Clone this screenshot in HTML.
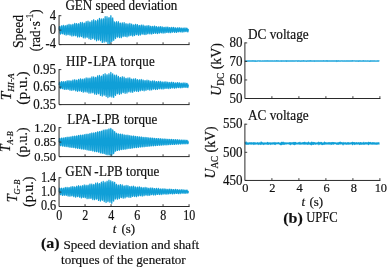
<!DOCTYPE html>
<html><head><meta charset="utf-8"><title>Figure</title>
<style>html,body{margin:0;padding:0;background:#fff}svg{display:block}</style>
</head><body>
<svg width="387" height="268" viewBox="0 0 387 268" font-family="'Liberation Serif', 'Times New Roman', serif" fill="#111" stroke="#111" stroke-width="0.18">
<path d="M59.0,26.7 L59.5,26.6 L59.9,26.5 L60.3,26.5 L60.8,26.4 L61.2,26.4 L61.6,26.3 L62.1,26.2 L62.5,26.2 L62.9,26.1 L63.4,26.1 L63.8,26.0 L64.2,25.9 L64.7,25.9 L65.1,25.8 L65.5,25.8 L66.0,25.7 L66.4,25.6 L66.8,25.6 L67.3,25.5 L67.7,25.5 L68.1,25.4 L68.6,25.3 L69.0,25.3 L69.4,25.2 L69.9,25.2 L70.3,25.1 L70.7,25.0 L71.2,25.0 L71.6,24.9 L72.0,24.9 L72.5,24.8 L72.9,24.7 L73.3,24.7 L73.8,24.6 L74.2,24.6 L74.6,24.5 L75.1,24.4 L75.5,24.4 L75.9,24.3 L76.4,24.3 L76.8,24.2 L77.2,24.1 L77.7,24.1 L78.1,24.0 L78.5,24.0 L78.9,23.9 L79.4,23.8 L79.8,23.8 L80.2,23.7 L80.7,23.7 L81.1,23.6 L81.5,23.5 L82.0,23.5 L82.4,23.4 L82.8,23.4 L83.3,23.3 L83.7,23.2 L84.1,23.2 L84.6,23.1 L85.0,23.1 L85.4,23.0 L85.9,22.9 L86.3,22.8 L86.7,22.8 L87.2,22.7 L87.6,22.6 L88.0,22.5 L88.5,22.4 L88.9,22.4 L89.3,22.3 L89.8,22.2 L90.2,22.1 L90.6,22.1 L91.1,22.0 L91.5,21.9 L91.9,21.8 L92.4,21.7 L92.8,21.7 L93.2,21.6 L93.7,21.5 L94.1,21.4 L94.5,21.4 L95.0,21.3 L95.4,21.2 L95.8,21.1 L96.3,21.0 L96.7,21.0 L97.1,20.9 L97.6,20.8 L98.0,20.7 L98.4,20.6 L98.8,20.5 L99.3,20.4 L99.7,20.3 L100.1,20.2 L100.6,20.0 L101.0,19.9 L101.4,19.8 L101.9,19.7 L102.3,19.6 L102.7,19.5 L103.2,19.4 L103.6,19.3 L104.0,19.1 L104.5,19.0 L104.9,18.9 L105.3,18.8 L105.8,18.7 L106.2,18.6 L106.6,18.5 L107.1,18.4 L107.5,18.3 L107.9,18.2 L108.4,18.1 L108.8,17.9 L109.2,17.8 L109.7,17.7 L110.1,17.7 L110.5,17.8 L111.0,17.9 L111.4,18.1 L111.8,18.7 L112.3,19.2 L112.7,19.7 L113.1,20.3 L113.6,20.8 L114.0,21.4 L114.4,21.9 L114.9,22.5 L115.3,22.6 L115.7,22.7 L116.2,22.8 L116.6,22.8 L117.0,22.9 L117.5,22.9 L117.9,23.0 L118.3,23.1 L118.8,23.1 L119.2,23.2 L119.6,23.3 L120.0,23.3 L120.5,23.4 L120.9,23.4 L121.3,23.5 L121.8,23.6 L122.2,23.6 L122.6,23.7 L123.1,23.7 L123.5,23.8 L123.9,23.8 L124.4,23.9 L124.8,23.9 L125.2,24.0 L125.7,24.1 L126.1,24.1 L126.5,24.2 L127.0,24.2 L127.4,24.3 L127.8,24.3 L128.3,24.4 L128.7,24.4 L129.1,24.5 L129.6,24.5 L130.0,24.6 L130.4,24.6 L130.9,24.7 L131.3,24.7 L131.7,24.8 L132.2,24.8 L132.6,24.9 L133.0,24.9 L133.5,24.9 L133.9,25.0 L134.3,25.0 L134.8,25.1 L135.2,25.1 L135.6,25.2 L136.1,25.2 L136.5,25.3 L136.9,25.3 L137.4,25.3 L137.8,25.4 L138.2,25.4 L138.6,25.5 L139.1,25.5 L139.5,25.5 L139.9,25.6 L140.4,25.6 L140.8,25.7 L141.2,25.7 L141.7,25.7 L142.1,25.8 L142.5,25.8 L143.0,25.9 L143.4,25.9 L143.8,25.9 L144.3,26.0 L144.7,26.0 L145.1,26.0 L145.6,26.1 L146.0,26.1 L146.4,26.1 L146.9,26.2 L147.3,26.2 L147.7,26.2 L148.2,26.3 L148.6,26.3 L149.0,26.3 L149.5,26.4 L149.9,26.4 L150.3,26.4 L150.8,26.5 L151.2,26.5 L151.6,26.5 L152.1,26.6 L152.5,26.6 L152.9,26.6 L153.4,26.7 L153.8,26.7 L154.2,26.7 L154.7,26.7 L155.1,26.8 L155.5,26.8 L156.0,26.8 L156.4,26.9 L156.8,26.9 L157.3,26.9 L157.7,26.9 L158.1,27.0 L158.6,27.0 L159.0,27.0 L159.4,27.0 L159.8,27.1 L160.3,27.1 L160.7,27.1 L161.1,27.2 L161.6,27.2 L162.0,27.2 L162.4,27.2 L162.9,27.3 L163.3,27.3 L163.7,27.3 L164.2,27.3 L164.6,27.3 L165.0,27.4 L165.5,27.4 L165.9,27.4 L166.3,27.4 L166.8,27.5 L167.2,27.5 L167.6,27.5 L168.1,27.5 L168.5,27.6 L168.9,27.6 L169.4,27.6 L169.8,27.6 L170.2,27.6 L170.7,27.7 L171.1,27.7 L171.5,27.7 L172.0,27.7 L172.4,27.7 L172.8,27.8 L173.3,27.8 L173.7,27.8 L174.1,27.8 L174.6,27.8 L175.0,27.9 L175.4,27.9 L175.9,27.9 L176.3,27.9 L176.7,27.9 L177.2,27.9 L177.6,28.0 L178.0,28.0 L178.4,28.0 L178.9,28.0 L179.3,28.0 L179.7,28.1 L180.2,28.1 L180.6,28.1 L181.0,28.1 L181.5,28.1 L181.9,28.1 L182.3,28.2 L182.8,28.2 L183.2,28.2 L183.6,28.2 L184.1,28.2 L184.5,28.2 L184.9,28.3 L185.4,28.3 L185.8,28.3 L186.2,28.3 L186.7,28.3 L187.1,28.3 L187.5,28.3 L188.0,28.4 L188.4,28.4 L188.4,31.5 L188.0,31.5 L187.5,31.6 L187.1,31.6 L186.7,31.6 L186.2,31.6 L185.8,31.6 L185.4,31.6 L184.9,31.6 L184.5,31.7 L184.1,31.7 L183.6,31.7 L183.2,31.7 L182.8,31.7 L182.3,31.7 L181.9,31.8 L181.5,31.8 L181.0,31.8 L180.6,31.8 L180.2,31.8 L179.7,31.8 L179.3,31.9 L178.9,31.9 L178.4,31.9 L178.0,31.9 L177.6,31.9 L177.2,32.0 L176.7,32.0 L176.3,32.0 L175.9,32.0 L175.4,32.0 L175.0,32.0 L174.6,32.1 L174.1,32.1 L173.7,32.1 L173.3,32.1 L172.8,32.1 L172.4,32.2 L172.0,32.2 L171.5,32.2 L171.1,32.2 L170.7,32.2 L170.2,32.3 L169.8,32.3 L169.4,32.3 L168.9,32.3 L168.5,32.3 L168.1,32.4 L167.6,32.4 L167.2,32.4 L166.8,32.4 L166.3,32.5 L165.9,32.5 L165.5,32.5 L165.0,32.5 L164.6,32.6 L164.2,32.6 L163.7,32.6 L163.3,32.6 L162.9,32.6 L162.4,32.7 L162.0,32.7 L161.6,32.7 L161.1,32.7 L160.7,32.8 L160.3,32.8 L159.8,32.8 L159.4,32.9 L159.0,32.9 L158.6,32.9 L158.1,32.9 L157.7,33.0 L157.3,33.0 L156.8,33.0 L156.4,33.0 L156.0,33.1 L155.5,33.1 L155.1,33.1 L154.7,33.2 L154.2,33.2 L153.8,33.2 L153.4,33.2 L152.9,33.3 L152.5,33.3 L152.1,33.3 L151.6,33.4 L151.2,33.4 L150.8,33.4 L150.3,33.5 L149.9,33.5 L149.5,33.5 L149.0,33.6 L148.6,33.6 L148.2,33.6 L147.7,33.7 L147.3,33.7 L146.9,33.7 L146.4,33.8 L146.0,33.8 L145.6,33.8 L145.1,33.9 L144.7,33.9 L144.3,33.9 L143.8,34.0 L143.4,34.0 L143.0,34.0 L142.5,34.1 L142.1,34.1 L141.7,34.2 L141.2,34.2 L140.8,34.2 L140.4,34.3 L139.9,34.3 L139.5,34.4 L139.1,34.4 L138.6,34.4 L138.2,34.5 L137.8,34.5 L137.4,34.6 L136.9,34.6 L136.5,34.6 L136.1,34.7 L135.6,34.7 L135.2,34.8 L134.8,34.8 L134.3,34.9 L133.9,34.9 L133.5,35.0 L133.0,35.0 L132.6,35.0 L132.2,35.1 L131.7,35.1 L131.3,35.2 L130.9,35.2 L130.4,35.3 L130.0,35.3 L129.6,35.4 L129.1,35.4 L128.7,35.5 L128.3,35.5 L127.8,35.6 L127.4,35.6 L127.0,35.7 L126.5,35.7 L126.1,35.8 L125.7,35.8 L125.2,35.9 L124.8,36.0 L124.4,36.0 L123.9,36.1 L123.5,36.1 L123.1,36.2 L122.6,36.2 L122.2,36.3 L121.8,36.3 L121.3,36.4 L120.9,36.5 L120.5,36.5 L120.0,36.6 L119.6,36.6 L119.2,36.7 L118.8,36.8 L118.3,36.8 L117.9,36.9 L117.5,37.0 L117.0,37.0 L116.6,37.1 L116.2,37.1 L115.7,37.2 L115.3,37.3 L114.9,37.4 L114.4,38.0 L114.0,38.5 L113.6,39.1 L113.1,39.6 L112.7,40.2 L112.3,40.7 L111.8,41.2 L111.4,41.8 L111.0,42.0 L110.5,42.1 L110.1,42.2 L109.7,42.2 L109.2,42.1 L108.8,42.0 L108.4,41.8 L107.9,41.7 L107.5,41.6 L107.1,41.5 L106.6,41.4 L106.2,41.3 L105.8,41.2 L105.3,41.1 L104.9,41.0 L104.5,40.9 L104.0,40.8 L103.6,40.6 L103.2,40.5 L102.7,40.4 L102.3,40.3 L101.9,40.2 L101.4,40.1 L101.0,40.0 L100.6,39.9 L100.1,39.7 L99.7,39.6 L99.3,39.5 L98.8,39.4 L98.4,39.3 L98.0,39.2 L97.6,39.1 L97.1,39.0 L96.7,38.9 L96.3,38.9 L95.8,38.8 L95.4,38.7 L95.0,38.6 L94.5,38.5 L94.1,38.5 L93.7,38.4 L93.2,38.3 L92.8,38.2 L92.4,38.2 L91.9,38.1 L91.5,38.0 L91.1,37.9 L90.6,37.8 L90.2,37.8 L89.8,37.7 L89.3,37.6 L88.9,37.5 L88.5,37.5 L88.0,37.4 L87.6,37.3 L87.2,37.2 L86.7,37.1 L86.3,37.1 L85.9,37.0 L85.4,36.9 L85.0,36.8 L84.6,36.8 L84.1,36.7 L83.7,36.7 L83.3,36.6 L82.8,36.5 L82.4,36.5 L82.0,36.4 L81.5,36.4 L81.1,36.3 L80.7,36.2 L80.2,36.2 L79.8,36.1 L79.4,36.1 L78.9,36.0 L78.5,35.9 L78.1,35.9 L77.7,35.8 L77.2,35.8 L76.8,35.7 L76.4,35.6 L75.9,35.6 L75.5,35.5 L75.1,35.5 L74.6,35.4 L74.2,35.3 L73.8,35.3 L73.3,35.2 L72.9,35.2 L72.5,35.1 L72.0,35.0 L71.6,35.0 L71.2,34.9 L70.7,34.9 L70.3,34.8 L69.9,34.7 L69.4,34.7 L69.0,34.6 L68.6,34.6 L68.1,34.5 L67.7,34.4 L67.3,34.4 L66.8,34.3 L66.4,34.3 L66.0,34.2 L65.5,34.1 L65.1,34.1 L64.7,34.0 L64.2,34.0 L63.8,33.9 L63.4,33.8 L62.9,33.8 L62.5,33.7 L62.1,33.7 L61.6,33.6 L61.2,33.5 L60.8,33.5 L60.3,33.4 L59.9,33.4 L59.5,33.3 L59.0,33.2Z" fill="#109fd7" fill-opacity="0.42" stroke="none"/>
<path d="M59.05,29.68 L59.10,28.98 L59.16,28.35 L59.21,27.81 L59.27,27.37 L59.32,27.03 L59.37,26.78 L59.43,26.62 L59.48,26.54 L59.54,26.52 L59.59,26.57 L59.64,26.69 L59.70,26.87 L59.75,27.15 L59.80,27.51 L59.86,27.98 L59.91,28.54 L59.97,29.20 L60.02,29.92 L60.07,30.69 L60.13,31.47 L60.18,32.21 L60.24,32.87 L60.29,33.41 L60.34,33.81 L60.40,34.04 L60.45,34.09 L60.51,33.98 L60.56,33.73 L60.61,33.35 L60.67,32.87 L60.72,32.34 L60.78,31.77 L60.83,31.18 L60.88,30.60 L60.94,30.03 L60.99,29.46 L61.04,28.90 L61.10,28.35 L61.15,27.81 L61.21,27.28 L61.26,26.80 L61.31,26.37 L61.37,26.03 L61.42,25.81 L61.48,25.73 L61.53,25.81 L61.58,26.07 L61.64,26.50 L61.69,27.09 L61.75,27.80 L61.80,28.61 L61.85,29.46 L61.91,30.31 L61.96,31.11 L62.02,31.84 L62.07,32.46 L62.12,32.96 L62.18,33.34 L62.23,33.60 L62.29,33.75 L62.34,33.81 L62.39,33.78 L62.45,33.69 L62.50,33.52 L62.55,33.28 L62.61,32.96 L62.66,32.54 L62.72,32.03 L62.77,31.41 L62.82,30.70 L62.88,29.91 L62.93,29.08 L62.99,28.23 L63.04,27.42 L63.09,26.68 L63.15,26.07 L63.20,25.62 L63.26,25.36 L63.31,25.29 L63.36,25.41 L63.42,25.71 L63.47,26.15 L63.53,26.71 L63.58,27.34 L63.63,28.01 L63.69,28.69 L63.74,29.37 L63.79,30.02 L63.85,30.66 L63.90,31.27 L63.96,31.86 L64.01,32.43 L64.06,32.97 L64.12,33.47 L64.17,33.91 L64.23,34.25 L64.28,34.48 L64.33,34.56 L64.39,34.47 L64.44,34.19 L64.50,33.73 L64.55,33.09 L64.60,32.30 L64.66,31.41 L64.71,30.46 L64.77,29.50 L64.82,28.59 L64.87,27.76 L64.93,27.05 L64.98,26.49 L65.03,26.07 L65.09,25.80 L65.14,25.66 L65.20,25.63 L65.25,25.70 L65.30,25.85 L65.36,26.08 L65.41,26.38 L65.47,26.77 L65.52,27.24 L65.57,27.81 L65.63,28.47 L65.68,29.23 L65.74,30.08 L65.79,30.97 L65.84,31.88 L65.90,32.76 L65.95,33.56 L66.01,34.24 L66.06,34.74 L66.11,35.04 L66.17,35.12 L66.22,34.99 L66.28,34.66 L66.33,34.15 L66.38,33.52 L66.44,32.79 L66.49,32.01 L66.54,31.22 L66.60,30.44 L66.65,29.70 L66.71,28.99 L66.76,28.33 L66.81,27.70 L66.87,27.11 L66.92,26.55 L66.98,26.05 L67.03,25.61 L67.08,25.27 L67.14,25.04 L67.19,24.97 L67.25,25.07 L67.30,25.37 L67.35,25.87 L67.41,26.56 L67.46,27.41 L67.52,28.39 L67.57,29.43 L67.62,30.50 L67.68,31.52 L67.73,32.44 L67.78,33.24 L67.84,33.87 L67.89,34.33 L67.95,34.62 L68.00,34.76 L68.05,34.75 L68.11,34.63 L68.16,34.41 L68.22,34.11 L68.27,33.73 L68.32,33.28 L68.38,32.75 L68.43,32.12 L68.49,31.41 L68.54,30.60 L68.59,29.71 L68.65,28.76 L68.70,27.80 L68.76,26.86 L68.81,25.99 L68.86,25.26 L68.92,24.71 L68.97,24.37 L69.02,24.27 L69.08,24.41 L69.13,24.78 L69.19,25.34 L69.24,26.06 L69.29,26.89 L69.35,27.77 L69.40,28.68 L69.46,29.56 L69.51,30.40 L69.56,31.19 L69.62,31.91 L69.67,32.58 L69.73,33.19 L69.78,33.75 L69.83,34.24 L69.89,34.67 L69.94,35.00 L70.00,35.22 L70.05,35.28 L70.10,35.16 L70.16,34.84 L70.21,34.31 L70.27,33.57 L70.32,32.66 L70.37,31.61 L70.43,30.47 L70.48,29.31 L70.53,28.18 L70.59,27.15 L70.64,26.27 L70.70,25.56 L70.75,25.05 L70.80,24.74 L70.86,24.61 L70.91,24.65 L70.97,24.83 L71.02,25.12 L71.07,25.50 L71.13,25.96 L71.18,26.49 L71.24,27.10 L71.29,27.78 L71.34,28.55 L71.40,29.41 L71.45,30.34 L71.51,31.33 L71.56,32.34 L71.61,33.33 L71.67,34.24 L71.72,35.03 L71.77,35.63 L71.83,36.00 L71.88,36.12 L71.94,35.98 L71.99,35.59 L72.04,34.97 L72.10,34.17 L72.15,33.24 L72.21,32.24 L72.26,31.22 L72.31,30.22 L72.37,29.28 L72.42,28.41 L72.48,27.62 L72.53,26.91 L72.58,26.29 L72.64,25.73 L72.69,25.24 L72.75,24.84 L72.80,24.53 L72.85,24.34 L72.91,24.30 L72.96,24.44 L73.01,24.79 L73.07,25.35 L73.12,26.12 L73.18,27.09 L73.23,28.21 L73.28,29.43 L73.34,30.69 L73.39,31.92 L73.45,33.05 L73.50,34.03 L73.55,34.82 L73.61,35.38 L73.66,35.71 L73.72,35.83 L73.77,35.76 L73.82,35.52 L73.88,35.15 L73.93,34.69 L73.99,34.13 L74.04,33.52 L74.09,32.83 L74.15,32.08 L74.20,31.25 L74.25,30.35 L74.31,29.38 L74.36,28.35 L74.42,27.30 L74.47,26.27 L74.52,25.32 L74.58,24.49 L74.63,23.85 L74.69,23.44 L74.74,23.30 L74.79,23.44 L74.85,23.86 L74.90,24.53 L74.96,25.41 L75.01,26.43 L75.06,27.54 L75.12,28.69 L75.17,29.81 L75.23,30.86 L75.28,31.82 L75.33,32.68 L75.39,33.42 L75.44,34.07 L75.50,34.63 L75.55,35.09 L75.60,35.47 L75.66,35.74 L75.71,35.90 L75.76,35.90 L75.82,35.73 L75.87,35.35 L75.93,34.76 L75.98,33.95 L76.03,32.93 L76.09,31.75 L76.14,30.45 L76.20,29.10 L76.25,27.78 L76.30,26.54 L76.36,25.47 L76.41,24.61 L76.47,23.99 L76.52,23.63 L76.57,23.51 L76.63,23.61 L76.68,23.91 L76.74,24.36 L76.79,24.92 L76.84,25.58 L76.90,26.29 L76.95,27.07 L77.00,27.90 L77.06,28.79 L77.11,29.73 L77.17,30.74 L77.22,31.80 L77.27,32.87 L77.33,33.93 L77.38,34.92 L77.44,35.78 L77.49,36.46 L77.54,36.89 L77.60,37.05 L77.65,36.91 L77.71,36.48 L77.76,35.76 L77.81,34.82 L77.87,33.70 L77.92,32.47 L77.98,31.20 L78.03,29.96 L78.08,28.79 L78.14,27.73 L78.19,26.80 L78.24,26.01 L78.30,25.34 L78.35,24.79 L78.41,24.35 L78.46,24.01 L78.51,23.78 L78.57,23.68 L78.62,23.72 L78.68,23.93 L78.73,24.34 L78.78,24.96 L78.84,25.81 L78.89,26.87 L78.95,28.11 L79.00,29.48 L79.05,30.91 L79.11,32.33 L79.16,33.65 L79.22,34.82 L79.27,35.76 L79.32,36.44 L79.38,36.84 L79.43,36.96 L79.49,36.83 L79.54,36.47 L79.59,35.94 L79.65,35.27 L79.70,34.51 L79.75,33.68 L79.81,32.81 L79.86,31.90 L79.92,30.94 L79.97,29.94 L80.02,28.90 L80.08,27.82 L80.13,26.72 L80.19,25.65 L80.24,24.64 L80.29,23.75 L80.35,23.05 L80.40,22.59 L80.46,22.41 L80.51,22.55 L80.56,23.00 L80.62,23.76 L80.67,24.77 L80.73,25.98 L80.78,27.32 L80.83,28.70 L80.89,30.07 L80.94,31.36 L80.99,32.52 L81.05,33.54 L81.10,34.39 L81.16,35.08 L81.21,35.62 L81.26,36.03 L81.32,36.33 L81.37,36.50 L81.43,36.55 L81.48,36.45 L81.53,36.19 L81.59,35.74 L81.64,35.07 L81.70,34.19 L81.75,33.09 L81.80,31.80 L81.86,30.37 L81.91,28.87 L81.97,27.37 L82.02,25.95 L82.07,24.70 L82.13,23.68 L82.18,22.93 L82.23,22.50 L82.29,22.37 L82.34,22.53 L82.40,22.94 L82.45,23.56 L82.50,24.33 L82.56,25.20 L82.61,26.15 L82.67,27.13 L82.72,28.14 L82.77,29.17 L82.83,30.22 L82.88,31.30 L82.94,32.40 L82.99,33.51 L83.04,34.59 L83.10,35.61 L83.15,36.51 L83.21,37.22 L83.26,37.70 L83.31,37.89 L83.37,37.76 L83.42,37.29 L83.47,36.50 L83.53,35.43 L83.58,34.14 L83.64,32.70 L83.69,31.19 L83.74,29.69 L83.80,28.28 L83.85,27.01 L83.91,25.91 L83.96,25.00 L84.01,24.28 L84.07,23.74 L84.12,23.36 L84.18,23.12 L84.23,23.01 L84.28,23.03 L84.34,23.20 L84.39,23.52 L84.45,24.02 L84.50,24.73 L84.55,25.66 L84.61,26.79 L84.66,28.12 L84.72,29.60 L84.77,31.16 L84.82,32.74 L84.88,34.24 L84.93,35.57 L84.98,36.68 L85.04,37.48 L85.09,37.97 L85.15,38.11 L85.20,37.93 L85.25,37.47 L85.31,36.77 L85.36,35.89 L85.42,34.90 L85.47,33.83 L85.52,32.73 L85.58,31.61 L85.63,30.50 L85.69,29.38 L85.74,28.25 L85.79,27.13 L85.85,26.01 L85.90,24.92 L85.96,23.90 L86.01,23.00 L86.06,22.27 L86.12,21.78 L86.17,21.58 L86.22,21.71 L86.28,22.18 L86.33,23.00 L86.39,24.13 L86.44,25.51 L86.49,27.06 L86.55,28.70 L86.60,30.34 L86.66,31.89 L86.71,33.30 L86.76,34.51 L86.82,35.49 L86.87,36.26 L86.93,36.80 L86.98,37.16 L87.03,37.35 L87.09,37.38 L87.14,37.28 L87.20,37.04 L87.25,36.64 L87.30,36.06 L87.36,35.30 L87.41,34.32 L87.46,33.13 L87.52,31.75 L87.57,30.20 L87.63,28.56 L87.68,26.90 L87.73,25.31 L87.79,23.87 L87.84,22.67 L87.90,21.78 L87.95,21.25 L88.00,21.08 L88.06,21.27 L88.11,21.79 L88.17,22.59 L88.22,23.58 L88.27,24.72 L88.33,25.94 L88.38,27.19 L88.44,28.44 L88.49,29.67 L88.54,30.88 L88.60,32.06 L88.65,33.22 L88.71,34.36 L88.76,35.45 L88.81,36.48 L88.87,37.38 L88.92,38.11 L88.97,38.61 L89.03,38.81 L89.08,38.68 L89.14,38.18 L89.19,37.32 L89.24,36.13 L89.30,34.66 L89.35,32.99 L89.41,31.21 L89.46,29.42 L89.51,27.71 L89.57,26.17 L89.62,24.84 L89.68,23.76 L89.73,22.95 L89.78,22.39 L89.84,22.06 L89.89,21.93 L89.95,21.97 L90.00,22.17 L90.05,22.51 L90.11,23.01 L90.16,23.66 L90.21,24.50 L90.27,25.54 L90.32,26.79 L90.38,28.23 L90.43,29.83 L90.48,31.53 L90.54,33.27 L90.59,34.95 L90.65,36.48 L90.70,37.77 L90.75,38.74 L90.81,39.33 L90.86,39.52 L90.92,39.32 L90.97,38.74 L91.02,37.86 L91.08,36.74 L91.13,35.46 L91.19,34.08 L91.24,32.67 L91.29,31.28 L91.35,29.93 L91.40,28.63 L91.45,27.38 L91.51,26.18 L91.56,25.03 L91.62,23.94 L91.67,22.93 L91.72,22.04 L91.78,21.32 L91.83,20.83 L91.89,20.64 L91.94,20.78 L91.99,21.29 L92.05,22.19 L92.10,23.44 L92.16,24.99 L92.21,26.77 L92.26,28.68 L92.32,30.62 L92.37,32.48 L92.43,34.17 L92.48,35.62 L92.53,36.80 L92.59,37.67 L92.64,38.25 L92.70,38.56 L92.75,38.63 L92.80,38.49 L92.86,38.19 L92.91,37.73 L92.96,37.13 L93.02,36.38 L93.07,35.45 L93.13,34.34 L93.18,33.04 L93.23,31.55 L93.29,29.90 L93.34,28.14 L93.40,26.34 L93.45,24.58 L93.50,22.97 L93.56,21.60 L93.61,20.56 L93.67,19.91 L93.72,19.69 L93.77,19.90 L93.83,20.52 L93.88,21.48 L93.94,22.72 L93.99,24.15 L94.04,25.69 L94.10,27.27 L94.15,28.81 L94.20,30.30 L94.26,31.71 L94.31,33.03 L94.37,34.26 L94.42,35.42 L94.47,36.50 L94.53,37.49 L94.58,38.35 L94.64,39.04 L94.69,39.50 L94.74,39.68 L94.80,39.52 L94.85,38.99 L94.91,38.06 L94.96,36.76 L95.01,35.14 L95.07,33.26 L95.12,31.23 L95.18,29.15 L95.23,27.14 L95.28,25.30 L95.34,23.71 L95.39,22.43 L95.44,21.49 L95.50,20.89 L95.55,20.60 L95.61,20.60 L95.66,20.82 L95.71,21.24 L95.77,21.82 L95.82,22.55 L95.88,23.41 L95.93,24.44 L95.98,25.62 L96.04,26.99 L96.09,28.52 L96.15,30.21 L96.20,32.02 L96.25,33.87 L96.31,35.69 L96.36,37.36 L96.42,38.80 L96.47,39.91 L96.52,40.62 L96.58,40.87 L96.63,40.66 L96.68,40.01 L96.74,38.97 L96.79,37.62 L96.85,36.04 L96.90,34.34 L96.95,32.59 L97.01,30.88 L97.06,29.25 L97.12,27.72 L97.17,26.32 L97.22,25.04 L97.28,23.87 L97.33,22.81 L97.39,21.86 L97.44,21.04 L97.49,20.40 L97.55,19.98 L97.60,19.83 L97.66,20.02 L97.71,20.58 L97.76,21.53 L97.82,22.88 L97.87,24.57 L97.93,26.53 L97.98,28.68 L98.03,30.89 L98.09,33.04 L98.14,35.03 L98.19,36.76 L98.25,38.15 L98.30,39.17 L98.36,39.81 L98.41,40.09 L98.46,40.05 L98.52,39.73 L98.57,39.19 L98.63,38.48 L98.68,37.61 L98.73,36.61 L98.79,35.47 L98.84,34.19 L98.90,32.75 L98.95,31.16 L99.00,29.41 L99.06,27.56 L99.11,25.65 L99.17,23.77 L99.22,22.02 L99.27,20.50 L99.33,19.32 L99.38,18.54 L99.43,18.25 L99.49,18.45 L99.54,19.13 L99.60,20.25 L99.65,21.73 L99.70,23.47 L99.76,25.36 L99.81,27.31 L99.87,29.23 L99.92,31.04 L99.97,32.72 L100.03,34.23 L100.08,35.59 L100.14,36.79 L100.19,37.86 L100.24,38.79 L100.30,39.56 L100.35,40.16 L100.41,40.54 L100.46,40.64 L100.51,40.42 L100.57,39.82 L100.62,38.81 L100.67,37.40 L100.73,35.62 L100.78,33.53 L100.84,31.23 L100.89,28.85 L100.94,26.50 L101.00,24.32 L101.05,22.41 L101.11,20.87 L101.16,19.74 L101.21,19.04 L101.27,18.77 L101.32,18.87 L101.38,19.29 L101.43,19.97 L101.48,20.85 L101.54,21.89 L101.59,23.07 L101.65,24.36 L101.70,25.77 L101.75,27.32 L101.81,29.01 L101.86,30.83 L101.92,32.75 L101.97,34.73 L102.02,36.68 L102.08,38.51 L102.13,40.11 L102.18,41.38 L102.24,42.21 L102.29,42.55 L102.35,42.36 L102.40,41.63 L102.45,40.43 L102.51,38.81 L102.56,36.89 L102.62,34.79 L102.67,32.61 L102.72,30.46 L102.78,28.44 L102.83,26.58 L102.89,24.93 L102.94,23.48 L102.99,22.23 L103.05,21.17 L103.10,20.28 L103.16,19.56 L103.21,19.02 L103.26,18.71 L103.32,18.68 L103.37,18.96 L103.42,19.62 L103.48,20.69 L103.53,22.17 L103.59,24.04 L103.64,26.24 L103.69,28.68 L103.75,31.23 L103.80,33.76 L103.86,36.13 L103.91,38.22 L103.96,39.91 L104.02,41.16 L104.07,41.92 L104.13,42.20 L104.18,42.05 L104.23,41.52 L104.29,40.69 L104.34,39.63 L104.40,38.39 L104.45,37.03 L104.50,35.57 L104.56,34.00 L104.61,32.33 L104.66,30.55 L104.72,28.66 L104.77,26.68 L104.83,24.65 L104.88,22.65 L104.93,20.76 L104.99,19.10 L105.04,17.77 L105.10,16.88 L105.15,16.50 L105.20,16.69 L105.26,17.44 L105.31,18.73 L105.37,20.47 L105.42,22.56 L105.47,24.87 L105.53,27.28 L105.58,29.65 L105.64,31.90 L105.69,33.95 L105.74,35.75 L105.80,37.29 L105.85,38.58 L105.91,39.64 L105.96,40.49 L106.01,41.13 L106.07,41.58 L106.12,41.79 L106.17,41.74 L106.23,41.38 L106.28,40.65 L106.34,39.52 L106.39,37.97 L106.44,36.03 L106.50,33.73 L106.55,31.18 L106.61,28.48 L106.66,25.79 L106.71,23.25 L106.77,21.00 L106.82,19.15 L106.88,17.79 L106.93,16.96 L106.98,16.66 L107.04,16.86 L107.09,17.49 L107.15,18.47 L107.20,19.72 L107.25,21.15 L107.31,22.72 L107.36,24.37 L107.41,26.10 L107.47,27.90 L107.52,29.77 L107.58,31.73 L107.63,33.75 L107.68,35.80 L107.74,37.83 L107.79,39.74 L107.85,41.44 L107.90,42.81 L107.95,43.75 L108.01,44.16 L108.06,43.98 L108.12,43.21 L108.17,41.86 L108.22,40.01 L108.28,37.76 L108.33,35.26 L108.39,32.63 L108.44,30.03 L108.49,27.56 L108.55,25.31 L108.60,23.36 L108.65,21.71 L108.71,20.37 L108.76,19.32 L108.82,18.52 L108.87,17.96 L108.92,17.63 L108.98,17.52 L109.03,17.68 L109.09,18.14 L109.14,18.95 L109.19,20.15 L109.25,21.76 L109.30,23.78 L109.36,26.16 L109.41,28.81 L109.46,31.62 L109.52,34.46 L109.57,37.16 L109.63,39.57 L109.68,41.57 L109.73,43.05 L109.79,43.95 L109.84,44.27 L109.89,44.04 L109.95,43.31 L110.00,42.18 L110.06,40.72 L110.11,39.06 L110.16,37.27 L110.22,35.41 L110.27,33.52 L110.33,31.59 L110.38,29.64 L110.43,27.66 L110.49,25.65 L110.54,23.64 L110.60,21.67 L110.65,19.82 L110.70,18.18 L110.76,16.86 L110.81,15.96 L110.87,15.58 L110.92,15.77 L110.97,16.56 L111.03,17.93 L111.08,19.82 L111.14,22.12 L111.19,24.69 L111.24,27.40 L111.30,30.08 L111.35,32.62 L111.40,34.89 L111.46,36.83 L111.51,38.40 L111.57,39.62 L111.62,40.51 L111.67,41.11 L111.73,41.45 L111.78,41.56 L111.84,41.45 L111.89,41.12 L111.94,40.54 L112.00,39.67 L112.05,38.50 L112.11,37.01 L112.16,35.19 L112.21,33.10 L112.27,30.79 L112.32,28.37 L112.38,25.95 L112.43,23.66 L112.48,21.63 L112.54,19.97 L112.59,18.77 L112.64,18.07 L112.70,17.88 L112.75,18.18 L112.81,18.90 L112.86,19.96 L112.91,21.28 L112.97,22.75 L113.02,24.32 L113.08,25.91 L113.13,27.50 L113.18,29.05 L113.24,30.58 L113.29,32.09 L113.35,33.56 L113.40,35.01 L113.45,36.39 L113.51,37.67 L113.56,38.78 L113.62,39.66 L113.67,40.24 L113.72,40.45 L113.78,40.25 L113.83,39.63 L113.88,38.60 L113.94,37.20 L113.99,35.51 L114.05,33.63 L114.10,31.67 L114.15,29.73 L114.21,27.91 L114.26,26.28 L114.32,24.91 L114.37,23.81 L114.42,22.99 L114.48,22.42 L114.53,22.09 L114.59,21.95 L114.64,21.98 L114.69,22.16 L114.75,22.49 L114.80,22.97 L114.86,23.61 L114.91,24.43 L114.96,25.43 L115.02,26.61 L115.07,27.98 L115.13,29.50 L115.18,31.13 L115.23,32.78 L115.29,34.37 L115.34,35.81 L115.39,37.02 L115.45,37.92 L115.50,38.48 L115.56,38.67 L115.61,38.51 L115.66,38.02 L115.72,37.25 L115.77,36.28 L115.83,35.16 L115.88,33.97 L115.93,32.75 L115.99,31.53 L116.04,30.33 L116.10,29.17 L116.15,28.04 L116.20,26.94 L116.26,25.87 L116.31,24.85 L116.37,23.89 L116.42,23.04 L116.47,22.35 L116.53,21.87 L116.58,21.66 L116.63,21.77 L116.69,22.20 L116.74,22.97 L116.80,24.05 L116.85,25.40 L116.90,26.93 L116.96,28.58 L117.01,30.23 L117.07,31.82 L117.12,33.26 L117.17,34.50 L117.23,35.50 L117.28,36.26 L117.34,36.78 L117.39,37.09 L117.44,37.20 L117.50,37.15 L117.55,36.97 L117.61,36.65 L117.66,36.20 L117.71,35.61 L117.77,34.87 L117.82,33.96 L117.87,32.88 L117.93,31.62 L117.98,30.23 L118.04,28.75 L118.09,27.23 L118.14,25.76 L118.20,24.41 L118.25,23.27 L118.31,22.40 L118.36,21.86 L118.41,21.67 L118.47,21.82 L118.52,22.29 L118.58,23.03 L118.63,23.99 L118.68,25.10 L118.74,26.28 L118.79,27.50 L118.85,28.70 L118.90,29.86 L118.95,30.96 L119.01,32.02 L119.06,33.02 L119.11,33.98 L119.17,34.88 L119.22,35.71 L119.28,36.45 L119.33,37.04 L119.38,37.45 L119.44,37.63 L119.49,37.53 L119.55,37.13 L119.60,36.43 L119.65,35.43 L119.71,34.18 L119.76,32.74 L119.82,31.19 L119.87,29.61 L119.92,28.08 L119.98,26.69 L120.03,25.50 L120.09,24.53 L120.14,23.80 L120.19,23.33 L120.25,23.07 L120.30,23.02 L120.36,23.13 L120.41,23.38 L120.46,23.75 L120.52,24.23 L120.57,24.83 L120.62,25.55 L120.68,26.42 L120.73,27.42 L120.79,28.56 L120.84,29.83 L120.89,31.19 L120.95,32.57 L121.00,33.93 L121.06,35.18 L121.11,36.25 L121.16,37.07 L121.22,37.60 L121.27,37.80 L121.33,37.66 L121.38,37.22 L121.43,36.50 L121.49,35.56 L121.54,34.48 L121.60,33.31 L121.65,32.11 L121.70,30.93 L121.76,29.80 L121.81,28.74 L121.86,27.75 L121.92,26.83 L121.97,25.97 L122.03,25.18 L122.08,24.46 L122.13,23.83 L122.19,23.33 L122.24,22.98 L122.30,22.84 L122.35,22.94 L122.40,23.31 L122.46,23.96 L122.51,24.88 L122.57,26.03 L122.62,27.38 L122.67,28.84 L122.73,30.34 L122.78,31.79 L122.84,33.13 L122.89,34.29 L122.94,35.22 L123.00,35.92 L123.05,36.36 L123.10,36.58 L123.16,36.59 L123.21,36.42 L123.27,36.12 L123.32,35.71 L123.37,35.19 L123.43,34.58 L123.48,33.86 L123.54,33.04 L123.59,32.11 L123.64,31.06 L123.70,29.91 L123.75,28.68 L123.81,27.41 L123.86,26.17 L123.91,25.02 L123.97,24.02 L124.02,23.24 L124.08,22.74 L124.13,22.54 L124.18,22.65 L124.24,23.07 L124.29,23.75 L124.35,24.66 L124.40,25.72 L124.45,26.87 L124.51,28.05 L124.56,29.21 L124.61,30.31 L124.67,31.33 L124.72,32.27 L124.78,33.12 L124.83,33.89 L124.88,34.58 L124.94,35.20 L124.99,35.72 L125.05,36.14 L125.10,36.42 L125.15,36.52 L125.21,36.41 L125.26,36.07 L125.32,35.47 L125.37,34.63 L125.42,33.56 L125.48,32.31 L125.53,30.95 L125.59,29.53 L125.64,28.15 L125.69,26.86 L125.75,25.75 L125.80,24.84 L125.85,24.18 L125.91,23.76 L125.96,23.57 L126.02,23.60 L126.07,23.80 L126.12,24.14 L126.18,24.60 L126.23,25.14 L126.29,25.77 L126.34,26.48 L126.39,27.26 L126.45,28.14 L126.50,29.11 L126.56,30.15 L126.61,31.27 L126.66,32.41 L126.72,33.54 L126.77,34.60 L126.83,35.52 L126.88,36.25 L126.93,36.73 L126.99,36.93 L127.04,36.84 L127.09,36.45 L127.15,35.80 L127.20,34.94 L127.26,33.91 L127.31,32.79 L127.36,31.64 L127.42,30.50 L127.47,29.42 L127.53,28.43 L127.58,27.54 L127.63,26.75 L127.69,26.06 L127.74,25.45 L127.80,24.93 L127.85,24.49 L127.90,24.16 L127.96,23.94 L128.01,23.88 L128.07,24.00 L128.12,24.33 L128.17,24.88 L128.23,25.65 L128.28,26.64 L128.34,27.79 L128.39,29.07 L128.44,30.39 L128.50,31.71 L128.55,32.93 L128.60,34.00 L128.66,34.87 L128.71,35.52 L128.77,35.92 L128.82,36.08 L128.87,36.03 L128.93,35.80 L128.98,35.43 L129.04,34.94 L129.09,34.37 L129.14,33.73 L129.20,33.03 L129.25,32.26 L129.31,31.44 L129.36,30.55 L129.41,29.59 L129.47,28.58 L129.52,27.55 L129.58,26.53 L129.63,25.56 L129.68,24.72 L129.74,24.04 L129.79,23.59 L129.84,23.39 L129.90,23.47 L129.95,23.82 L130.01,24.43 L130.06,25.25 L130.11,26.24 L130.17,27.32 L130.22,28.45 L130.28,29.56 L130.33,30.61 L130.38,31.57 L130.44,32.42 L130.49,33.16 L130.55,33.79 L130.60,34.33 L130.65,34.77 L130.71,35.12 L130.76,35.38 L130.82,35.53 L130.87,35.55 L130.92,35.41 L130.98,35.10 L131.03,34.59 L131.08,33.87 L131.14,32.97 L131.19,31.91 L131.25,30.73 L131.30,29.49 L131.35,28.25 L131.41,27.09 L131.46,26.06 L131.52,25.22 L131.57,24.60 L131.62,24.22 L131.68,24.06 L131.73,24.13 L131.79,24.38 L131.84,24.78 L131.89,25.29 L131.95,25.88 L132.00,26.53 L132.06,27.23 L132.11,27.97 L132.16,28.76 L132.22,29.59 L132.27,30.46 L132.32,31.37 L132.38,32.30 L132.43,33.22 L132.49,34.09 L132.54,34.86 L132.59,35.48 L132.65,35.91 L132.70,36.10 L132.76,36.04 L132.81,35.71 L132.86,35.15 L132.92,34.37 L132.97,33.43 L133.03,32.38 L133.08,31.29 L133.13,30.21 L133.19,29.18 L133.24,28.25 L133.30,27.43 L133.35,26.74 L133.40,26.16 L133.46,25.69 L133.51,25.32 L133.57,25.04 L133.62,24.85 L133.67,24.76 L133.73,24.78 L133.78,24.94 L133.83,25.25 L133.89,25.73 L133.94,26.38 L134.00,27.21 L134.05,28.19 L134.10,29.28 L134.16,30.43 L134.21,31.59 L134.27,32.69 L134.32,33.67 L134.37,34.47 L134.43,35.07 L134.48,35.45 L134.54,35.59 L134.59,35.52 L134.64,35.26 L134.70,34.84 L134.75,34.32 L134.81,33.71 L134.86,33.04 L134.91,32.35 L134.97,31.62 L135.02,30.87 L135.07,30.10 L135.13,29.30 L135.18,28.48 L135.24,27.64 L135.29,26.82 L135.34,26.04 L135.40,25.34 L135.45,24.78 L135.51,24.39 L135.56,24.20 L135.61,24.25 L135.67,24.54 L135.72,25.07 L135.78,25.80 L135.83,26.69 L135.88,27.69 L135.94,28.75 L135.99,29.80 L136.05,30.79 L136.10,31.70 L136.15,32.49 L136.21,33.15 L136.26,33.68 L136.31,34.10 L136.37,34.41 L136.42,34.62 L136.48,34.75 L136.53,34.78 L136.58,34.72 L136.64,34.54 L136.69,34.24 L136.75,33.78 L136.80,33.18 L136.85,32.42 L136.91,31.52 L136.96,30.52 L137.02,29.45 L137.07,28.37 L137.12,27.34 L137.18,26.41 L137.23,25.64 L137.29,25.06 L137.34,24.70 L137.39,24.56 L137.45,24.63 L137.50,24.90 L137.56,25.32 L137.61,25.85 L137.66,26.47 L137.72,27.14 L137.77,27.84 L137.82,28.55 L137.88,29.27 L137.93,29.99 L137.99,30.73 L138.04,31.48 L138.09,32.22 L138.15,32.96 L138.20,33.65 L138.26,34.27 L138.31,34.78 L138.36,35.14 L138.42,35.31 L138.47,35.27 L138.53,35.00 L138.58,34.52 L138.63,33.84 L138.69,33.00 L138.74,32.05 L138.80,31.04 L138.85,30.02 L138.90,29.06 L138.96,28.18 L139.01,27.41 L139.06,26.78 L139.12,26.28 L139.17,25.91 L139.23,25.65 L139.28,25.49 L139.33,25.42 L139.39,25.44 L139.44,25.54 L139.50,25.74 L139.55,26.05 L139.60,26.49 L139.66,27.05 L139.71,27.75 L139.77,28.57 L139.82,29.49 L139.87,30.47 L139.93,31.47 L139.98,32.44 L140.04,33.31 L140.09,34.05 L140.14,34.61 L140.20,34.96 L140.25,35.09 L140.30,35.02 L140.36,34.76 L140.41,34.34 L140.47,33.80 L140.52,33.18 L140.57,32.51 L140.63,31.81 L140.68,31.11 L140.74,30.42 L140.79,29.73 L140.84,29.05 L140.90,28.37 L140.95,27.70 L141.01,27.05 L141.06,26.44 L141.11,25.89 L141.17,25.44 L141.22,25.12 L141.28,24.96 L141.33,25.00 L141.38,25.24 L141.44,25.68 L141.49,26.31 L141.54,27.10 L141.60,28.00 L141.65,28.97 L141.71,29.94 L141.76,30.88 L141.81,31.73 L141.87,32.47 L141.92,33.07 L141.98,33.54 L142.03,33.88 L142.08,34.10 L142.14,34.21 L142.19,34.23 L142.25,34.17 L142.30,34.03 L142.35,33.80 L142.41,33.49 L142.46,33.07 L142.52,32.54 L142.57,31.90 L142.62,31.15 L142.68,30.31 L142.73,29.41 L142.79,28.48 L142.84,27.59 L142.89,26.76 L142.95,26.07 L143.00,25.53 L143.05,25.19 L143.11,25.05 L143.16,25.12 L143.22,25.37 L143.27,25.79 L143.32,26.32 L143.38,26.94 L143.43,27.61 L143.49,28.31 L143.54,29.00 L143.59,29.67 L143.65,30.32 L143.70,30.96 L143.76,31.58 L143.81,32.17 L143.86,32.75 L143.92,33.29 L143.97,33.77 L144.03,34.16 L144.08,34.44 L144.13,34.58 L144.19,34.55 L144.24,34.33 L144.29,33.92 L144.35,33.34 L144.40,32.61 L144.46,31.76 L144.51,30.84 L144.56,29.91 L144.62,29.01 L144.67,28.18 L144.73,27.47 L144.78,26.89 L144.83,26.44 L144.89,26.13 L144.94,25.95 L145.00,25.88 L145.05,25.90 L145.10,26.00 L145.16,26.18 L145.21,26.42 L145.27,26.74 L145.32,27.15 L145.37,27.65 L145.43,28.24 L145.48,28.93 L145.53,29.70 L145.59,30.52 L145.64,31.37 L145.70,32.20 L145.75,32.96 L145.80,33.62 L145.86,34.13 L145.91,34.46 L145.97,34.60 L146.02,34.54 L146.07,34.30 L146.13,33.90 L146.18,33.37 L146.24,32.75 L146.29,32.09 L146.34,31.40 L146.40,30.72 L146.45,30.07 L146.51,29.44 L146.56,28.85 L146.61,28.28 L146.67,27.75 L146.72,27.24 L146.78,26.77 L146.83,26.36 L146.88,26.02 L146.94,25.77 L146.99,25.66 L147.04,25.69 L147.10,25.89 L147.15,26.26 L147.21,26.80 L147.26,27.48 L147.31,28.28 L147.37,29.14 L147.42,30.03 L147.48,30.89 L147.53,31.69 L147.58,32.38 L147.64,32.94 L147.69,33.37 L147.75,33.65 L147.80,33.81 L147.85,33.85 L147.91,33.79 L147.96,33.66 L148.02,33.45 L148.07,33.18 L148.12,32.85 L148.18,32.45 L148.23,31.98 L148.28,31.43 L148.34,30.80 L148.39,30.10 L148.45,29.35 L148.50,28.58 L148.55,27.81 L148.61,27.10 L148.66,26.49 L148.72,26.01 L148.77,25.69 L148.82,25.55 L148.88,25.60 L148.93,25.83 L148.99,26.21 L149.04,26.73 L149.09,27.33 L149.15,27.98 L149.20,28.66 L149.26,29.33 L149.31,29.97 L149.36,30.57 L149.42,31.13 L149.47,31.65 L149.52,32.14 L149.58,32.58 L149.63,32.98 L149.69,33.34 L149.74,33.63 L149.79,33.83 L149.85,33.92 L149.90,33.88 L149.96,33.70 L150.01,33.36 L150.06,32.86 L150.12,32.23 L150.17,31.49 L150.23,30.68 L150.28,29.84 L150.33,29.02 L150.39,28.25 L150.44,27.59 L150.50,27.04 L150.55,26.63 L150.60,26.37 L150.66,26.23 L150.71,26.21 L150.77,26.30 L150.82,26.46 L150.87,26.69 L150.93,26.98 L150.98,27.32 L151.03,27.72 L151.09,28.17 L151.14,28.68 L151.20,29.26 L151.25,29.90 L151.30,30.58 L151.36,31.29 L151.41,31.98 L151.47,32.63 L151.52,33.21 L151.57,33.66 L151.63,33.97 L151.68,34.10 L151.74,34.06 L151.79,33.85 L151.84,33.49 L151.90,32.99 L151.95,32.41 L152.01,31.76 L152.06,31.10 L152.11,30.44 L152.17,29.81 L152.22,29.23 L152.27,28.70 L152.33,28.22 L152.38,27.78 L152.44,27.39 L152.49,27.04 L152.54,26.75 L152.60,26.51 L152.65,26.35 L152.71,26.28 L152.76,26.32 L152.81,26.50 L152.87,26.81 L152.92,27.26 L152.98,27.85 L153.03,28.53 L153.08,29.29 L153.14,30.08 L153.19,30.87 L153.25,31.60 L153.30,32.24 L153.35,32.76 L153.41,33.16 L153.46,33.41 L153.51,33.53 L153.57,33.53 L153.62,33.43 L153.68,33.24 L153.73,32.99 L153.78,32.68 L153.84,32.33 L153.89,31.94 L153.95,31.50 L154.00,31.02 L154.05,30.48 L154.11,29.90 L154.16,29.28 L154.22,28.65 L154.27,28.01 L154.32,27.42 L154.38,26.89 L154.43,26.47 L154.49,26.17 L154.54,26.04 L154.59,26.07 L154.65,26.26 L154.70,26.61 L154.75,27.08 L154.81,27.65 L154.86,28.27 L154.92,28.93 L154.97,29.57 L155.02,30.18 L155.08,30.75 L155.13,31.25 L155.19,31.70 L155.24,32.10 L155.29,32.44 L155.35,32.74 L155.40,32.98 L155.46,33.18 L155.51,33.30 L155.56,33.34 L155.62,33.29 L155.67,33.12 L155.73,32.83 L155.78,32.41 L155.83,31.88 L155.89,31.25 L155.94,30.54 L156.00,29.80 L156.05,29.06 L156.10,28.36 L156.16,27.75 L156.21,27.24 L156.26,26.86 L156.32,26.62 L156.37,26.51 L156.43,26.52 L156.48,26.64 L156.53,26.84 L156.59,27.11 L156.64,27.44 L156.70,27.79 L156.75,28.19 L156.80,28.61 L156.86,29.07 L156.91,29.56 L156.97,30.09 L157.02,30.65 L157.07,31.23 L157.13,31.80 L157.18,32.34 L157.24,32.82 L157.29,33.22 L157.34,33.49 L157.40,33.62 L157.45,33.60 L157.50,33.42 L157.56,33.10 L157.61,32.65 L157.67,32.11 L157.72,31.50 L157.77,30.87 L157.83,30.24 L157.88,29.64 L157.94,29.09 L157.99,28.61 L158.04,28.18 L158.10,27.82 L158.15,27.52 L158.21,27.27 L158.26,27.07 L158.31,26.92 L158.37,26.83 L158.42,26.82 L158.48,26.88 L158.53,27.05 L158.58,27.32 L158.64,27.70 L158.69,28.19 L158.74,28.77 L158.80,29.43 L158.85,30.12 L158.91,30.82 L158.96,31.48 L159.01,32.06 L159.07,32.55 L159.12,32.92 L159.18,33.15 L159.23,33.25 L159.28,33.23 L159.34,33.10 L159.39,32.89 L159.45,32.60 L159.50,32.27 L159.55,31.91 L159.61,31.51 L159.66,31.10 L159.72,30.66 L159.77,30.20 L159.82,29.72 L159.88,29.21 L159.93,28.69 L159.99,28.18 L160.04,27.69 L160.09,27.25 L160.15,26.89 L160.20,26.64 L160.25,26.51 L160.31,26.53 L160.36,26.69 L160.42,26.99 L160.47,27.41 L160.52,27.93 L160.58,28.51 L160.63,29.12 L160.69,29.73 L160.74,30.32 L160.79,30.85 L160.85,31.32 L160.90,31.72 L160.96,32.05 L161.01,32.32 L161.06,32.53 L161.12,32.69 L161.17,32.80 L161.23,32.85 L161.28,32.85 L161.33,32.77 L161.39,32.60 L161.44,32.35 L161.49,31.99 L161.55,31.54 L161.60,31.01 L161.66,30.41 L161.71,29.76 L161.76,29.11 L161.82,28.49 L161.87,27.93 L161.93,27.46 L161.98,27.11 L162.03,26.88 L162.09,26.78 L162.14,26.81 L162.20,26.94 L162.25,27.17 L162.30,27.46 L162.36,27.80 L162.41,28.17 L162.47,28.56 L162.52,28.97 L162.57,29.39 L162.63,29.82 L162.68,30.27 L162.73,30.73 L162.79,31.19 L162.84,31.65 L162.90,32.09 L162.95,32.48 L163.00,32.81 L163.06,33.04 L163.11,33.16 L163.17,33.15 L163.22,33.01 L163.27,32.73 L163.33,32.34 L163.38,31.85 L163.44,31.29 L163.49,30.70 L163.54,30.11 L163.60,29.54 L163.65,29.02 L163.71,28.57 L163.76,28.19 L163.81,27.88 L163.87,27.64 L163.92,27.46 L163.98,27.34 L164.03,27.26 L164.08,27.24 L164.14,27.27 L164.19,27.37 L164.24,27.53 L164.30,27.77 L164.35,28.10 L164.41,28.52 L164.46,29.01 L164.51,29.56 L164.57,30.15 L164.62,30.76 L164.68,31.34 L164.73,31.87 L164.78,32.32 L164.84,32.66 L164.89,32.88 L164.95,32.98 L165.00,32.95 L165.05,32.81 L165.11,32.59 L165.16,32.29 L165.22,31.95 L165.27,31.57 L165.32,31.18 L165.38,30.78 L165.43,30.37 L165.48,29.96 L165.54,29.55 L165.59,29.14 L165.65,28.72 L165.70,28.31 L165.75,27.92 L165.81,27.57 L165.86,27.28 L165.92,27.07 L165.97,26.96 L166.02,26.96 L166.08,27.09 L166.13,27.35 L166.19,27.71 L166.24,28.17 L166.29,28.70 L166.35,29.27 L166.40,29.84 L166.46,30.39 L166.51,30.89 L166.56,31.33 L166.62,31.70 L166.67,31.98 L166.72,32.20 L166.78,32.35 L166.83,32.45 L166.89,32.49 L166.94,32.48 L166.99,32.43 L167.05,32.32 L167.10,32.15 L167.16,31.92 L167.21,31.61 L167.26,31.23 L167.32,30.78 L167.37,30.27 L167.43,29.73 L167.48,29.17 L167.53,28.62 L167.59,28.12 L167.64,27.70 L167.70,27.37 L167.75,27.16 L167.80,27.06 L167.86,27.09 L167.91,27.22 L167.96,27.45 L168.02,27.75 L168.07,28.09 L168.13,28.47 L168.18,28.86 L168.23,29.26 L168.29,29.65 L168.34,30.04 L168.40,30.42 L168.45,30.80 L168.50,31.17 L168.56,31.53 L168.61,31.88 L168.67,32.19 L168.72,32.45 L168.77,32.64 L168.83,32.73 L168.88,32.73 L168.94,32.61 L168.99,32.38 L169.04,32.04 L169.10,31.61 L169.15,31.11 L169.21,30.57 L169.26,30.02 L169.31,29.49 L169.37,29.01 L169.42,28.58 L169.47,28.23 L169.53,27.96 L169.58,27.76 L169.64,27.63 L169.69,27.56 L169.74,27.55 L169.80,27.58 L169.85,27.66 L169.91,27.78 L169.96,27.95 L170.01,28.18 L170.07,28.47 L170.12,28.82 L170.18,29.23 L170.23,29.69 L170.28,30.19 L170.34,30.71 L170.39,31.21 L170.45,31.68 L170.50,32.08 L170.55,32.39 L170.61,32.60 L170.66,32.70 L170.71,32.67 L170.77,32.54 L170.82,32.32 L170.88,32.03 L170.93,31.68 L170.98,31.31 L171.04,30.92 L171.09,30.53 L171.15,30.14 L171.20,29.78 L171.25,29.42 L171.31,29.07 L171.36,28.74 L171.42,28.42 L171.47,28.12 L171.52,27.84 L171.58,27.62 L171.63,27.45 L171.69,27.36 L171.74,27.37 L171.79,27.48 L171.85,27.69 L171.90,28.00 L171.95,28.40 L172.01,28.87 L172.06,29.38 L172.12,29.91 L172.17,30.42 L172.22,30.89 L172.28,31.30 L172.33,31.64 L172.39,31.90 L172.44,32.08 L172.49,32.19 L172.55,32.24 L172.60,32.23 L172.66,32.17 L172.71,32.08 L172.76,31.94 L172.82,31.76 L172.87,31.54 L172.93,31.27 L172.98,30.94 L173.03,30.57 L173.09,30.14 L173.14,29.69 L173.20,29.22 L173.25,28.75 L173.30,28.31 L173.36,27.94 L173.41,27.64 L173.46,27.44 L173.52,27.35 L173.57,27.36 L173.63,27.49 L173.68,27.70 L173.73,27.99 L173.79,28.33 L173.84,28.70 L173.90,29.09 L173.95,29.47 L174.00,29.85 L174.06,30.20 L174.11,30.54 L174.17,30.86 L174.22,31.16 L174.27,31.44 L174.33,31.70 L174.38,31.94 L174.44,32.13 L174.49,32.27 L174.54,32.35 L174.60,32.34 L174.65,32.24 L174.70,32.05 L174.76,31.76 L174.81,31.39 L174.87,30.95 L174.92,30.47 L174.97,29.97 L175.03,29.48 L175.08,29.03 L175.14,28.63 L175.19,28.30 L175.24,28.05 L175.30,27.88 L175.35,27.79 L175.41,27.76 L175.46,27.78 L175.51,27.86 L175.57,27.97 L175.62,28.12 L175.68,28.30 L175.73,28.52 L175.78,28.78 L175.84,29.09 L175.89,29.43 L175.94,29.82 L176.00,30.23 L176.05,30.67 L176.11,31.09 L176.16,31.50 L176.21,31.85 L176.27,32.13 L176.32,32.32 L176.38,32.41 L176.43,32.40 L176.48,32.29 L176.54,32.08 L176.59,31.80 L176.65,31.47 L176.70,31.10 L176.75,30.72 L176.81,30.34 L176.86,29.98 L176.92,29.63 L176.97,29.31 L177.02,29.02 L177.08,28.75 L177.13,28.50 L177.18,28.27 L177.24,28.07 L177.29,27.91 L177.35,27.79 L177.40,27.73 L177.45,27.74 L177.51,27.84 L177.56,28.01 L177.62,28.28 L177.67,28.62 L177.72,29.03 L177.78,29.48 L177.83,29.95 L177.89,30.42 L177.94,30.85 L177.99,31.23 L178.05,31.55 L178.10,31.79 L178.16,31.95 L178.21,32.04 L178.26,32.05 L178.32,32.01 L178.37,31.92 L178.43,31.79 L178.48,31.63 L178.53,31.44 L178.59,31.22 L178.64,30.97 L178.69,30.69 L178.75,30.37 L178.80,30.02 L178.86,29.64 L178.91,29.25 L178.96,28.86 L179.02,28.49 L179.07,28.16 L179.13,27.90 L179.18,27.72 L179.23,27.63 L179.29,27.63 L179.34,27.74 L179.40,27.93 L179.45,28.20 L179.50,28.53 L179.56,28.89 L179.61,29.26 L179.67,29.63 L179.72,29.99 L179.77,30.32 L179.83,30.62 L179.88,30.90 L179.93,31.14 L179.99,31.36 L180.04,31.56 L180.10,31.73 L180.15,31.86 L180.20,31.96 L180.26,32.00 L180.31,31.99 L180.37,31.90 L180.42,31.73 L180.47,31.49 L180.53,31.17 L180.58,30.80 L180.64,30.38 L180.69,29.93 L180.74,29.49 L180.80,29.08 L180.85,28.71 L180.91,28.40 L180.96,28.17 L181.01,28.02 L181.07,27.94 L181.12,27.93 L181.17,27.99 L181.23,28.09 L181.28,28.23 L181.34,28.40 L181.39,28.60 L181.44,28.81 L181.50,29.06 L181.55,29.32 L181.61,29.62 L181.66,29.94 L181.71,30.28 L181.77,30.64 L181.82,30.99 L181.88,31.33 L181.93,31.63 L181.98,31.88 L182.04,32.05 L182.09,32.14 L182.15,32.13 L182.20,32.04 L182.25,31.85 L182.31,31.60 L182.36,31.28 L182.42,30.94 L182.47,30.57 L182.52,30.21 L182.58,29.86 L182.63,29.54 L182.68,29.25 L182.74,28.99 L182.79,28.76 L182.85,28.57 L182.90,28.40 L182.95,28.26 L183.01,28.15 L183.06,28.08 L183.12,28.05 L183.17,28.08 L183.22,28.16 L183.28,28.32 L183.33,28.54 L183.39,28.83 L183.44,29.18 L183.49,29.57 L183.55,29.98 L183.60,30.40 L183.66,30.79 L183.71,31.15 L183.76,31.44 L183.82,31.66 L183.87,31.81 L183.92,31.88 L183.98,31.88 L184.03,31.82 L184.09,31.71 L184.14,31.56 L184.19,31.38 L184.25,31.18 L184.30,30.96 L184.36,30.72 L184.41,30.47 L184.46,30.20 L184.52,29.90 L184.57,29.59 L184.63,29.27 L184.68,28.95 L184.73,28.65 L184.79,28.37 L184.84,28.15 L184.90,27.98 L184.95,27.90 L185.00,27.90 L185.06,27.99 L185.11,28.16 L185.16,28.40 L185.22,28.70 L185.27,29.03 L185.33,29.39 L185.38,29.75 L185.43,30.09 L185.49,30.40 L185.54,30.68 L185.60,30.92 L185.65,31.13 L185.70,31.30 L185.76,31.44 L185.81,31.55 L185.87,31.64 L185.92,31.69 L185.97,31.70 L186.03,31.67 L186.08,31.59 L186.14,31.44 L186.19,31.24 L186.24,30.97 L186.30,30.65 L186.35,30.29 L186.41,29.90 L186.46,29.51 L186.51,29.14 L186.57,28.80 L186.62,28.52 L186.67,28.30 L186.73,28.16 L186.78,28.10 L186.84,28.10 L186.89,28.17 L186.94,28.28 L187.00,28.44 L187.05,28.62 L187.11,28.83 L187.16,29.05 L187.21,29.28 L187.27,29.53 L187.32,29.78 L187.38,30.05 L187.43,30.33 L187.48,30.62 L187.54,30.91 L187.59,31.18 L187.65,31.43 L187.70,31.64 L187.75,31.79 L187.81,31.87 L187.86,31.87 L187.91,31.80 L187.97,31.64 L188.02,31.41 L188.08,31.13 L188.13,30.80 L188.18,30.46 L188.24,30.11 L188.29,29.78 L188.35,29.48 L188.40,29.21" fill="none" stroke="#109fd7" stroke-width="1.12" stroke-linejoin="round"/>
<path d="M59.05,15.2 V44.6 H189.55" fill="none" stroke="#2a2a2a" stroke-width="1"/>
<path d="M59.05,15.7 h2.3 M59.05,30.15 h2.3 M59.05,44.6 h2.3 M85.05,44.6 v-2.3 M111.05,44.6 v-2.3 M137.05,44.6 v-2.3 M163.05,44.6 v-2.3 M189.05,44.6 v-2.3 " fill="none" stroke="#2a2a2a" stroke-width="0.9"/>
<text transform="translate(56.0,19.5) scale(1.0,1.08)" font-size="12.6" text-anchor="end" >4</text>
<text transform="translate(56.0,33.95) scale(1.0,1.08)" font-size="12.6" text-anchor="end" >0</text>
<text transform="translate(56.0,48.4) scale(1.0,1.08)" font-size="12.6" text-anchor="end" >-4</text>
<text transform="translate(65.4,10.1) scale(1.0,1.12)" font-size="13.1" text-anchor="start" >GEN speed deviation</text>
<path d="M59.0,82.5 L59.5,82.5 L59.9,82.4 L60.3,82.4 L60.8,82.3 L61.2,82.2 L61.6,82.2 L62.1,82.1 L62.5,82.1 L62.9,82.0 L63.4,82.0 L63.8,81.9 L64.2,81.9 L64.7,81.8 L65.1,81.8 L65.5,81.7 L66.0,81.7 L66.4,81.6 L66.8,81.6 L67.3,81.5 L67.7,81.5 L68.1,81.4 L68.6,81.3 L69.0,81.3 L69.4,81.2 L69.9,81.2 L70.3,81.1 L70.7,81.1 L71.2,81.0 L71.6,81.0 L72.0,80.9 L72.5,80.9 L72.9,80.8 L73.3,80.8 L73.8,80.7 L74.2,80.7 L74.6,80.6 L75.1,80.6 L75.5,80.5 L75.9,80.4 L76.4,80.4 L76.8,80.3 L77.2,80.3 L77.7,80.2 L78.1,80.2 L78.5,80.1 L78.9,80.1 L79.4,80.0 L79.8,80.0 L80.2,79.9 L80.7,79.9 L81.1,79.8 L81.5,79.8 L82.0,79.7 L82.4,79.7 L82.8,79.6 L83.3,79.5 L83.7,79.5 L84.1,79.4 L84.6,79.4 L85.0,79.3 L85.4,79.3 L85.9,79.2 L86.3,79.1 L86.7,79.1 L87.2,79.0 L87.6,78.9 L88.0,78.9 L88.5,78.8 L88.9,78.7 L89.3,78.6 L89.8,78.6 L90.2,78.5 L90.6,78.4 L91.1,78.4 L91.5,78.3 L91.9,78.2 L92.4,78.2 L92.8,78.1 L93.2,78.0 L93.7,78.0 L94.1,77.9 L94.5,77.8 L95.0,77.8 L95.4,77.7 L95.8,77.6 L96.3,77.5 L96.7,77.5 L97.1,77.4 L97.6,77.3 L98.0,77.3 L98.4,77.2 L98.8,77.1 L99.3,77.0 L99.7,76.9 L100.1,76.8 L100.6,76.7 L101.0,76.6 L101.4,76.5 L101.9,76.4 L102.3,76.3 L102.7,76.2 L103.2,76.1 L103.6,76.0 L104.0,75.9 L104.5,75.8 L104.9,75.7 L105.3,75.6 L105.8,75.5 L106.2,75.5 L106.6,75.4 L107.1,75.3 L107.5,75.2 L107.9,75.2 L108.4,75.1 L108.8,75.0 L109.2,74.9 L109.7,74.9 L110.1,74.8 L110.5,74.7 L111.0,74.6 L111.4,74.6 L111.8,74.7 L112.3,74.8 L112.7,74.9 L113.1,75.1 L113.6,75.3 L114.0,75.5 L114.4,75.7 L114.9,76.0 L115.3,76.2 L115.7,76.4 L116.2,76.6 L116.6,76.9 L117.0,77.1 L117.5,77.3 L117.9,77.4 L118.3,77.5 L118.8,77.5 L119.2,77.6 L119.6,77.7 L120.0,77.7 L120.5,77.8 L120.9,77.9 L121.3,77.9 L121.8,78.0 L122.2,78.1 L122.6,78.1 L123.1,78.2 L123.5,78.3 L123.9,78.3 L124.4,78.4 L124.8,78.5 L125.2,78.5 L125.7,78.6 L126.1,78.6 L126.5,78.7 L127.0,78.8 L127.4,78.8 L127.8,78.9 L128.3,78.9 L128.7,79.0 L129.1,79.0 L129.6,79.1 L130.0,79.2 L130.4,79.2 L130.9,79.3 L131.3,79.3 L131.7,79.4 L132.2,79.4 L132.6,79.5 L133.0,79.5 L133.5,79.6 L133.9,79.6 L134.3,79.7 L134.8,79.7 L135.2,79.8 L135.6,79.8 L136.1,79.9 L136.5,79.9 L136.9,80.0 L137.4,80.0 L137.8,80.1 L138.2,80.1 L138.6,80.2 L139.1,80.2 L139.5,80.3 L139.9,80.3 L140.4,80.3 L140.8,80.4 L141.2,80.4 L141.7,80.5 L142.1,80.5 L142.5,80.6 L143.0,80.6 L143.4,80.6 L143.8,80.7 L144.3,80.7 L144.7,80.8 L145.1,80.8 L145.6,80.9 L146.0,80.9 L146.4,80.9 L146.9,81.0 L147.3,81.0 L147.7,81.0 L148.2,81.1 L148.6,81.1 L149.0,81.2 L149.5,81.2 L149.9,81.2 L150.3,81.3 L150.8,81.3 L151.2,81.3 L151.6,81.4 L152.1,81.4 L152.5,81.4 L152.9,81.5 L153.4,81.5 L153.8,81.6 L154.2,81.6 L154.7,81.6 L155.1,81.7 L155.5,81.7 L156.0,81.7 L156.4,81.7 L156.8,81.8 L157.3,81.8 L157.7,81.8 L158.1,81.9 L158.6,81.9 L159.0,81.9 L159.4,82.0 L159.8,82.0 L160.3,82.0 L160.7,82.1 L161.1,82.1 L161.6,82.1 L162.0,82.1 L162.4,82.2 L162.9,82.2 L163.3,82.2 L163.7,82.2 L164.2,82.3 L164.6,82.3 L165.0,82.3 L165.5,82.4 L165.9,82.4 L166.3,82.4 L166.8,82.4 L167.2,82.5 L167.6,82.5 L168.1,82.5 L168.5,82.5 L168.9,82.6 L169.4,82.6 L169.8,82.6 L170.2,82.6 L170.7,82.7 L171.1,82.7 L171.5,82.7 L172.0,82.7 L172.4,82.8 L172.8,82.8 L173.3,82.8 L173.7,82.8 L174.1,82.8 L174.6,82.9 L175.0,82.9 L175.4,82.9 L175.9,82.9 L176.3,82.9 L176.7,83.0 L177.2,83.0 L177.6,83.0 L178.0,83.0 L178.4,83.1 L178.9,83.1 L179.3,83.1 L179.7,83.1 L180.2,83.1 L180.6,83.2 L181.0,83.2 L181.5,83.2 L181.9,83.2 L182.3,83.2 L182.8,83.2 L183.2,83.3 L183.6,83.3 L184.1,83.3 L184.5,83.3 L184.9,83.3 L185.4,83.4 L185.8,83.4 L186.2,83.4 L186.7,83.4 L187.1,83.4 L187.5,83.4 L188.0,83.5 L188.4,83.5 L188.4,87.1 L188.0,87.1 L187.5,87.2 L187.1,87.2 L186.7,87.2 L186.2,87.2 L185.8,87.2 L185.4,87.2 L184.9,87.3 L184.5,87.3 L184.1,87.3 L183.6,87.3 L183.2,87.3 L182.8,87.4 L182.3,87.4 L181.9,87.4 L181.5,87.4 L181.0,87.4 L180.6,87.4 L180.2,87.5 L179.7,87.5 L179.3,87.5 L178.9,87.5 L178.4,87.5 L178.0,87.6 L177.6,87.6 L177.2,87.6 L176.7,87.6 L176.3,87.7 L175.9,87.7 L175.4,87.7 L175.0,87.7 L174.6,87.7 L174.1,87.8 L173.7,87.8 L173.3,87.8 L172.8,87.8 L172.4,87.8 L172.0,87.9 L171.5,87.9 L171.1,87.9 L170.7,87.9 L170.2,88.0 L169.8,88.0 L169.4,88.0 L168.9,88.0 L168.5,88.1 L168.1,88.1 L167.6,88.1 L167.2,88.1 L166.8,88.2 L166.3,88.2 L165.9,88.2 L165.5,88.2 L165.0,88.3 L164.6,88.3 L164.2,88.3 L163.7,88.4 L163.3,88.4 L162.9,88.4 L162.4,88.4 L162.0,88.5 L161.6,88.5 L161.1,88.5 L160.7,88.5 L160.3,88.6 L159.8,88.6 L159.4,88.6 L159.0,88.7 L158.6,88.7 L158.1,88.7 L157.7,88.8 L157.3,88.8 L156.8,88.8 L156.4,88.9 L156.0,88.9 L155.5,88.9 L155.1,88.9 L154.7,89.0 L154.2,89.0 L153.8,89.0 L153.4,89.1 L152.9,89.1 L152.5,89.2 L152.1,89.2 L151.6,89.2 L151.2,89.3 L150.8,89.3 L150.3,89.3 L149.9,89.4 L149.5,89.4 L149.0,89.4 L148.6,89.5 L148.2,89.5 L147.7,89.6 L147.3,89.6 L146.9,89.6 L146.4,89.7 L146.0,89.7 L145.6,89.7 L145.1,89.8 L144.7,89.8 L144.3,89.9 L143.8,89.9 L143.4,90.0 L143.0,90.0 L142.5,90.0 L142.1,90.1 L141.7,90.1 L141.2,90.2 L140.8,90.2 L140.4,90.3 L139.9,90.3 L139.5,90.3 L139.1,90.4 L138.6,90.4 L138.2,90.5 L137.8,90.5 L137.4,90.6 L136.9,90.6 L136.5,90.7 L136.1,90.7 L135.6,90.8 L135.2,90.8 L134.8,90.9 L134.3,90.9 L133.9,91.0 L133.5,91.0 L133.0,91.1 L132.6,91.1 L132.2,91.2 L131.7,91.2 L131.3,91.3 L130.9,91.3 L130.4,91.4 L130.0,91.4 L129.6,91.5 L129.1,91.6 L128.7,91.6 L128.3,91.7 L127.8,91.7 L127.4,91.8 L127.0,91.8 L126.5,91.9 L126.1,92.0 L125.7,92.0 L125.2,92.1 L124.8,92.1 L124.4,92.2 L123.9,92.3 L123.5,92.3 L123.1,92.4 L122.6,92.5 L122.2,92.5 L121.8,92.6 L121.3,92.7 L120.9,92.7 L120.5,92.8 L120.0,92.9 L119.6,92.9 L119.2,93.0 L118.8,93.1 L118.3,93.1 L117.9,93.2 L117.5,93.3 L117.0,93.5 L116.6,93.7 L116.2,94.0 L115.7,94.2 L115.3,94.4 L114.9,94.6 L114.4,94.9 L114.0,95.1 L113.6,95.3 L113.1,95.5 L112.7,95.7 L112.3,95.8 L111.8,95.9 L111.4,96.0 L111.0,96.0 L110.5,95.9 L110.1,95.8 L109.7,95.7 L109.2,95.7 L108.8,95.6 L108.4,95.5 L107.9,95.4 L107.5,95.4 L107.1,95.3 L106.6,95.2 L106.2,95.1 L105.8,95.1 L105.3,95.0 L104.9,94.9 L104.5,94.8 L104.0,94.7 L103.6,94.6 L103.2,94.5 L102.7,94.4 L102.3,94.3 L101.9,94.2 L101.4,94.1 L101.0,94.0 L100.6,93.9 L100.1,93.8 L99.7,93.7 L99.3,93.6 L98.8,93.5 L98.4,93.4 L98.0,93.3 L97.6,93.3 L97.1,93.2 L96.7,93.1 L96.3,93.1 L95.8,93.0 L95.4,92.9 L95.0,92.8 L94.5,92.8 L94.1,92.7 L93.7,92.6 L93.2,92.6 L92.8,92.5 L92.4,92.4 L91.9,92.4 L91.5,92.3 L91.1,92.2 L90.6,92.2 L90.2,92.1 L89.8,92.0 L89.3,92.0 L88.9,91.9 L88.5,91.8 L88.0,91.7 L87.6,91.7 L87.2,91.6 L86.7,91.5 L86.3,91.5 L85.9,91.4 L85.4,91.3 L85.0,91.3 L84.6,91.2 L84.1,91.2 L83.7,91.1 L83.3,91.1 L82.8,91.0 L82.4,90.9 L82.0,90.9 L81.5,90.8 L81.1,90.8 L80.7,90.7 L80.2,90.7 L79.8,90.6 L79.4,90.6 L78.9,90.5 L78.5,90.5 L78.1,90.4 L77.7,90.4 L77.2,90.3 L76.8,90.3 L76.4,90.2 L75.9,90.2 L75.5,90.1 L75.1,90.0 L74.6,90.0 L74.2,89.9 L73.8,89.9 L73.3,89.8 L72.9,89.8 L72.5,89.7 L72.0,89.7 L71.6,89.6 L71.2,89.6 L70.7,89.5 L70.3,89.5 L69.9,89.4 L69.4,89.4 L69.0,89.3 L68.6,89.3 L68.1,89.2 L67.7,89.1 L67.3,89.1 L66.8,89.0 L66.4,89.0 L66.0,88.9 L65.5,88.9 L65.1,88.8 L64.7,88.8 L64.2,88.7 L63.8,88.7 L63.4,88.6 L62.9,88.6 L62.5,88.5 L62.1,88.5 L61.6,88.4 L61.2,88.4 L60.8,88.3 L60.3,88.2 L59.9,88.2 L59.5,88.1 L59.0,88.1Z" fill="#109fd7" fill-opacity="0.42" stroke="none"/>
<path d="M59.05,85.08 L59.10,84.58 L59.16,84.12 L59.21,83.70 L59.27,83.33 L59.32,83.00 L59.37,82.72 L59.43,82.49 L59.48,82.31 L59.54,82.21 L59.59,82.18 L59.64,82.24 L59.70,82.41 L59.75,82.69 L59.80,83.09 L59.86,83.59 L59.91,84.18 L59.97,84.83 L60.02,85.52 L60.07,86.20 L60.13,86.84 L60.18,87.41 L60.24,87.89 L60.29,88.25 L60.34,88.49 L60.40,88.61 L60.45,88.61 L60.51,88.51 L60.56,88.33 L60.61,88.08 L60.67,87.78 L60.72,87.43 L60.78,87.03 L60.83,86.60 L60.88,86.13 L60.94,85.62 L60.99,85.07 L61.04,84.50 L61.10,83.92 L61.15,83.34 L61.21,82.80 L61.26,82.33 L61.31,81.94 L61.37,81.68 L61.42,81.56 L61.48,81.59 L61.53,81.77 L61.58,82.10 L61.64,82.55 L61.69,83.10 L61.75,83.72 L61.80,84.36 L61.85,85.01 L61.91,85.64 L61.96,86.22 L62.02,86.75 L62.07,87.21 L62.12,87.62 L62.18,87.96 L62.23,88.25 L62.29,88.48 L62.34,88.64 L62.39,88.74 L62.45,88.74 L62.50,88.66 L62.55,88.46 L62.61,88.14 L62.66,87.71 L62.72,87.15 L62.77,86.50 L62.82,85.78 L62.88,85.02 L62.93,84.26 L62.99,83.53 L63.04,82.89 L63.09,82.34 L63.15,81.93 L63.20,81.66 L63.26,81.54 L63.31,81.54 L63.36,81.67 L63.42,81.90 L63.47,82.22 L63.53,82.59 L63.58,83.01 L63.63,83.48 L63.69,83.98 L63.74,84.51 L63.79,85.07 L63.85,85.66 L63.90,86.28 L63.96,86.90 L64.01,87.52 L64.06,88.10 L64.12,88.61 L64.17,89.02 L64.23,89.31 L64.28,89.45 L64.33,89.42 L64.39,89.22 L64.44,88.85 L64.50,88.35 L64.55,87.73 L64.60,87.03 L64.66,86.29 L64.71,85.54 L64.77,84.83 L64.82,84.16 L64.87,83.57 L64.93,83.05 L64.98,82.61 L65.03,82.25 L65.09,81.96 L65.14,81.74 L65.20,81.60 L65.25,81.53 L65.30,81.55 L65.36,81.67 L65.41,81.90 L65.47,82.25 L65.52,82.73 L65.57,83.32 L65.63,84.03 L65.68,84.82 L65.74,85.65 L65.79,86.49 L65.84,87.29 L65.90,88.02 L65.95,88.62 L66.01,89.09 L66.06,89.39 L66.11,89.53 L66.17,89.51 L66.22,89.35 L66.28,89.06 L66.33,88.69 L66.38,88.24 L66.44,87.74 L66.49,87.20 L66.54,86.63 L66.60,86.03 L66.65,85.41 L66.71,84.77 L66.76,84.12 L66.81,83.46 L66.87,82.81 L66.92,82.20 L66.98,81.66 L67.03,81.22 L67.08,80.91 L67.14,80.76 L67.19,80.79 L67.25,81.01 L67.30,81.40 L67.35,81.96 L67.41,82.65 L67.46,83.43 L67.52,84.27 L67.57,85.11 L67.62,85.92 L67.68,86.67 L67.73,87.34 L67.78,87.91 L67.84,88.38 L67.89,88.76 L67.95,89.05 L68.00,89.25 L68.05,89.37 L68.11,89.40 L68.16,89.35 L68.22,89.19 L68.27,88.93 L68.32,88.53 L68.38,88.02 L68.43,87.37 L68.49,86.61 L68.54,85.77 L68.59,84.87 L68.65,83.95 L68.70,83.08 L68.76,82.28 L68.81,81.61 L68.86,81.09 L68.92,80.75 L68.97,80.60 L69.02,80.63 L69.08,80.83 L69.13,81.16 L69.19,81.61 L69.24,82.14 L69.29,82.72 L69.35,83.35 L69.40,84.00 L69.46,84.66 L69.51,85.34 L69.56,86.02 L69.62,86.72 L69.67,87.41 L69.73,88.08 L69.78,88.71 L69.83,89.28 L69.89,89.74 L69.94,90.06 L70.00,90.22 L70.05,90.19 L70.10,89.95 L70.16,89.53 L70.21,88.92 L70.27,88.17 L70.32,87.30 L70.37,86.38 L70.43,85.44 L70.48,84.53 L70.53,83.69 L70.59,82.94 L70.64,82.31 L70.70,81.80 L70.75,81.41 L70.80,81.13 L70.86,80.95 L70.91,80.86 L70.97,80.86 L71.02,80.96 L71.07,81.16 L71.13,81.48 L71.18,81.91 L71.24,82.47 L71.29,83.16 L71.34,83.97 L71.40,84.87 L71.45,85.83 L71.51,86.81 L71.56,87.76 L71.61,88.62 L71.67,89.36 L71.72,89.93 L71.77,90.30 L71.83,90.47 L71.88,90.43 L71.94,90.21 L71.99,89.82 L72.04,89.30 L72.10,88.69 L72.15,88.01 L72.21,87.29 L72.26,86.56 L72.31,85.82 L72.37,85.08 L72.42,84.35 L72.48,83.62 L72.53,82.90 L72.58,82.21 L72.64,81.56 L72.69,80.99 L72.75,80.52 L72.80,80.19 L72.85,80.02 L72.91,80.06 L72.96,80.30 L73.01,80.76 L73.07,81.41 L73.12,82.23 L73.18,83.17 L73.23,84.19 L73.28,85.22 L73.34,86.23 L73.39,87.16 L73.45,87.99 L73.50,88.68 L73.55,89.23 L73.61,89.64 L73.66,89.92 L73.72,90.08 L73.77,90.12 L73.82,90.07 L73.88,89.92 L73.93,89.66 L73.99,89.30 L74.04,88.82 L74.09,88.21 L74.15,87.47 L74.20,86.62 L74.25,85.67 L74.31,84.66 L74.36,83.62 L74.42,82.61 L74.47,81.68 L74.52,80.88 L74.58,80.26 L74.63,79.85 L74.69,79.66 L74.74,79.70 L74.79,79.96 L74.85,80.40 L74.90,80.99 L74.96,81.69 L75.01,82.46 L75.06,83.27 L75.12,84.10 L75.17,84.92 L75.23,85.72 L75.28,86.51 L75.33,87.27 L75.39,88.01 L75.44,88.72 L75.50,89.37 L75.55,89.95 L75.60,90.42 L75.66,90.76 L75.71,90.92 L75.76,90.88 L75.82,90.62 L75.87,90.13 L75.93,89.44 L75.98,88.57 L76.03,87.55 L76.09,86.45 L76.14,85.31 L76.20,84.21 L76.25,83.18 L76.30,82.27 L76.36,81.52 L76.41,80.92 L76.47,80.49 L76.52,80.22 L76.57,80.09 L76.63,80.08 L76.68,80.19 L76.74,80.41 L76.79,80.72 L76.84,81.15 L76.90,81.69 L76.95,82.34 L77.00,83.12 L77.06,84.02 L77.11,85.01 L77.17,86.07 L77.22,87.16 L77.27,88.23 L77.33,89.22 L77.38,90.07 L77.44,90.74 L77.49,91.19 L77.54,91.40 L77.60,91.36 L77.65,91.08 L77.71,90.59 L77.76,89.92 L77.81,89.14 L77.87,88.26 L77.92,87.35 L77.98,86.43 L78.03,85.52 L78.08,84.65 L78.14,83.80 L78.19,83.00 L78.24,82.24 L78.30,81.53 L78.35,80.88 L78.41,80.30 L78.46,79.84 L78.51,79.51 L78.57,79.36 L78.62,79.41 L78.68,79.69 L78.73,80.20 L78.78,80.93 L78.84,81.86 L78.89,82.94 L78.95,84.13 L79.00,85.35 L79.05,86.56 L79.11,87.68 L79.16,88.67 L79.22,89.50 L79.27,90.14 L79.32,90.59 L79.38,90.86 L79.43,90.97 L79.49,90.92 L79.54,90.75 L79.59,90.47 L79.65,90.08 L79.70,89.59 L79.75,88.99 L79.81,88.27 L79.86,87.45 L79.92,86.51 L79.97,85.48 L80.02,84.37 L80.08,83.24 L80.13,82.12 L80.19,81.08 L80.24,80.18 L80.29,79.46 L80.35,78.97 L80.40,78.75 L80.46,78.79 L80.51,79.09 L80.56,79.63 L80.62,80.36 L80.67,81.24 L80.73,82.21 L80.78,83.23 L80.83,84.26 L80.89,85.26 L80.94,86.21 L80.99,87.11 L81.05,87.95 L81.10,88.73 L81.16,89.45 L81.21,90.09 L81.26,90.65 L81.32,91.10 L81.37,91.41 L81.43,91.54 L81.48,91.48 L81.53,91.18 L81.59,90.65 L81.64,89.88 L81.70,88.90 L81.75,87.75 L81.80,86.49 L81.86,85.18 L81.91,83.88 L81.97,82.66 L82.02,81.58 L82.07,80.68 L82.13,79.99 L82.18,79.51 L82.23,79.24 L82.29,79.16 L82.34,79.26 L82.40,79.50 L82.45,79.86 L82.50,80.33 L82.56,80.90 L82.61,81.57 L82.67,82.34 L82.72,83.21 L82.77,84.19 L82.83,85.26 L82.88,86.40 L82.94,87.57 L82.99,88.73 L83.04,89.81 L83.10,90.76 L83.15,91.52 L83.21,92.04 L83.26,92.29 L83.31,92.25 L83.37,91.93 L83.42,91.35 L83.47,90.55 L83.53,89.59 L83.58,88.51 L83.64,87.39 L83.69,86.25 L83.74,85.15 L83.80,84.11 L83.85,83.15 L83.91,82.27 L83.96,81.47 L84.01,80.75 L84.07,80.12 L84.12,79.58 L84.18,79.16 L84.23,78.88 L84.28,78.77 L84.34,78.86 L84.39,79.18 L84.45,79.74 L84.50,80.54 L84.55,81.56 L84.61,82.77 L84.66,84.10 L84.72,85.50 L84.77,86.89 L84.82,88.20 L84.88,89.37 L84.93,90.34 L84.98,91.09 L85.04,91.60 L85.09,91.87 L85.15,91.92 L85.20,91.78 L85.25,91.47 L85.31,91.03 L85.36,90.47 L85.42,89.82 L85.47,89.07 L85.52,88.23 L85.58,87.30 L85.63,86.27 L85.69,85.16 L85.74,83.99 L85.79,82.78 L85.85,81.59 L85.90,80.46 L85.96,79.47 L86.01,78.67 L86.06,78.11 L86.12,77.84 L86.17,77.87 L86.22,78.20 L86.28,78.83 L86.33,79.69 L86.39,80.75 L86.44,81.93 L86.49,83.18 L86.55,84.44 L86.60,85.65 L86.66,86.79 L86.71,87.84 L86.76,88.77 L86.82,89.61 L86.87,90.33 L86.93,90.95 L86.98,91.47 L87.03,91.86 L87.09,92.11 L87.14,92.19 L87.20,92.06 L87.25,91.71 L87.30,91.12 L87.36,90.28 L87.41,89.20 L87.46,87.93 L87.52,86.51 L87.57,85.02 L87.63,83.52 L87.68,82.10 L87.73,80.82 L87.79,79.75 L87.84,78.93 L87.90,78.38 L87.95,78.09 L88.00,78.07 L88.06,78.26 L88.11,78.65 L88.17,79.19 L88.22,79.85 L88.27,80.61 L88.33,81.46 L88.38,82.39 L88.44,83.40 L88.49,84.49 L88.54,85.66 L88.60,86.88 L88.65,88.12 L88.71,89.36 L88.76,90.52 L88.81,91.56 L88.87,92.40 L88.92,93.00 L88.97,93.30 L89.03,93.27 L89.08,92.92 L89.14,92.25 L89.19,91.31 L89.24,90.15 L89.30,88.85 L89.35,87.47 L89.41,86.07 L89.46,84.73 L89.51,83.47 L89.57,82.33 L89.62,81.33 L89.68,80.46 L89.73,79.72 L89.78,79.11 L89.84,78.63 L89.89,78.28 L89.95,78.07 L90.00,78.04 L90.05,78.21 L90.11,78.60 L90.16,79.24 L90.21,80.13 L90.27,81.26 L90.32,82.60 L90.38,84.09 L90.43,85.68 L90.48,87.28 L90.54,88.81 L90.59,90.19 L90.65,91.36 L90.70,92.25 L90.75,92.85 L90.81,93.15 L90.86,93.16 L90.92,92.91 L90.97,92.44 L91.02,91.80 L91.08,91.03 L91.13,90.15 L91.19,89.18 L91.24,88.15 L91.29,87.06 L91.35,85.90 L91.40,84.68 L91.45,83.42 L91.51,82.14 L91.56,80.88 L91.62,79.68 L91.67,78.61 L91.72,77.73 L91.78,77.11 L91.83,76.79 L91.89,76.81 L91.94,77.18 L91.99,77.89 L92.05,78.90 L92.10,80.15 L92.16,81.57 L92.21,83.09 L92.26,84.62 L92.32,86.10 L92.37,87.48 L92.43,88.72 L92.48,89.79 L92.53,90.70 L92.59,91.45 L92.64,92.05 L92.70,92.49 L92.75,92.79 L92.80,92.94 L92.86,92.91 L92.91,92.69 L92.96,92.25 L93.02,91.56 L93.07,90.63 L93.13,89.45 L93.18,88.05 L93.23,86.48 L93.29,84.81 L93.34,83.11 L93.40,81.48 L93.45,79.99 L93.50,78.74 L93.56,77.77 L93.61,77.12 L93.67,76.80 L93.72,76.81 L93.77,77.11 L93.83,77.65 L93.88,78.40 L93.94,79.30 L93.99,80.31 L94.04,81.39 L94.10,82.53 L94.15,83.72 L94.20,84.95 L94.26,86.22 L94.31,87.52 L94.37,88.82 L94.42,90.11 L94.47,91.33 L94.53,92.42 L94.58,93.31 L94.64,93.96 L94.69,94.29 L94.74,94.27 L94.80,93.89 L94.85,93.15 L94.91,92.08 L94.96,90.74 L95.01,89.20 L95.07,87.55 L95.12,85.88 L95.18,84.26 L95.23,82.75 L95.28,81.41 L95.34,80.26 L95.39,79.30 L95.44,78.54 L95.50,77.97 L95.55,77.56 L95.61,77.32 L95.66,77.24 L95.71,77.34 L95.77,77.63 L95.82,78.13 L95.88,78.87 L95.93,79.86 L95.98,81.09 L96.04,82.54 L96.09,84.18 L96.15,85.92 L96.20,87.71 L96.25,89.43 L96.31,91.01 L96.36,92.36 L96.42,93.41 L96.47,94.11 L96.52,94.45 L96.58,94.43 L96.63,94.09 L96.68,93.46 L96.74,92.60 L96.79,91.58 L96.85,90.44 L96.90,89.22 L96.95,87.96 L97.01,86.67 L97.06,85.36 L97.12,84.03 L97.17,82.70 L97.22,81.37 L97.28,80.08 L97.33,78.85 L97.39,77.76 L97.44,76.85 L97.49,76.19 L97.55,75.85 L97.60,75.87 L97.66,76.26 L97.71,77.04 L97.76,78.17 L97.82,79.59 L97.87,81.23 L97.93,83.01 L97.98,84.82 L98.03,86.58 L98.09,88.22 L98.14,89.68 L98.19,90.92 L98.25,91.93 L98.30,92.71 L98.36,93.27 L98.41,93.64 L98.46,93.81 L98.52,93.82 L98.57,93.64 L98.63,93.27 L98.68,92.69 L98.73,91.89 L98.79,90.85 L98.84,89.56 L98.90,88.04 L98.95,86.34 L99.00,84.52 L99.06,82.64 L99.11,80.81 L99.17,79.13 L99.22,77.68 L99.27,76.54 L99.33,75.77 L99.38,75.39 L99.43,75.41 L99.49,75.80 L99.54,76.51 L99.60,77.48 L99.65,78.65 L99.70,79.95 L99.76,81.32 L99.81,82.73 L99.87,84.15 L99.92,85.57 L99.97,86.98 L100.03,88.38 L100.08,89.75 L100.14,91.07 L100.19,92.32 L100.24,93.43 L100.30,94.36 L100.35,95.03 L100.41,95.38 L100.46,95.37 L100.51,94.95 L100.57,94.13 L100.62,92.93 L100.67,91.41 L100.73,89.62 L100.78,87.69 L100.84,85.69 L100.89,83.74 L100.94,81.92 L101.00,80.31 L101.05,78.94 L101.11,77.85 L101.16,77.03 L101.21,76.47 L101.27,76.15 L101.32,76.04 L101.38,76.14 L101.43,76.42 L101.48,76.89 L101.54,77.57 L101.59,78.46 L101.65,79.60 L101.70,80.97 L101.75,82.57 L101.81,84.36 L101.86,86.29 L101.92,88.27 L101.97,90.22 L102.02,92.02 L102.08,93.59 L102.13,94.83 L102.18,95.68 L102.24,96.10 L102.29,96.08 L102.35,95.64 L102.40,94.83 L102.45,93.73 L102.51,92.40 L102.56,90.92 L102.62,89.36 L102.67,87.77 L102.72,86.19 L102.78,84.64 L102.83,83.13 L102.89,81.66 L102.94,80.25 L102.99,78.90 L103.05,77.64 L103.10,76.52 L103.16,75.59 L103.21,74.92 L103.26,74.57 L103.32,74.60 L103.37,75.04 L103.42,75.91 L103.48,77.18 L103.53,78.81 L103.59,80.73 L103.64,82.83 L103.69,85.00 L103.75,87.14 L103.80,89.14 L103.86,90.92 L103.91,92.41 L103.96,93.60 L104.02,94.46 L104.07,95.02 L104.13,95.29 L104.18,95.32 L104.23,95.12 L104.29,94.73 L104.34,94.13 L104.40,93.34 L104.45,92.33 L104.50,91.10 L104.56,89.64 L104.61,87.96 L104.66,86.09 L104.72,84.07 L104.77,82.00 L104.83,79.95 L104.88,78.04 L104.93,76.37 L104.99,75.04 L105.04,74.12 L105.10,73.67 L105.15,73.69 L105.20,74.17 L105.26,75.06 L105.31,76.30 L105.37,77.79 L105.42,79.44 L105.47,81.19 L105.53,82.96 L105.58,84.70 L105.64,86.38 L105.69,87.99 L105.74,89.52 L105.80,90.97 L105.85,92.32 L105.91,93.57 L105.96,94.66 L106.01,95.56 L106.07,96.20 L106.12,96.53 L106.17,96.48 L106.23,96.01 L106.28,95.10 L106.34,93.77 L106.39,92.06 L106.44,90.04 L106.50,87.81 L106.55,85.49 L106.61,83.20 L106.66,81.04 L106.71,79.13 L106.77,77.51 L106.82,76.25 L106.88,75.35 L106.93,74.81 L106.98,74.59 L107.04,74.65 L107.09,74.96 L107.15,75.49 L107.20,76.21 L107.25,77.13 L107.31,78.24 L107.36,79.56 L107.41,81.08 L107.47,82.82 L107.52,84.73 L107.58,86.79 L107.63,88.91 L107.68,91.01 L107.74,92.98 L107.79,94.72 L107.85,96.11 L107.90,97.09 L107.95,97.58 L108.01,97.57 L108.06,97.06 L108.12,96.10 L108.17,94.76 L108.22,93.14 L108.28,91.32 L108.33,89.41 L108.39,87.47 L108.44,85.58 L108.49,83.77 L108.55,82.08 L108.60,80.49 L108.65,79.03 L108.71,77.68 L108.76,76.47 L108.82,75.42 L108.87,74.57 L108.92,73.97 L108.98,73.68 L109.03,73.76 L109.09,74.26 L109.14,75.20 L109.19,76.57 L109.25,78.34 L109.30,80.44 L109.36,82.77 L109.41,85.22 L109.46,87.65 L109.52,89.95 L109.57,92.00 L109.63,93.73 L109.68,95.07 L109.73,96.01 L109.79,96.55 L109.84,96.73 L109.89,96.58 L109.95,96.16 L110.00,95.50 L110.06,94.63 L110.11,93.58 L110.16,92.35 L110.22,90.94 L110.27,89.34 L110.33,87.55 L110.38,85.60 L110.43,83.51 L110.49,81.35 L110.54,79.22 L110.60,77.20 L110.65,75.41 L110.70,73.95 L110.76,72.93 L110.81,72.40 L110.87,72.40 L110.92,72.93 L110.97,73.94 L111.03,75.38 L111.08,77.13 L111.14,79.11 L111.19,81.20 L111.24,83.30 L111.30,85.36 L111.35,87.29 L111.40,89.09 L111.46,90.73 L111.51,92.20 L111.57,93.51 L111.62,94.66 L111.67,95.63 L111.73,96.38 L111.78,96.89 L111.84,97.10 L111.89,96.95 L111.94,96.40 L112.00,95.43 L112.05,94.03 L112.11,92.23 L112.16,90.11 L112.21,87.75 L112.27,85.26 L112.32,82.79 L112.38,80.45 L112.43,78.35 L112.48,76.60 L112.54,75.25 L112.59,74.32 L112.64,73.82 L112.70,73.72 L112.75,73.97 L112.81,74.53 L112.86,75.32 L112.91,76.30 L112.97,77.45 L113.02,78.75 L113.08,80.19 L113.13,81.77 L113.18,83.48 L113.24,85.33 L113.29,87.26 L113.35,89.24 L113.40,91.20 L113.45,93.04 L113.51,94.66 L113.56,95.98 L113.62,96.90 L113.67,97.36 L113.72,97.33 L113.78,96.80 L113.83,95.82 L113.88,94.44 L113.94,92.75 L113.99,90.86 L114.05,88.87 L114.10,86.88 L114.15,84.96 L114.21,83.16 L114.26,81.53 L114.32,80.08 L114.37,78.81 L114.42,77.72 L114.48,76.79 L114.53,76.04 L114.59,75.48 L114.64,75.13 L114.69,75.03 L114.75,75.22 L114.80,75.74 L114.86,76.61 L114.91,77.83 L114.96,79.39 L115.02,81.23 L115.07,83.28 L115.13,85.43 L115.18,87.59 L115.23,89.64 L115.29,91.48 L115.34,93.01 L115.39,94.19 L115.45,94.98 L115.50,95.38 L115.56,95.42 L115.61,95.14 L115.66,94.58 L115.72,93.82 L115.77,92.88 L115.83,91.81 L115.88,90.63 L115.93,89.36 L115.99,87.99 L116.04,86.53 L116.10,84.99 L116.15,83.39 L116.20,81.77 L116.26,80.16 L116.31,78.65 L116.37,77.31 L116.42,76.21 L116.47,75.44 L116.53,75.05 L116.58,75.07 L116.63,75.51 L116.69,76.35 L116.74,77.54 L116.80,79.00 L116.85,80.65 L116.90,82.39 L116.96,84.14 L117.01,85.82 L117.07,87.39 L117.12,88.79 L117.17,90.02 L117.23,91.07 L117.28,91.94 L117.34,92.66 L117.39,93.21 L117.44,93.60 L117.50,93.82 L117.55,93.83 L117.61,93.64 L117.66,93.20 L117.71,92.47 L117.77,91.46 L117.82,90.17 L117.87,88.64 L117.93,86.92 L117.98,85.09 L118.04,83.25 L118.09,81.47 L118.14,79.87 L118.20,78.51 L118.25,77.46 L118.31,76.75 L118.36,76.39 L118.41,76.36 L118.47,76.63 L118.52,77.15 L118.58,77.88 L118.63,78.76 L118.68,79.76 L118.74,80.85 L118.79,82.00 L118.85,83.22 L118.90,84.50 L118.95,85.84 L119.01,87.22 L119.06,88.61 L119.11,89.99 L119.17,91.30 L119.22,92.47 L119.28,93.44 L119.33,94.14 L119.38,94.51 L119.44,94.52 L119.49,94.15 L119.55,93.41 L119.60,92.35 L119.65,91.02 L119.71,89.49 L119.76,87.87 L119.82,86.22 L119.87,84.62 L119.92,83.14 L119.98,81.81 L120.03,80.65 L120.09,79.68 L120.14,78.89 L120.19,78.27 L120.25,77.81 L120.30,77.50 L120.36,77.36 L120.41,77.39 L120.46,77.61 L120.52,78.06 L120.57,78.75 L120.62,79.70 L120.68,80.89 L120.73,82.30 L120.79,83.89 L120.84,85.59 L120.89,87.31 L120.95,88.98 L121.00,90.50 L121.06,91.79 L121.11,92.80 L121.16,93.49 L121.22,93.83 L121.27,93.85 L121.33,93.56 L121.38,93.02 L121.43,92.27 L121.49,91.37 L121.54,90.36 L121.60,89.28 L121.65,88.15 L121.70,86.97 L121.76,85.77 L121.81,84.53 L121.86,83.27 L121.92,82.01 L121.97,80.77 L122.03,79.59 L122.08,78.54 L122.13,77.66 L122.19,77.03 L122.24,76.69 L122.30,76.67 L122.35,77.01 L122.40,77.70 L122.46,78.69 L122.51,79.95 L122.57,81.40 L122.62,82.97 L122.67,84.56 L122.73,86.11 L122.78,87.54 L122.84,88.82 L122.89,89.92 L122.94,90.83 L123.00,91.54 L123.05,92.08 L123.10,92.45 L123.16,92.67 L123.21,92.74 L123.27,92.64 L123.32,92.38 L123.37,91.92 L123.43,91.26 L123.48,90.37 L123.54,89.27 L123.59,87.97 L123.64,86.51 L123.70,84.94 L123.75,83.33 L123.81,81.77 L123.86,80.33 L123.91,79.10 L123.97,78.14 L124.02,77.48 L124.08,77.15 L124.13,77.14 L124.18,77.44 L124.24,77.98 L124.29,78.74 L124.35,79.65 L124.40,80.66 L124.45,81.74 L124.51,82.86 L124.56,83.99 L124.61,85.13 L124.67,86.28 L124.72,87.43 L124.78,88.58 L124.83,89.69 L124.88,90.73 L124.94,91.67 L124.99,92.46 L125.05,93.03 L125.10,93.34 L125.15,93.35 L125.21,93.04 L125.26,92.41 L125.32,91.48 L125.37,90.29 L125.42,88.92 L125.48,87.42 L125.53,85.89 L125.59,84.40 L125.64,83.01 L125.69,81.77 L125.75,80.72 L125.80,79.87 L125.85,79.22 L125.91,78.75 L125.96,78.46 L126.02,78.32 L126.07,78.33 L126.12,78.48 L126.18,78.78 L126.23,79.25 L126.29,79.90 L126.34,80.73 L126.39,81.75 L126.45,82.95 L126.50,84.29 L126.56,85.74 L126.61,87.23 L126.66,88.68 L126.72,90.03 L126.77,91.19 L126.83,92.11 L126.88,92.75 L126.93,93.06 L126.99,93.07 L127.04,92.78 L127.09,92.23 L127.15,91.48 L127.20,90.57 L127.26,89.56 L127.31,88.49 L127.36,87.39 L127.42,86.29 L127.47,85.20 L127.53,84.12 L127.58,83.07 L127.63,82.04 L127.69,81.04 L127.74,80.12 L127.80,79.28 L127.85,78.59 L127.90,78.08 L127.96,77.80 L128.01,77.80 L128.07,78.08 L128.12,78.67 L128.17,79.53 L128.23,80.64 L128.28,81.95 L128.34,83.37 L128.39,84.83 L128.44,86.27 L128.50,87.61 L128.55,88.80 L128.60,89.81 L128.66,90.61 L128.71,91.22 L128.77,91.62 L128.82,91.85 L128.87,91.92 L128.93,91.85 L128.98,91.64 L129.04,91.30 L129.09,90.82 L129.14,90.19 L129.20,89.40 L129.25,88.45 L129.31,87.35 L129.36,86.11 L129.41,84.78 L129.47,83.41 L129.52,82.06 L129.58,80.80 L129.63,79.71 L129.68,78.83 L129.74,78.23 L129.79,77.92 L129.84,77.91 L129.90,78.19 L129.95,78.73 L130.01,79.47 L130.06,80.38 L130.11,81.38 L130.17,82.44 L130.22,83.52 L130.28,84.59 L130.33,85.64 L130.38,86.65 L130.44,87.62 L130.49,88.55 L130.55,89.44 L130.60,90.26 L130.65,90.99 L130.71,91.59 L130.76,92.04 L130.82,92.28 L130.87,92.27 L130.92,92.01 L130.98,91.47 L131.03,90.66 L131.08,89.63 L131.14,88.41 L131.19,87.06 L131.25,85.67 L131.30,84.29 L131.35,83.00 L131.41,81.85 L131.46,80.88 L131.52,80.11 L131.57,79.56 L131.62,79.20 L131.68,79.02 L131.73,79.01 L131.79,79.14 L131.84,79.39 L131.89,79.77 L131.95,80.27 L132.00,80.89 L132.06,81.64 L132.11,82.53 L132.16,83.55 L132.22,84.68 L132.27,85.90 L132.32,87.16 L132.38,88.40 L132.43,89.57 L132.49,90.60 L132.54,91.42 L132.59,92.00 L132.65,92.30 L132.70,92.31 L132.76,92.04 L132.81,91.52 L132.86,90.79 L132.92,89.91 L132.97,88.91 L133.03,87.87 L133.08,86.81 L133.13,85.76 L133.19,84.76 L133.24,83.81 L133.30,82.91 L133.35,82.06 L133.40,81.27 L133.46,80.55 L133.51,79.91 L133.57,79.39 L133.62,79.01 L133.67,78.82 L133.73,78.83 L133.78,79.08 L133.83,79.58 L133.89,80.33 L133.94,81.29 L134.00,82.43 L134.05,83.70 L134.10,85.02 L134.16,86.34 L134.21,87.57 L134.27,88.68 L134.32,89.61 L134.37,90.34 L134.43,90.87 L134.48,91.19 L134.54,91.32 L134.59,91.28 L134.64,91.11 L134.70,90.81 L134.75,90.40 L134.81,89.89 L134.86,89.27 L134.91,88.55 L134.97,87.72 L135.02,86.77 L135.07,85.73 L135.13,84.62 L135.18,83.47 L135.24,82.33 L135.29,81.25 L135.34,80.29 L135.40,79.52 L135.45,78.97 L135.51,78.68 L135.56,78.66 L135.61,78.91 L135.67,79.41 L135.72,80.12 L135.78,80.99 L135.83,81.96 L135.88,82.99 L135.94,84.03 L135.99,85.04 L136.05,86.01 L136.10,86.92 L136.15,87.76 L136.21,88.53 L136.26,89.23 L136.31,89.86 L136.37,90.41 L136.42,90.85 L136.48,91.16 L136.53,91.32 L136.58,91.29 L136.64,91.05 L136.69,90.58 L136.75,89.90 L136.80,89.00 L136.85,87.94 L136.91,86.75 L136.96,85.50 L137.02,84.25 L137.07,83.07 L137.12,82.01 L137.18,81.11 L137.23,80.41 L137.29,79.92 L137.34,79.63 L137.39,79.53 L137.45,79.60 L137.50,79.82 L137.56,80.15 L137.61,80.59 L137.66,81.11 L137.72,81.73 L137.77,82.43 L137.82,83.21 L137.88,84.09 L137.93,85.04 L137.99,86.06 L138.04,87.11 L138.09,88.16 L138.15,89.15 L138.20,90.03 L138.26,90.75 L138.31,91.27 L138.36,91.55 L138.42,91.57 L138.47,91.34 L138.53,90.86 L138.58,90.18 L138.63,89.34 L138.69,88.40 L138.74,87.39 L138.80,86.37 L138.85,85.38 L138.90,84.44 L138.96,83.58 L139.01,82.79 L139.06,82.09 L139.12,81.46 L139.17,80.91 L139.23,80.45 L139.28,80.08 L139.33,79.83 L139.39,79.71 L139.44,79.76 L139.50,80.00 L139.55,80.43 L139.60,81.07 L139.66,81.89 L139.71,82.88 L139.77,83.99 L139.82,85.17 L139.87,86.35 L139.93,87.47 L139.98,88.49 L140.04,89.35 L140.09,90.02 L140.14,90.49 L140.20,90.76 L140.25,90.83 L140.30,90.73 L140.36,90.48 L140.41,90.12 L140.47,89.66 L140.52,89.12 L140.57,88.51 L140.63,87.83 L140.68,87.08 L140.74,86.26 L140.79,85.39 L140.84,84.46 L140.90,83.50 L140.95,82.55 L141.01,81.65 L141.06,80.84 L141.11,80.17 L141.17,79.68 L141.22,79.42 L141.28,79.39 L141.33,79.61 L141.38,80.05 L141.44,80.70 L141.49,81.51 L141.54,82.43 L141.60,83.41 L141.65,84.40 L141.71,85.37 L141.76,86.27 L141.81,87.10 L141.87,87.84 L141.92,88.49 L141.98,89.05 L142.03,89.53 L142.08,89.92 L142.14,90.22 L142.19,90.41 L142.25,90.48 L142.30,90.41 L142.35,90.18 L142.41,89.77 L142.46,89.18 L142.52,88.42 L142.57,87.50 L142.62,86.47 L142.68,85.37 L142.73,84.26 L142.79,83.19 L142.84,82.22 L142.89,81.40 L142.95,80.75 L143.00,80.30 L143.05,80.06 L143.11,80.00 L143.16,80.13 L143.22,80.39 L143.27,80.78 L143.32,81.26 L143.38,81.81 L143.43,82.42 L143.49,83.09 L143.54,83.80 L143.59,84.56 L143.65,85.37 L143.70,86.22 L143.76,87.09 L143.81,87.95 L143.86,88.77 L143.92,89.51 L143.97,90.12 L144.03,90.57 L144.08,90.82 L144.13,90.86 L144.19,90.66 L144.24,90.24 L144.29,89.63 L144.35,88.86 L144.40,87.97 L144.46,87.02 L144.51,86.05 L144.56,85.11 L144.62,84.24 L144.67,83.44 L144.73,82.74 L144.78,82.14 L144.83,81.63 L144.89,81.22 L144.94,80.90 L145.00,80.66 L145.05,80.52 L145.10,80.49 L145.16,80.58 L145.21,80.82 L145.27,81.21 L145.32,81.75 L145.37,82.46 L145.43,83.31 L145.48,84.26 L145.53,85.28 L145.59,86.33 L145.64,87.34 L145.70,88.26 L145.75,89.05 L145.80,89.67 L145.86,90.10 L145.91,90.33 L145.97,90.37 L146.02,90.23 L146.07,89.95 L146.13,89.55 L146.18,89.05 L146.24,88.49 L146.29,87.88 L146.34,87.23 L146.40,86.54 L146.45,85.82 L146.51,85.08 L146.56,84.30 L146.61,83.52 L146.67,82.74 L146.72,82.00 L146.78,81.33 L146.83,80.77 L146.88,80.36 L146.94,80.12 L146.99,80.09 L147.04,80.27 L147.10,80.66 L147.15,81.24 L147.21,81.97 L147.26,82.82 L147.31,83.73 L147.37,84.67 L147.42,85.58 L147.48,86.43 L147.53,87.20 L147.58,87.86 L147.64,88.42 L147.69,88.88 L147.75,89.24 L147.80,89.51 L147.85,89.69 L147.91,89.77 L147.96,89.77 L148.02,89.65 L148.07,89.41 L148.12,89.04 L148.18,88.52 L148.23,87.87 L148.28,87.09 L148.34,86.21 L148.39,85.26 L148.45,84.29 L148.50,83.34 L148.55,82.47 L148.61,81.72 L148.66,81.12 L148.72,80.71 L148.77,80.49 L148.82,80.46 L148.88,80.60 L148.93,80.89 L148.99,81.30 L149.04,81.81 L149.09,82.37 L149.15,82.99 L149.20,83.63 L149.26,84.29 L149.31,84.97 L149.36,85.66 L149.42,86.37 L149.47,87.08 L149.52,87.78 L149.58,88.44 L149.63,89.04 L149.69,89.55 L149.74,89.93 L149.79,90.14 L149.85,90.17 L149.90,90.01 L149.96,89.65 L150.01,89.11 L150.06,88.42 L150.12,87.61 L150.17,86.73 L150.23,85.83 L150.28,84.95 L150.33,84.12 L150.39,83.38 L150.44,82.75 L150.50,82.22 L150.55,81.81 L150.60,81.49 L150.66,81.28 L150.71,81.15 L150.77,81.10 L150.82,81.15 L150.87,81.29 L150.93,81.54 L150.98,81.90 L151.03,82.38 L151.09,82.98 L151.14,83.70 L151.20,84.52 L151.25,85.39 L151.30,86.30 L151.36,87.18 L151.41,88.01 L151.47,88.72 L151.52,89.29 L151.57,89.68 L151.63,89.89 L151.68,89.92 L151.74,89.78 L151.79,89.48 L151.84,89.07 L151.90,88.56 L151.95,87.99 L152.01,87.38 L152.06,86.75 L152.11,86.10 L152.17,85.46 L152.22,84.81 L152.27,84.16 L152.33,83.52 L152.38,82.90 L152.44,82.30 L152.49,81.77 L152.54,81.31 L152.60,80.98 L152.65,80.78 L152.71,80.75 L152.76,80.90 L152.81,81.23 L152.87,81.74 L152.92,82.39 L152.98,83.15 L153.03,83.99 L153.08,84.86 L153.14,85.71 L153.19,86.51 L153.25,87.22 L153.30,87.83 L153.35,88.32 L153.41,88.71 L153.46,88.98 L153.51,89.15 L153.57,89.24 L153.62,89.24 L153.68,89.16 L153.73,88.99 L153.78,88.74 L153.84,88.39 L153.89,87.93 L153.95,87.37 L154.00,86.71 L154.05,85.96 L154.11,85.15 L154.16,84.32 L154.22,83.49 L154.27,82.72 L154.32,82.05 L154.38,81.51 L154.43,81.13 L154.49,80.92 L154.54,80.90 L154.59,81.04 L154.65,81.33 L154.70,81.75 L154.75,82.26 L154.81,82.83 L154.86,83.43 L154.92,84.05 L154.97,84.68 L155.02,85.30 L155.08,85.90 L155.13,86.50 L155.19,87.08 L155.24,87.64 L155.29,88.17 L155.35,88.64 L155.40,89.04 L155.46,89.34 L155.51,89.51 L155.56,89.54 L155.62,89.40 L155.67,89.09 L155.73,88.62 L155.78,88.01 L155.83,87.29 L155.89,86.50 L155.94,85.67 L156.00,84.85 L156.05,84.08 L156.10,83.39 L156.16,82.81 L156.21,82.34 L156.26,81.98 L156.32,81.74 L156.37,81.60 L156.43,81.56 L156.48,81.59 L156.53,81.71 L156.59,81.89 L156.64,82.16 L156.70,82.50 L156.75,82.94 L156.80,83.46 L156.86,84.07 L156.91,84.76 L156.97,85.50 L157.02,86.27 L157.07,87.03 L157.13,87.75 L157.18,88.38 L157.24,88.90 L157.29,89.26 L157.34,89.46 L157.40,89.48 L157.45,89.35 L157.50,89.06 L157.56,88.65 L157.61,88.15 L157.67,87.58 L157.72,86.98 L157.77,86.37 L157.83,85.76 L157.88,85.17 L157.94,84.60 L157.99,84.05 L158.04,83.52 L158.10,83.02 L158.15,82.55 L158.21,82.14 L158.26,81.79 L158.31,81.53 L158.37,81.38 L158.42,81.36 L158.48,81.49 L158.53,81.78 L158.58,82.21 L158.64,82.78 L158.69,83.45 L158.74,84.21 L158.80,84.99 L158.85,85.78 L158.91,86.52 L158.96,87.18 L159.01,87.74 L159.07,88.19 L159.12,88.52 L159.18,88.74 L159.23,88.84 L159.28,88.86 L159.34,88.79 L159.39,88.65 L159.45,88.44 L159.50,88.17 L159.55,87.83 L159.61,87.41 L159.66,86.92 L159.72,86.36 L159.77,85.73 L159.82,85.05 L159.88,84.34 L159.93,83.64 L159.99,82.97 L160.04,82.38 L160.09,81.90 L160.15,81.55 L160.20,81.36 L160.25,81.33 L160.31,81.46 L160.36,81.74 L160.42,82.14 L160.47,82.63 L160.52,83.19 L160.58,83.78 L160.63,84.38 L160.69,84.98 L160.74,85.55 L160.79,86.09 L160.85,86.60 L160.90,87.08 L160.96,87.53 L161.01,87.94 L161.06,88.30 L161.12,88.60 L161.17,88.82 L161.23,88.94 L161.28,88.95 L161.33,88.83 L161.39,88.57 L161.44,88.16 L161.49,87.64 L161.55,87.00 L161.60,86.30 L161.66,85.55 L161.71,84.81 L161.76,84.10 L161.82,83.46 L161.87,82.92 L161.93,82.49 L161.98,82.18 L162.03,81.98 L162.09,81.90 L162.14,81.91 L162.20,82.00 L162.25,82.17 L162.30,82.39 L162.36,82.68 L162.41,83.02 L162.47,83.42 L162.52,83.89 L162.57,84.41 L162.63,84.99 L162.68,85.61 L162.73,86.25 L162.79,86.90 L162.84,87.51 L162.90,88.06 L162.95,88.51 L163.00,88.84 L163.06,89.03 L163.11,89.06 L163.17,88.93 L163.22,88.67 L163.27,88.28 L163.33,87.80 L163.38,87.26 L163.44,86.68 L163.49,86.08 L163.54,85.51 L163.60,84.95 L163.65,84.44 L163.71,83.96 L163.76,83.52 L163.81,83.12 L163.87,82.76 L163.92,82.45 L163.98,82.20 L164.03,82.01 L164.08,81.91 L164.14,81.92 L164.19,82.04 L164.24,82.28 L164.30,82.65 L164.35,83.14 L164.41,83.73 L164.46,84.39 L164.51,85.10 L164.57,85.80 L164.62,86.48 L164.68,87.09 L164.73,87.61 L164.78,88.02 L164.84,88.32 L164.89,88.50 L164.95,88.56 L165.00,88.53 L165.05,88.42 L165.11,88.23 L165.16,87.99 L165.22,87.69 L165.27,87.35 L165.32,86.96 L165.38,86.52 L165.43,86.04 L165.48,85.51 L165.54,84.94 L165.59,84.35 L165.65,83.76 L165.70,83.20 L165.75,82.69 L165.81,82.27 L165.86,81.96 L165.92,81.79 L165.97,81.75 L166.02,81.87 L166.08,82.12 L166.13,82.49 L166.19,82.95 L166.24,83.48 L166.29,84.05 L166.35,84.63 L166.40,85.19 L166.46,85.73 L166.51,86.22 L166.56,86.67 L166.62,87.08 L166.67,87.43 L166.72,87.75 L166.78,88.01 L166.83,88.22 L166.89,88.37 L166.94,88.44 L166.99,88.43 L167.05,88.31 L167.10,88.08 L167.16,87.73 L167.21,87.28 L167.26,86.74 L167.32,86.12 L167.37,85.46 L167.43,84.79 L167.48,84.15 L167.53,83.56 L167.59,83.06 L167.64,82.67 L167.70,82.39 L167.75,82.22 L167.80,82.17 L167.86,82.22 L167.91,82.35 L167.96,82.55 L168.02,82.81 L168.07,83.11 L168.13,83.45 L168.18,83.83 L168.23,84.25 L168.29,84.71 L168.34,85.20 L168.40,85.71 L168.45,86.25 L168.50,86.78 L168.56,87.30 L168.61,87.76 L168.67,88.15 L168.72,88.44 L168.77,88.61 L168.83,88.64 L168.88,88.54 L168.94,88.30 L168.99,87.95 L169.04,87.50 L169.10,86.99 L169.15,86.44 L169.21,85.87 L169.26,85.32 L169.31,84.80 L169.37,84.33 L169.42,83.90 L169.47,83.53 L169.53,83.21 L169.58,82.94 L169.64,82.72 L169.69,82.54 L169.74,82.43 L169.80,82.38 L169.85,82.41 L169.91,82.53 L169.96,82.75 L170.01,83.07 L170.07,83.49 L170.12,83.99 L170.18,84.56 L170.23,85.18 L170.28,85.81 L170.34,86.42 L170.39,86.97 L170.45,87.45 L170.50,87.83 L170.55,88.10 L170.61,88.26 L170.66,88.30 L170.71,88.24 L170.77,88.10 L170.82,87.88 L170.88,87.62 L170.93,87.31 L170.98,86.96 L171.04,86.59 L171.09,86.19 L171.15,85.76 L171.20,85.31 L171.25,84.83 L171.31,84.35 L171.36,83.86 L171.42,83.40 L171.47,82.98 L171.52,82.62 L171.58,82.35 L171.63,82.20 L171.69,82.16 L171.74,82.25 L171.79,82.47 L171.85,82.81 L171.90,83.23 L171.95,83.73 L172.01,84.26 L172.06,84.81 L172.12,85.34 L172.17,85.85 L172.22,86.30 L172.28,86.71 L172.33,87.05 L172.39,87.34 L172.44,87.58 L172.49,87.77 L172.55,87.91 L172.60,87.99 L172.66,88.01 L172.71,87.97 L172.76,87.84 L172.82,87.64 L172.87,87.34 L172.93,86.95 L172.98,86.49 L173.03,85.96 L173.09,85.38 L173.14,84.79 L173.20,84.22 L173.25,83.69 L173.30,83.23 L173.36,82.87 L173.41,82.61 L173.46,82.47 L173.52,82.43 L173.57,82.50 L173.63,82.65 L173.68,82.87 L173.73,83.14 L173.79,83.46 L173.84,83.81 L173.90,84.17 L173.95,84.56 L174.00,84.96 L174.06,85.38 L174.11,85.81 L174.17,86.25 L174.22,86.69 L174.27,87.11 L174.33,87.49 L174.38,87.82 L174.44,88.06 L174.49,88.21 L174.54,88.24 L174.60,88.16 L174.65,87.95 L174.70,87.64 L174.76,87.24 L174.81,86.77 L174.87,86.25 L174.92,85.72 L174.97,85.20 L175.03,84.71 L175.08,84.27 L175.14,83.89 L175.19,83.56 L175.24,83.30 L175.30,83.09 L175.35,82.94 L175.41,82.83 L175.46,82.78 L175.51,82.78 L175.57,82.84 L175.62,82.97 L175.68,83.17 L175.73,83.45 L175.78,83.80 L175.84,84.23 L175.89,84.72 L175.94,85.25 L176.00,85.80 L176.05,86.34 L176.11,86.84 L176.16,87.27 L176.21,87.62 L176.27,87.87 L176.32,88.01 L176.38,88.04 L176.43,87.97 L176.48,87.82 L176.54,87.59 L176.59,87.31 L176.65,86.99 L176.70,86.64 L176.75,86.28 L176.81,85.91 L176.86,85.53 L176.92,85.14 L176.97,84.74 L177.02,84.34 L177.08,83.95 L177.13,83.57 L177.18,83.23 L177.24,82.94 L177.29,82.72 L177.35,82.58 L177.40,82.55 L177.45,82.63 L177.51,82.81 L177.56,83.11 L177.62,83.49 L177.67,83.94 L177.72,84.43 L177.78,84.94 L177.83,85.44 L177.89,85.91 L177.94,86.34 L177.99,86.71 L178.05,87.01 L178.10,87.25 L178.16,87.44 L178.21,87.56 L178.26,87.64 L178.32,87.67 L178.37,87.64 L178.43,87.57 L178.48,87.44 L178.53,87.24 L178.59,86.98 L178.64,86.65 L178.69,86.25 L178.75,85.80 L178.80,85.31 L178.86,84.80 L178.91,84.30 L178.96,83.83 L179.02,83.42 L179.07,83.08 L179.13,82.85 L179.18,82.71 L179.23,82.68 L179.29,82.75 L179.34,82.91 L179.40,83.14 L179.45,83.42 L179.50,83.74 L179.56,84.09 L179.61,84.45 L179.67,84.81 L179.72,85.17 L179.77,85.54 L179.83,85.90 L179.88,86.26 L179.93,86.62 L179.99,86.95 L180.04,87.26 L180.10,87.52 L180.15,87.72 L180.20,87.84 L180.26,87.87 L180.31,87.80 L180.37,87.62 L180.42,87.35 L180.47,86.99 L180.53,86.57 L180.58,86.10 L180.64,85.61 L180.69,85.13 L180.74,84.67 L180.80,84.26 L180.85,83.91 L180.91,83.62 L180.96,83.39 L181.01,83.23 L181.07,83.13 L181.12,83.08 L181.17,83.07 L181.23,83.12 L181.28,83.21 L181.34,83.34 L181.39,83.54 L181.44,83.79 L181.50,84.10 L181.55,84.46 L181.61,84.87 L181.66,85.33 L181.71,85.80 L181.77,86.26 L181.82,86.70 L181.88,87.09 L181.93,87.41 L181.98,87.63 L182.04,87.76 L182.09,87.79 L182.15,87.72 L182.20,87.57 L182.25,87.34 L182.31,87.06 L182.36,86.74 L182.42,86.39 L182.47,86.04 L182.52,85.69 L182.58,85.34 L182.63,84.99 L182.68,84.66 L182.74,84.33 L182.79,84.01 L182.85,83.72 L182.90,83.45 L182.95,83.22 L183.01,83.04 L183.06,82.94 L183.12,82.91 L183.17,82.98 L183.22,83.14 L183.28,83.39 L183.33,83.72 L183.39,84.12 L183.44,84.57 L183.49,85.03 L183.55,85.50 L183.60,85.94 L183.66,86.33 L183.71,86.67 L183.76,86.95 L183.82,87.16 L183.87,87.30 L183.92,87.38 L183.98,87.41 L184.03,87.40 L184.09,87.34 L184.14,87.23 L184.19,87.09 L184.25,86.90 L184.30,86.66 L184.36,86.37 L184.41,86.03 L184.46,85.65 L184.52,85.24 L184.57,84.81 L184.63,84.37 L184.68,83.97 L184.73,83.60 L184.79,83.30 L184.84,83.09 L184.90,82.96 L184.95,82.93 L185.00,83.00 L185.06,83.15 L185.11,83.37 L185.16,83.65 L185.22,83.97 L185.27,84.31 L185.33,84.66 L185.38,85.00 L185.43,85.34 L185.49,85.67 L185.54,85.98 L185.60,86.28 L185.65,86.56 L185.70,86.82 L185.76,87.06 L185.81,87.26 L185.87,87.41 L185.92,87.50 L185.97,87.52 L186.03,87.46 L186.08,87.31 L186.14,87.08 L186.19,86.77 L186.24,86.39 L186.30,85.97 L186.35,85.53 L186.41,85.09 L186.46,84.66 L186.51,84.28 L186.57,83.95 L186.62,83.69 L186.67,83.50 L186.73,83.37 L186.78,83.30 L186.84,83.29 L186.89,83.32 L186.94,83.40 L187.00,83.51 L187.05,83.66 L187.11,83.85 L187.16,84.08 L187.21,84.36 L187.27,84.67 L187.32,85.02 L187.38,85.40 L187.43,85.79 L187.48,86.19 L187.54,86.57 L187.59,86.91 L187.65,87.19 L187.70,87.40 L187.75,87.52 L187.81,87.55 L187.86,87.48 L187.91,87.34 L187.97,87.12 L188.02,86.85 L188.08,86.53 L188.13,86.20 L188.18,85.86 L188.24,85.52 L188.29,85.19 L188.35,84.88 L188.40,84.59" fill="none" stroke="#109fd7" stroke-width="1.12" stroke-linejoin="round"/>
<path d="M59.05,69.1 V104.6 H189.55" fill="none" stroke="#2a2a2a" stroke-width="1"/>
<path d="M59.05,69.6 h2.3 M59.05,87.1 h2.3 M59.05,104.6 h2.3 M85.05,104.6 v-2.3 M111.05,104.6 v-2.3 M137.05,104.6 v-2.3 M163.05,104.6 v-2.3 M189.05,104.6 v-2.3 " fill="none" stroke="#2a2a2a" stroke-width="0.9"/>
<text transform="translate(56.0,73.8) scale(1.0,1.16)" font-size="13.0" text-anchor="end" >0.95</text>
<text transform="translate(56.0,91.3) scale(1.0,1.16)" font-size="13.0" text-anchor="end" >0.65</text>
<text transform="translate(56.0,108.8) scale(1.0,1.16)" font-size="13.0" text-anchor="end" >0.35</text>
<text transform="translate(66.0,66.2) scale(1.0,1.15)" font-size="13" text-anchor="start" >HIP<tspan dx="0.7">-</tspan><tspan dx="1.2">LPA</tspan><tspan dx="0.1" letter-spacing="0.27"> torque</tspan></text>
<path d="M59.0,138.6 L59.5,138.5 L59.9,138.5 L60.3,138.4 L60.8,138.3 L61.2,138.3 L61.6,138.2 L62.1,138.1 L62.5,138.1 L62.9,138.0 L63.4,137.9 L63.8,137.9 L64.2,137.8 L64.7,137.7 L65.1,137.7 L65.5,137.6 L66.0,137.5 L66.4,137.5 L66.8,137.4 L67.3,137.4 L67.7,137.3 L68.1,137.2 L68.6,137.2 L69.0,137.1 L69.4,137.0 L69.9,137.0 L70.3,136.9 L70.7,136.8 L71.2,136.8 L71.6,136.7 L72.0,136.6 L72.5,136.6 L72.9,136.5 L73.3,136.5 L73.8,136.4 L74.2,136.3 L74.6,136.3 L75.1,136.2 L75.5,136.1 L75.9,136.1 L76.4,136.0 L76.8,135.9 L77.2,135.9 L77.7,135.8 L78.1,135.7 L78.5,135.7 L78.9,135.6 L79.4,135.5 L79.8,135.5 L80.2,135.4 L80.7,135.4 L81.1,135.3 L81.5,135.2 L82.0,135.2 L82.4,135.1 L82.8,135.0 L83.3,135.0 L83.7,134.9 L84.1,134.8 L84.6,134.8 L85.0,134.7 L85.4,134.6 L85.9,134.5 L86.3,134.5 L86.7,134.4 L87.2,134.3 L87.6,134.2 L88.0,134.1 L88.5,134.0 L88.9,134.0 L89.3,133.9 L89.8,133.8 L90.2,133.7 L90.6,133.6 L91.1,133.5 L91.5,133.5 L91.9,133.4 L92.4,133.3 L92.8,133.2 L93.2,133.1 L93.7,133.0 L94.1,133.0 L94.5,132.9 L95.0,132.8 L95.4,132.7 L95.8,132.6 L96.3,132.5 L96.7,132.4 L97.1,132.4 L97.6,132.3 L98.0,132.2 L98.4,132.1 L98.8,132.0 L99.3,131.8 L99.7,131.7 L100.1,131.6 L100.6,131.5 L101.0,131.3 L101.4,131.2 L101.9,131.1 L102.3,131.0 L102.7,130.9 L103.2,130.7 L103.6,130.6 L104.0,130.5 L104.5,130.4 L104.9,130.3 L105.3,130.2 L105.8,130.1 L106.2,130.0 L106.6,129.9 L107.1,129.8 L107.5,129.7 L107.9,129.6 L108.4,129.5 L108.8,129.4 L109.2,129.3 L109.7,129.2 L110.1,129.1 L110.5,129.0 L111.0,128.9 L111.4,129.1 L111.8,129.2 L112.3,129.5 L112.7,129.9 L113.1,130.3 L113.6,130.8 L114.0,131.2 L114.4,131.7 L114.9,132.1 L115.3,132.6 L115.7,133.0 L116.2,133.4 L116.6,133.6 L117.0,133.7 L117.5,133.8 L117.9,133.8 L118.3,133.9 L118.8,134.0 L119.2,134.1 L119.6,134.1 L120.0,134.2 L120.5,134.3 L120.9,134.4 L121.3,134.4 L121.8,134.5 L122.2,134.6 L122.6,134.7 L123.1,134.7 L123.5,134.8 L123.9,134.9 L124.4,134.9 L124.8,135.0 L125.2,135.1 L125.7,135.1 L126.1,135.2 L126.5,135.3 L127.0,135.3 L127.4,135.4 L127.8,135.4 L128.3,135.5 L128.7,135.6 L129.1,135.6 L129.6,135.7 L130.0,135.7 L130.4,135.8 L130.9,135.9 L131.3,135.9 L131.7,136.0 L132.2,136.0 L132.6,136.1 L133.0,136.1 L133.5,136.2 L133.9,136.3 L134.3,136.3 L134.8,136.4 L135.2,136.4 L135.6,136.5 L136.1,136.5 L136.5,136.6 L136.9,136.6 L137.4,136.7 L137.8,136.7 L138.2,136.8 L138.6,136.8 L139.1,136.9 L139.5,136.9 L139.9,137.0 L140.4,137.0 L140.8,137.1 L141.2,137.1 L141.7,137.2 L142.1,137.2 L142.5,137.3 L143.0,137.3 L143.4,137.3 L143.8,137.4 L144.3,137.4 L144.7,137.5 L145.1,137.5 L145.6,137.6 L146.0,137.6 L146.4,137.6 L146.9,137.7 L147.3,137.7 L147.7,137.8 L148.2,137.8 L148.6,137.8 L149.0,137.9 L149.5,137.9 L149.9,138.0 L150.3,138.0 L150.8,138.0 L151.2,138.1 L151.6,138.1 L152.1,138.1 L152.5,138.2 L152.9,138.2 L153.4,138.3 L153.8,138.3 L154.2,138.3 L154.7,138.4 L155.1,138.4 L155.5,138.4 L156.0,138.5 L156.4,138.5 L156.8,138.5 L157.3,138.6 L157.7,138.6 L158.1,138.6 L158.6,138.7 L159.0,138.7 L159.4,138.7 L159.8,138.8 L160.3,138.8 L160.7,138.8 L161.1,138.8 L161.6,138.9 L162.0,138.9 L162.4,138.9 L162.9,139.0 L163.3,139.0 L163.7,139.0 L164.2,139.0 L164.6,139.1 L165.0,139.1 L165.5,139.1 L165.9,139.2 L166.3,139.2 L166.8,139.2 L167.2,139.2 L167.6,139.3 L168.1,139.3 L168.5,139.3 L168.9,139.3 L169.4,139.4 L169.8,139.4 L170.2,139.4 L170.7,139.4 L171.1,139.5 L171.5,139.5 L172.0,139.5 L172.4,139.5 L172.8,139.6 L173.3,139.6 L173.7,139.6 L174.1,139.6 L174.6,139.6 L175.0,139.7 L175.4,139.7 L175.9,139.7 L176.3,139.7 L176.7,139.8 L177.2,139.8 L177.6,139.8 L178.0,139.8 L178.4,139.8 L178.9,139.9 L179.3,139.9 L179.7,139.9 L180.2,139.9 L180.6,139.9 L181.0,140.0 L181.5,140.0 L181.9,140.0 L182.3,140.0 L182.8,140.0 L183.2,140.1 L183.6,140.1 L184.1,140.1 L184.5,140.1 L184.9,140.1 L185.4,140.1 L185.8,140.2 L186.2,140.2 L186.7,140.2 L187.1,140.2 L187.5,140.2 L188.0,140.2 L188.4,140.3 L188.4,143.7 L188.0,143.8 L187.5,143.8 L187.1,143.8 L186.7,143.8 L186.2,143.8 L185.8,143.8 L185.4,143.9 L184.9,143.9 L184.5,143.9 L184.1,143.9 L183.6,143.9 L183.2,143.9 L182.8,144.0 L182.3,144.0 L181.9,144.0 L181.5,144.0 L181.0,144.0 L180.6,144.1 L180.2,144.1 L179.7,144.1 L179.3,144.1 L178.9,144.1 L178.4,144.2 L178.0,144.2 L177.6,144.2 L177.2,144.2 L176.7,144.2 L176.3,144.3 L175.9,144.3 L175.4,144.3 L175.0,144.3 L174.6,144.4 L174.1,144.4 L173.7,144.4 L173.3,144.4 L172.8,144.4 L172.4,144.5 L172.0,144.5 L171.5,144.5 L171.1,144.5 L170.7,144.6 L170.2,144.6 L169.8,144.6 L169.4,144.6 L168.9,144.7 L168.5,144.7 L168.1,144.7 L167.6,144.7 L167.2,144.8 L166.8,144.8 L166.3,144.8 L165.9,144.8 L165.5,144.9 L165.0,144.9 L164.6,144.9 L164.2,145.0 L163.7,145.0 L163.3,145.0 L162.9,145.0 L162.4,145.1 L162.0,145.1 L161.6,145.1 L161.1,145.2 L160.7,145.2 L160.3,145.2 L159.8,145.2 L159.4,145.3 L159.0,145.3 L158.6,145.3 L158.1,145.4 L157.7,145.4 L157.3,145.4 L156.8,145.5 L156.4,145.5 L156.0,145.5 L155.5,145.6 L155.1,145.6 L154.7,145.6 L154.2,145.7 L153.8,145.7 L153.4,145.7 L152.9,145.8 L152.5,145.8 L152.1,145.9 L151.6,145.9 L151.2,145.9 L150.8,146.0 L150.3,146.0 L149.9,146.0 L149.5,146.1 L149.0,146.1 L148.6,146.2 L148.2,146.2 L147.7,146.2 L147.3,146.3 L146.9,146.3 L146.4,146.4 L146.0,146.4 L145.6,146.4 L145.1,146.5 L144.7,146.5 L144.3,146.6 L143.8,146.6 L143.4,146.7 L143.0,146.7 L142.5,146.7 L142.1,146.8 L141.7,146.8 L141.2,146.9 L140.8,146.9 L140.4,147.0 L139.9,147.0 L139.5,147.1 L139.1,147.1 L138.6,147.2 L138.2,147.2 L137.8,147.3 L137.4,147.3 L136.9,147.4 L136.5,147.4 L136.1,147.5 L135.6,147.5 L135.2,147.6 L134.8,147.6 L134.3,147.7 L133.9,147.7 L133.5,147.8 L133.0,147.9 L132.6,147.9 L132.2,148.0 L131.7,148.0 L131.3,148.1 L130.9,148.1 L130.4,148.2 L130.0,148.3 L129.6,148.3 L129.1,148.4 L128.7,148.4 L128.3,148.5 L127.8,148.6 L127.4,148.6 L127.0,148.7 L126.5,148.7 L126.1,148.8 L125.7,148.9 L125.2,148.9 L124.8,149.0 L124.4,149.1 L123.9,149.1 L123.5,149.2 L123.1,149.3 L122.6,149.3 L122.2,149.4 L121.8,149.5 L121.3,149.6 L120.9,149.6 L120.5,149.7 L120.0,149.8 L119.6,149.9 L119.2,149.9 L118.8,150.0 L118.3,150.1 L117.9,150.2 L117.5,150.2 L117.0,150.3 L116.6,150.4 L116.2,150.6 L115.7,151.0 L115.3,151.4 L114.9,151.9 L114.4,152.3 L114.0,152.8 L113.6,153.2 L113.1,153.7 L112.7,154.1 L112.3,154.5 L111.8,154.8 L111.4,154.9 L111.0,155.1 L110.5,155.0 L110.1,154.9 L109.7,154.8 L109.2,154.7 L108.8,154.6 L108.4,154.5 L107.9,154.4 L107.5,154.3 L107.1,154.2 L106.6,154.1 L106.2,154.0 L105.8,153.9 L105.3,153.8 L104.9,153.7 L104.5,153.6 L104.0,153.5 L103.6,153.4 L103.2,153.3 L102.7,153.1 L102.3,153.0 L101.9,152.9 L101.4,152.8 L101.0,152.7 L100.6,152.5 L100.1,152.4 L99.7,152.3 L99.3,152.2 L98.8,152.0 L98.4,151.9 L98.0,151.8 L97.6,151.7 L97.1,151.6 L96.7,151.6 L96.3,151.5 L95.8,151.4 L95.4,151.3 L95.0,151.2 L94.5,151.1 L94.1,151.0 L93.7,151.0 L93.2,150.9 L92.8,150.8 L92.4,150.7 L91.9,150.6 L91.5,150.5 L91.1,150.5 L90.6,150.4 L90.2,150.3 L89.8,150.2 L89.3,150.1 L88.9,150.0 L88.5,150.0 L88.0,149.9 L87.6,149.8 L87.2,149.7 L86.7,149.6 L86.3,149.5 L85.9,149.5 L85.4,149.4 L85.0,149.3 L84.6,149.2 L84.1,149.2 L83.7,149.1 L83.3,149.0 L82.8,149.0 L82.4,148.9 L82.0,148.8 L81.5,148.8 L81.1,148.7 L80.7,148.6 L80.2,148.6 L79.8,148.5 L79.4,148.5 L78.9,148.4 L78.5,148.3 L78.1,148.3 L77.7,148.2 L77.2,148.1 L76.8,148.1 L76.4,148.0 L75.9,147.9 L75.5,147.9 L75.1,147.8 L74.6,147.7 L74.2,147.7 L73.8,147.6 L73.3,147.5 L72.9,147.5 L72.5,147.4 L72.0,147.4 L71.6,147.3 L71.2,147.2 L70.7,147.2 L70.3,147.1 L69.9,147.0 L69.4,147.0 L69.0,146.9 L68.6,146.8 L68.1,146.8 L67.7,146.7 L67.3,146.6 L66.8,146.6 L66.4,146.5 L66.0,146.5 L65.5,146.4 L65.1,146.3 L64.7,146.3 L64.2,146.2 L63.8,146.1 L63.4,146.1 L62.9,146.0 L62.5,145.9 L62.1,145.9 L61.6,145.8 L61.2,145.7 L60.8,145.7 L60.3,145.6 L59.9,145.5 L59.5,145.5 L59.0,145.4Z" fill="#109fd7" fill-opacity="0.42" stroke="none"/>
<path d="M59.05,141.99 L59.10,141.39 L59.16,140.81 L59.21,140.25 L59.27,139.74 L59.32,139.29 L59.37,138.92 L59.43,138.63 L59.48,138.44 L59.54,138.37 L59.59,138.42 L59.64,138.58 L59.70,138.87 L59.75,139.27 L59.80,139.76 L59.86,140.33 L59.91,140.97 L59.97,141.63 L60.02,142.31 L60.07,142.97 L60.13,143.59 L60.18,144.16 L60.24,144.65 L60.29,145.05 L60.34,145.36 L60.40,145.56 L60.45,145.66 L60.51,145.66 L60.56,145.54 L60.61,145.33 L60.67,145.01 L60.72,144.60 L60.78,144.11 L60.83,143.54 L60.88,142.92 L60.94,142.25 L60.99,141.56 L61.04,140.87 L61.10,140.21 L61.15,139.60 L61.21,139.06 L61.26,138.63 L61.31,138.30 L61.37,138.11 L61.42,138.05 L61.48,138.12 L61.53,138.32 L61.58,138.64 L61.64,139.06 L61.69,139.57 L61.75,140.15 L61.80,140.78 L61.85,141.44 L61.91,142.11 L61.96,142.78 L62.02,143.43 L62.07,144.05 L62.12,144.60 L62.18,145.09 L62.23,145.50 L62.29,145.80 L62.34,145.99 L62.39,146.06 L62.45,145.99 L62.50,145.79 L62.55,145.46 L62.61,145.01 L62.66,144.45 L62.72,143.80 L62.77,143.08 L62.82,142.33 L62.88,141.57 L62.93,140.83 L62.99,140.13 L63.04,139.50 L63.09,138.96 L63.15,138.52 L63.20,138.19 L63.26,137.98 L63.31,137.89 L63.36,137.92 L63.42,138.07 L63.47,138.34 L63.53,138.71 L63.58,139.18 L63.63,139.74 L63.69,140.38 L63.74,141.08 L63.79,141.82 L63.85,142.58 L63.90,143.34 L63.96,144.07 L64.01,144.74 L64.06,145.32 L64.12,145.80 L64.17,146.15 L64.23,146.35 L64.28,146.41 L64.33,146.31 L64.39,146.08 L64.44,145.71 L64.50,145.22 L64.55,144.63 L64.60,143.97 L64.66,143.26 L64.71,142.52 L64.77,141.76 L64.82,141.02 L64.87,140.30 L64.93,139.63 L64.98,139.03 L65.03,138.51 L65.09,138.08 L65.14,137.77 L65.20,137.58 L65.25,137.52 L65.30,137.61 L65.36,137.85 L65.41,138.23 L65.47,138.74 L65.52,139.36 L65.57,140.09 L65.63,140.88 L65.68,141.72 L65.74,142.56 L65.79,143.39 L65.84,144.16 L65.90,144.85 L65.95,145.44 L66.01,145.92 L66.06,146.26 L66.11,146.48 L66.17,146.55 L66.22,146.49 L66.28,146.30 L66.33,145.99 L66.38,145.56 L66.44,145.02 L66.49,144.39 L66.54,143.68 L66.60,142.91 L66.65,142.09 L66.71,141.26 L66.76,140.43 L66.81,139.64 L66.87,138.92 L66.92,138.29 L66.98,137.77 L67.03,137.40 L67.08,137.19 L67.14,137.14 L67.19,137.26 L67.25,137.54 L67.30,137.96 L67.35,138.52 L67.41,139.18 L67.46,139.92 L67.52,140.72 L67.57,141.55 L67.62,142.39 L67.68,143.20 L67.73,143.98 L67.78,144.70 L67.84,145.35 L67.89,145.90 L67.95,146.35 L68.00,146.67 L68.05,146.85 L68.11,146.89 L68.16,146.77 L68.22,146.50 L68.27,146.07 L68.32,145.50 L68.38,144.81 L68.43,144.01 L68.49,143.13 L68.54,142.21 L68.59,141.28 L68.65,140.38 L68.70,139.54 L68.76,138.78 L68.81,138.14 L68.86,137.64 L68.92,137.27 L68.97,137.06 L69.02,137.00 L69.08,137.09 L69.13,137.33 L69.19,137.70 L69.24,138.19 L69.29,138.80 L69.35,139.50 L69.40,140.29 L69.46,141.13 L69.51,142.02 L69.56,142.92 L69.62,143.81 L69.67,144.66 L69.73,145.44 L69.78,146.11 L69.83,146.66 L69.89,147.05 L69.94,147.27 L70.00,147.31 L70.05,147.16 L70.10,146.84 L70.16,146.36 L70.21,145.74 L70.27,145.00 L70.32,144.17 L70.37,143.28 L70.43,142.36 L70.48,141.45 L70.53,140.56 L70.59,139.71 L70.64,138.94 L70.70,138.25 L70.75,137.68 L70.80,137.22 L70.86,136.90 L70.91,136.72 L70.97,136.71 L71.02,136.86 L71.07,137.17 L71.13,137.65 L71.18,138.28 L71.24,139.04 L71.29,139.92 L71.34,140.87 L71.40,141.87 L71.45,142.88 L71.51,143.86 L71.56,144.78 L71.61,145.59 L71.67,146.28 L71.72,146.82 L71.77,147.20 L71.83,147.41 L71.88,147.45 L71.94,147.32 L71.99,147.04 L72.04,146.61 L72.10,146.05 L72.15,145.37 L72.21,144.59 L72.26,143.73 L72.31,142.80 L72.37,141.84 L72.42,140.87 L72.48,139.92 L72.53,139.02 L72.58,138.19 L72.64,137.48 L72.69,136.91 L72.75,136.50 L72.80,136.28 L72.85,136.25 L72.91,136.42 L72.96,136.78 L73.01,137.32 L73.07,138.02 L73.12,138.84 L73.18,139.76 L73.23,140.73 L73.28,141.74 L73.34,142.74 L73.39,143.71 L73.45,144.61 L73.50,145.44 L73.55,146.16 L73.61,146.76 L73.66,147.23 L73.72,147.54 L73.77,147.70 L73.82,147.69 L73.88,147.51 L73.93,147.15 L73.99,146.61 L74.04,145.92 L74.09,145.09 L74.15,144.14 L74.20,143.11 L74.25,142.03 L74.31,140.94 L74.36,139.88 L74.42,138.89 L74.47,138.02 L74.52,137.28 L74.58,136.71 L74.63,136.32 L74.69,136.12 L74.74,136.10 L74.79,136.26 L74.85,136.60 L74.90,137.10 L74.96,137.73 L75.01,138.49 L75.06,139.35 L75.12,140.29 L75.17,141.28 L75.23,142.31 L75.28,143.35 L75.33,144.36 L75.39,145.32 L75.44,146.18 L75.50,146.93 L75.55,147.53 L75.60,147.95 L75.66,148.17 L75.71,148.18 L75.76,147.98 L75.82,147.57 L75.87,146.98 L75.93,146.21 L75.98,145.31 L76.03,144.31 L76.09,143.24 L76.14,142.14 L76.20,141.06 L76.25,140.01 L76.30,139.04 L76.36,138.17 L76.41,137.41 L76.47,136.79 L76.52,136.32 L76.57,136.01 L76.63,135.88 L76.68,135.92 L76.74,136.15 L76.79,136.56 L76.84,137.14 L76.90,137.90 L76.95,138.80 L77.00,139.82 L77.06,140.93 L77.11,142.09 L77.17,143.26 L77.22,144.39 L77.27,145.45 L77.33,146.38 L77.38,147.16 L77.44,147.76 L77.49,148.16 L77.54,148.36 L77.60,148.35 L77.65,148.15 L77.71,147.75 L77.76,147.19 L77.81,146.48 L77.87,145.64 L77.92,144.70 L77.98,143.68 L78.03,142.60 L78.08,141.50 L78.14,140.40 L78.19,139.34 L78.24,138.33 L78.30,137.43 L78.35,136.65 L78.41,136.03 L78.46,135.61 L78.51,135.39 L78.57,135.39 L78.62,135.63 L78.68,136.08 L78.73,136.74 L78.78,137.57 L78.84,138.56 L78.89,139.65 L78.95,140.81 L79.00,141.99 L79.05,143.16 L79.11,144.28 L79.16,145.32 L79.22,146.24 L79.27,147.03 L79.32,147.67 L79.38,148.14 L79.43,148.43 L79.49,148.54 L79.54,148.46 L79.59,148.19 L79.65,147.73 L79.70,147.08 L79.75,146.26 L79.81,145.29 L79.86,144.19 L79.92,143.01 L79.97,141.77 L80.02,140.53 L80.08,139.32 L80.13,138.20 L80.19,137.22 L80.24,136.39 L80.29,135.77 L80.35,135.35 L80.40,135.16 L80.46,135.20 L80.51,135.45 L80.56,135.90 L80.62,136.54 L80.67,137.33 L80.73,138.25 L80.78,139.28 L80.83,140.38 L80.89,141.53 L80.94,142.70 L80.99,143.87 L81.05,144.99 L81.10,146.04 L81.16,146.98 L81.21,147.78 L81.26,148.41 L81.32,148.84 L81.37,149.05 L81.43,149.02 L81.48,148.76 L81.53,148.26 L81.59,147.54 L81.64,146.63 L81.70,145.56 L81.75,144.38 L81.80,143.13 L81.86,141.85 L81.91,140.60 L81.97,139.40 L82.02,138.30 L82.07,137.33 L82.13,136.51 L82.18,135.86 L82.23,135.39 L82.29,135.11 L82.34,135.04 L82.40,135.16 L82.45,135.48 L82.50,136.01 L82.56,136.72 L82.61,137.61 L82.67,138.65 L82.72,139.82 L82.77,141.08 L82.83,142.39 L82.88,143.70 L82.94,144.98 L82.99,146.16 L83.04,147.20 L83.10,148.06 L83.15,148.71 L83.21,149.14 L83.26,149.32 L83.31,149.25 L83.37,148.95 L83.42,148.44 L83.47,147.73 L83.53,146.86 L83.58,145.84 L83.64,144.73 L83.69,143.54 L83.74,142.31 L83.80,141.06 L83.85,139.84 L83.91,138.67 L83.96,137.58 L84.01,136.61 L84.07,135.79 L84.12,135.15 L84.18,134.72 L84.23,134.53 L84.28,134.58 L84.34,134.88 L84.39,135.43 L84.45,136.20 L84.50,137.19 L84.55,138.33 L84.61,139.60 L84.66,140.95 L84.72,142.31 L84.77,143.65 L84.82,144.93 L84.88,146.09 L84.93,147.11 L84.98,147.96 L85.04,148.62 L85.09,149.09 L85.15,149.35 L85.20,149.39 L85.25,149.22 L85.31,148.84 L85.36,148.26 L85.42,147.48 L85.47,146.52 L85.52,145.40 L85.58,144.16 L85.63,142.82 L85.69,141.43 L85.74,140.04 L85.79,138.70 L85.85,137.45 L85.90,136.36 L85.96,135.45 L86.01,134.77 L86.06,134.33 L86.12,134.16 L86.17,134.25 L86.22,134.60 L86.28,135.18 L86.33,135.97 L86.39,136.93 L86.44,138.04 L86.49,139.26 L86.55,140.55 L86.60,141.87 L86.66,143.20 L86.71,144.50 L86.76,145.73 L86.82,146.87 L86.87,147.88 L86.93,148.72 L86.98,149.38 L87.03,149.80 L87.09,149.99 L87.14,149.91 L87.20,149.57 L87.25,148.96 L87.30,148.11 L87.36,147.05 L87.41,145.81 L87.46,144.43 L87.52,142.98 L87.57,141.50 L87.63,140.05 L87.68,138.68 L87.73,137.44 L87.79,136.35 L87.84,135.45 L87.90,134.77 L87.95,134.30 L88.00,134.07 L88.06,134.06 L88.11,134.29 L88.17,134.74 L88.22,135.40 L88.27,136.27 L88.33,137.32 L88.38,138.53 L88.44,139.87 L88.49,141.30 L88.54,142.78 L88.60,144.26 L88.65,145.69 L88.71,147.01 L88.76,148.17 L88.81,149.12 L88.87,149.84 L88.92,150.28 L88.97,150.45 L89.03,150.32 L89.08,149.92 L89.14,149.26 L89.19,148.38 L89.24,147.31 L89.30,146.08 L89.35,144.75 L89.41,143.35 L89.46,141.92 L89.51,140.50 L89.57,139.12 L89.62,137.81 L89.68,136.62 L89.73,135.58 L89.78,134.71 L89.84,134.05 L89.89,133.63 L89.95,133.47 L90.00,133.58 L90.05,133.97 L90.11,134.64 L90.16,135.57 L90.21,136.72 L90.27,138.07 L90.32,139.55 L90.38,141.12 L90.43,142.71 L90.48,144.27 L90.54,145.73 L90.59,147.06 L90.65,148.21 L90.70,149.15 L90.75,149.86 L90.81,150.32 L90.86,150.53 L90.92,150.48 L90.97,150.19 L91.02,149.67 L91.08,148.92 L91.13,147.96 L91.19,146.82 L91.24,145.51 L91.29,144.08 L91.35,142.55 L91.40,140.98 L91.45,139.42 L91.51,137.91 L91.56,136.52 L91.62,135.30 L91.67,134.30 L91.72,133.56 L91.78,133.10 L91.83,132.95 L91.89,133.12 L91.94,133.57 L91.99,134.31 L92.05,135.29 L92.10,136.47 L92.16,137.81 L92.21,139.26 L92.26,140.78 L92.32,142.32 L92.37,143.84 L92.43,145.30 L92.48,146.66 L92.53,147.90 L92.59,148.98 L92.64,149.86 L92.70,150.52 L92.75,150.93 L92.80,151.06 L92.86,150.91 L92.91,150.47 L92.96,149.73 L93.02,148.73 L93.07,147.48 L93.13,146.04 L93.18,144.45 L93.23,142.77 L93.29,141.06 L93.34,139.40 L93.40,137.83 L93.45,136.42 L93.50,135.21 L93.56,134.23 L93.61,133.51 L93.67,133.06 L93.72,132.88 L93.77,132.97 L93.83,133.33 L93.88,133.94 L93.94,134.78 L93.99,135.83 L94.04,137.08 L94.10,138.48 L94.15,140.01 L94.20,141.63 L94.26,143.29 L94.31,144.93 L94.37,146.51 L94.42,147.96 L94.47,149.24 L94.53,150.28 L94.58,151.05 L94.64,151.51 L94.69,151.64 L94.74,151.44 L94.80,150.92 L94.85,150.11 L94.91,149.03 L94.96,147.74 L95.01,146.28 L95.07,144.71 L95.12,143.07 L95.18,141.42 L95.23,139.81 L95.28,138.26 L95.34,136.83 L95.39,135.55 L95.44,134.45 L95.50,133.55 L95.55,132.90 L95.61,132.52 L95.66,132.41 L95.71,132.61 L95.77,133.12 L95.82,133.92 L95.88,135.00 L95.93,136.34 L95.98,137.88 L96.04,139.58 L96.09,141.37 L96.15,143.18 L96.20,144.95 L96.25,146.61 L96.31,148.10 L96.36,149.38 L96.42,150.40 L96.47,151.13 L96.52,151.58 L96.58,151.72 L96.63,151.57 L96.68,151.14 L96.74,150.44 L96.79,149.50 L96.85,148.35 L96.90,147.00 L96.95,145.49 L97.01,143.87 L97.06,142.16 L97.12,140.42 L97.17,138.70 L97.22,137.05 L97.28,135.53 L97.33,134.21 L97.39,133.14 L97.44,132.35 L97.49,131.89 L97.55,131.78 L97.60,132.02 L97.66,132.60 L97.71,133.49 L97.76,134.66 L97.82,136.07 L97.87,137.65 L97.93,139.34 L97.98,141.10 L98.03,142.86 L98.09,144.58 L98.14,146.21 L98.19,147.70 L98.25,149.04 L98.30,150.17 L98.36,151.07 L98.41,151.71 L98.46,152.08 L98.52,152.14 L98.57,151.89 L98.63,151.33 L98.68,150.45 L98.73,149.28 L98.79,147.85 L98.84,146.20 L98.90,144.38 L98.95,142.47 L99.00,140.54 L99.06,138.65 L99.11,136.88 L99.17,135.29 L99.22,133.94 L99.27,132.87 L99.33,132.10 L99.38,131.66 L99.43,131.55 L99.49,131.76 L99.54,132.27 L99.60,133.07 L99.65,134.12 L99.70,135.40 L99.76,136.87 L99.81,138.51 L99.87,140.26 L99.92,142.09 L99.97,143.94 L100.03,145.77 L100.08,147.51 L100.14,149.11 L100.19,150.50 L100.24,151.63 L100.30,152.45 L100.35,152.92 L100.41,153.02 L100.46,152.73 L100.51,152.08 L100.57,151.09 L100.62,149.79 L100.67,148.25 L100.73,146.51 L100.78,144.65 L100.84,142.72 L100.89,140.80 L100.94,138.94 L101.00,137.19 L101.05,135.59 L101.11,134.18 L101.16,133.01 L101.21,132.09 L101.27,131.45 L101.32,131.11 L101.38,131.10 L101.43,131.41 L101.48,132.06 L101.54,133.04 L101.59,134.33 L101.65,135.89 L101.70,137.68 L101.75,139.64 L101.81,141.70 L101.86,143.79 L101.92,145.83 L101.97,147.73 L102.02,149.44 L102.08,150.88 L102.13,152.01 L102.18,152.81 L102.24,153.24 L102.29,153.31 L102.35,153.03 L102.40,152.42 L102.45,151.51 L102.51,150.32 L102.56,148.89 L102.62,147.27 L102.67,145.48 L102.72,143.59 L102.78,141.62 L102.83,139.64 L102.89,137.70 L102.94,135.86 L102.99,134.18 L103.05,132.72 L103.10,131.55 L103.16,130.70 L103.21,130.23 L103.26,130.16 L103.32,130.49 L103.37,131.22 L103.42,132.32 L103.48,133.75 L103.53,135.45 L103.59,137.36 L103.64,139.39 L103.69,141.49 L103.75,143.57 L103.80,145.58 L103.86,147.46 L103.91,149.15 L103.96,150.63 L104.02,151.84 L104.07,152.78 L104.13,153.40 L104.18,153.70 L104.23,153.65 L104.29,153.26 L104.34,152.51 L104.40,151.43 L104.45,150.02 L104.50,148.33 L104.56,146.40 L104.61,144.30 L104.66,142.09 L104.72,139.85 L104.77,137.68 L104.83,135.65 L104.88,133.83 L104.93,132.31 L104.99,131.12 L105.04,130.30 L105.10,129.88 L105.15,129.85 L105.20,130.21 L105.26,130.92 L105.31,131.97 L105.37,133.30 L105.42,134.88 L105.47,136.65 L105.53,138.58 L105.58,140.62 L105.64,142.71 L105.69,144.80 L105.74,146.84 L105.80,148.76 L105.85,150.51 L105.91,152.01 L105.96,153.22 L106.01,154.07 L106.07,154.53 L106.12,154.57 L106.17,154.18 L106.23,153.37 L106.28,152.16 L106.34,150.61 L106.39,148.77 L106.44,146.71 L106.50,144.52 L106.55,142.27 L106.61,140.04 L106.66,137.91 L106.71,135.92 L106.77,134.15 L106.82,132.62 L106.88,131.38 L106.93,130.46 L106.98,129.87 L107.04,129.62 L107.09,129.74 L107.15,130.22 L107.20,131.06 L107.25,132.24 L107.31,133.76 L107.36,135.56 L107.41,137.61 L107.47,139.83 L107.52,142.16 L107.58,144.51 L107.63,146.79 L107.68,148.92 L107.74,150.82 L107.79,152.42 L107.85,153.65 L107.90,154.48 L107.95,154.88 L108.01,154.86 L108.06,154.43 L108.12,153.62 L108.17,152.45 L108.22,150.99 L108.28,149.27 L108.33,147.35 L108.39,145.29 L108.44,143.12 L108.49,140.92 L108.55,138.73 L108.60,136.62 L108.65,134.63 L108.71,132.84 L108.76,131.31 L108.82,130.09 L108.87,129.23 L108.92,128.79 L108.98,128.79 L109.03,129.23 L109.09,130.12 L109.14,131.42 L109.19,133.09 L109.25,135.06 L109.30,137.26 L109.36,139.60 L109.41,141.99 L109.46,144.36 L109.52,146.62 L109.57,148.71 L109.63,150.56 L109.68,152.13 L109.73,153.38 L109.79,154.30 L109.84,154.85 L109.89,155.04 L109.95,154.85 L110.00,154.28 L110.06,153.34 L110.11,152.04 L110.16,150.42 L110.22,148.50 L110.27,146.34 L110.33,144.01 L110.38,141.57 L110.43,139.11 L110.49,136.72 L110.54,134.49 L110.60,132.51 L110.65,130.86 L110.70,129.59 L110.76,128.75 L110.81,128.37 L110.87,128.47 L110.92,129.00 L110.97,129.94 L111.03,131.24 L111.08,132.85 L111.14,134.71 L111.19,136.76 L111.24,138.94 L111.30,141.19 L111.35,143.45 L111.40,145.68 L111.46,147.80 L111.51,149.77 L111.57,151.53 L111.62,153.01 L111.67,154.17 L111.73,154.95 L111.78,155.32 L111.84,155.25 L111.89,154.74 L111.94,153.79 L112.00,152.43 L112.05,150.72 L112.11,148.70 L112.16,146.47 L112.21,144.11 L112.27,141.74 L112.32,139.42 L112.38,137.23 L112.43,135.26 L112.48,133.54 L112.54,132.12 L112.59,131.02 L112.64,130.28 L112.70,129.88 L112.75,129.84 L112.81,130.16 L112.86,130.81 L112.91,131.78 L112.97,133.06 L113.02,134.61 L113.08,136.40 L113.13,138.37 L113.18,140.47 L113.24,142.63 L113.29,144.78 L113.35,146.83 L113.40,148.73 L113.45,150.38 L113.51,151.73 L113.56,152.74 L113.62,153.37 L113.67,153.60 L113.72,153.43 L113.78,152.90 L113.83,152.02 L113.88,150.85 L113.94,149.43 L113.99,147.82 L114.05,146.08 L114.10,144.25 L114.15,142.38 L114.21,140.54 L114.26,138.75 L114.32,137.08 L114.37,135.55 L114.42,134.21 L114.48,133.10 L114.53,132.27 L114.59,131.73 L114.64,131.52 L114.69,131.65 L114.75,132.12 L114.80,132.93 L114.86,134.04 L114.91,135.42 L114.96,137.01 L115.02,138.75 L115.07,140.57 L115.13,142.40 L115.18,144.19 L115.23,145.85 L115.29,147.35 L115.34,148.64 L115.39,149.69 L115.45,150.48 L115.50,150.99 L115.56,151.23 L115.61,151.19 L115.66,150.89 L115.72,150.34 L115.77,149.55 L115.83,148.55 L115.88,147.35 L115.93,146.00 L115.99,144.51 L116.04,142.95 L116.10,141.35 L116.15,139.76 L116.20,138.25 L116.26,136.87 L116.31,135.64 L116.37,134.62 L116.42,133.86 L116.47,133.37 L116.53,133.19 L116.58,133.31 L116.63,133.71 L116.69,134.38 L116.74,135.29 L116.80,136.39 L116.85,137.65 L116.90,139.02 L116.96,140.45 L117.01,141.92 L117.07,143.37 L117.12,144.78 L117.17,146.10 L117.23,147.30 L117.28,148.36 L117.34,149.23 L117.39,149.90 L117.44,150.33 L117.50,150.50 L117.55,150.40 L117.61,150.03 L117.66,149.38 L117.71,148.48 L117.77,147.35 L117.82,146.03 L117.87,144.58 L117.93,143.05 L117.98,141.49 L118.04,139.97 L118.09,138.53 L118.14,137.23 L118.20,136.11 L118.25,135.19 L118.31,134.50 L118.36,134.05 L118.41,133.84 L118.47,133.88 L118.52,134.15 L118.58,134.64 L118.63,135.35 L118.68,136.25 L118.74,137.33 L118.79,138.55 L118.85,139.89 L118.90,141.32 L118.95,142.78 L119.01,144.24 L119.06,145.64 L119.11,146.94 L119.17,148.08 L119.22,149.01 L119.28,149.71 L119.33,150.14 L119.38,150.29 L119.44,150.16 L119.49,149.75 L119.55,149.09 L119.60,148.21 L119.65,147.15 L119.71,145.94 L119.76,144.63 L119.82,143.26 L119.87,141.87 L119.92,140.51 L119.98,139.20 L120.03,137.98 L120.09,136.87 L120.14,135.91 L120.19,135.13 L120.25,134.54 L120.30,134.17 L120.36,134.05 L120.41,134.17 L120.46,134.55 L120.52,135.17 L120.57,136.03 L120.62,137.10 L120.68,138.35 L120.73,139.72 L120.79,141.16 L120.84,142.63 L120.89,144.07 L120.95,145.41 L121.00,146.63 L121.06,147.68 L121.11,148.52 L121.16,149.14 L121.22,149.54 L121.27,149.69 L121.33,149.62 L121.38,149.33 L121.43,148.82 L121.49,148.12 L121.54,147.25 L121.60,146.22 L121.65,145.06 L121.70,143.79 L121.76,142.46 L121.81,141.10 L121.86,139.75 L121.92,138.45 L121.97,137.25 L122.03,136.20 L122.08,135.35 L122.13,134.71 L122.19,134.32 L122.24,134.20 L122.30,134.35 L122.35,134.75 L122.40,135.40 L122.46,136.25 L122.51,137.28 L122.57,138.44 L122.62,139.69 L122.67,141.00 L122.73,142.31 L122.78,143.59 L122.84,144.82 L122.89,145.95 L122.94,146.96 L123.00,147.83 L123.05,148.53 L123.10,149.04 L123.16,149.35 L123.21,149.44 L123.27,149.29 L123.32,148.92 L123.37,148.31 L123.43,147.49 L123.48,146.47 L123.54,145.30 L123.59,144.01 L123.64,142.64 L123.70,141.26 L123.75,139.92 L123.81,138.65 L123.86,137.51 L123.91,136.54 L123.97,135.76 L124.02,135.20 L124.08,134.86 L124.13,134.74 L124.18,134.85 L124.24,135.16 L124.29,135.67 L124.35,136.36 L124.40,137.21 L124.45,138.20 L124.51,139.30 L124.56,140.49 L124.61,141.74 L124.67,143.01 L124.72,144.26 L124.78,145.46 L124.83,146.56 L124.88,147.52 L124.94,148.31 L124.99,148.89 L125.05,149.23 L125.10,149.33 L125.15,149.17 L125.21,148.77 L125.26,148.14 L125.32,147.32 L125.37,146.33 L125.42,145.21 L125.48,144.02 L125.53,142.78 L125.59,141.53 L125.64,140.33 L125.69,139.18 L125.75,138.14 L125.80,137.21 L125.85,136.42 L125.91,135.80 L125.96,135.35 L126.02,135.10 L126.07,135.05 L126.12,135.21 L126.18,135.59 L126.23,136.18 L126.29,136.97 L126.34,137.93 L126.39,139.03 L126.45,140.25 L126.50,141.53 L126.56,142.82 L126.61,144.09 L126.66,145.27 L126.72,146.34 L126.77,147.24 L126.83,147.96 L126.88,148.47 L126.93,148.77 L126.99,148.85 L127.04,148.71 L127.09,148.38 L127.15,147.87 L127.20,147.19 L127.26,146.36 L127.31,145.41 L127.36,144.36 L127.42,143.24 L127.47,142.08 L127.53,140.90 L127.58,139.74 L127.63,138.63 L127.69,137.62 L127.74,136.74 L127.80,136.02 L127.85,135.50 L127.90,135.20 L127.96,135.12 L128.01,135.29 L128.07,135.68 L128.12,136.29 L128.17,137.08 L128.23,138.03 L128.28,139.10 L128.34,140.24 L128.39,141.42 L128.44,142.60 L128.50,143.74 L128.55,144.80 L128.60,145.77 L128.66,146.62 L128.71,147.34 L128.77,147.89 L128.82,148.28 L128.87,148.48 L128.93,148.49 L128.98,148.31 L129.04,147.93 L129.09,147.36 L129.14,146.61 L129.20,145.70 L129.25,144.66 L129.31,143.52 L129.36,142.32 L129.41,141.10 L129.47,139.92 L129.52,138.81 L129.58,137.82 L129.63,136.98 L129.68,136.32 L129.74,135.85 L129.79,135.60 L129.84,135.55 L129.90,135.70 L129.95,136.04 L130.01,136.56 L130.06,137.23 L130.11,138.03 L130.17,138.94 L130.22,139.94 L130.28,140.99 L130.33,142.09 L130.38,143.18 L130.44,144.26 L130.49,145.28 L130.55,146.20 L130.60,147.01 L130.65,147.66 L130.71,148.13 L130.76,148.40 L130.82,148.45 L130.87,148.28 L130.92,147.89 L130.98,147.30 L131.03,146.54 L131.08,145.63 L131.14,144.61 L131.19,143.52 L131.25,142.40 L131.30,141.29 L131.35,140.22 L131.41,139.22 L131.46,138.32 L131.52,137.54 L131.57,136.90 L131.62,136.40 L131.68,136.07 L131.73,135.91 L131.79,135.93 L131.84,136.13 L131.89,136.51 L131.95,137.07 L132.00,137.78 L132.06,138.64 L132.11,139.62 L132.16,140.70 L132.22,141.82 L132.27,142.96 L132.32,144.07 L132.38,145.10 L132.43,146.02 L132.49,146.81 L132.54,147.41 L132.59,147.84 L132.65,148.06 L132.70,148.08 L132.76,147.91 L132.81,147.56 L132.86,147.05 L132.92,146.39 L132.97,145.61 L133.03,144.74 L133.08,143.79 L133.13,142.79 L133.19,141.77 L133.24,140.75 L133.30,139.75 L133.35,138.82 L133.40,137.97 L133.46,137.23 L133.51,136.65 L133.57,136.23 L133.62,135.99 L133.67,135.96 L133.73,136.14 L133.78,136.51 L133.83,137.08 L133.89,137.81 L133.94,138.68 L134.00,139.65 L134.05,140.68 L134.10,141.75 L134.16,142.80 L134.21,143.81 L134.27,144.75 L134.32,145.58 L134.37,146.30 L134.43,146.88 L134.48,147.32 L134.54,147.60 L134.59,147.71 L134.64,147.67 L134.70,147.45 L134.75,147.07 L134.81,146.54 L134.86,145.85 L134.91,145.04 L134.97,144.11 L135.02,143.11 L135.07,142.05 L135.13,140.99 L135.18,139.96 L135.24,138.99 L135.29,138.13 L135.34,137.41 L135.40,136.85 L135.45,136.47 L135.51,136.27 L135.56,136.27 L135.61,136.46 L135.67,136.81 L135.72,137.32 L135.78,137.96 L135.83,138.72 L135.88,139.56 L135.94,140.46 L135.99,141.40 L136.05,142.36 L136.10,143.31 L136.15,144.23 L136.21,145.09 L136.26,145.87 L136.31,146.53 L136.37,147.06 L136.42,147.44 L136.48,147.64 L136.53,147.65 L136.58,147.47 L136.64,147.10 L136.69,146.56 L136.75,145.86 L136.80,145.04 L136.85,144.11 L136.91,143.13 L136.96,142.12 L137.02,141.12 L137.07,140.17 L137.12,139.30 L137.18,138.52 L137.23,137.86 L137.29,137.33 L137.34,136.95 L137.39,136.72 L137.45,136.63 L137.50,136.71 L137.56,136.94 L137.61,137.32 L137.66,137.84 L137.72,138.49 L137.77,139.26 L137.82,140.13 L137.88,141.08 L137.93,142.06 L137.99,143.05 L138.04,144.01 L138.09,144.91 L138.15,145.71 L138.20,146.38 L138.26,146.90 L138.31,147.24 L138.36,147.41 L138.42,147.39 L138.47,147.20 L138.53,146.84 L138.58,146.34 L138.63,145.71 L138.69,144.98 L138.74,144.18 L138.80,143.32 L138.85,142.42 L138.90,141.52 L138.96,140.64 L139.01,139.79 L139.06,139.00 L139.12,138.29 L139.17,137.69 L139.23,137.21 L139.28,136.88 L139.33,136.71 L139.39,136.72 L139.44,136.90 L139.50,137.26 L139.55,137.78 L139.60,138.44 L139.66,139.23 L139.71,140.11 L139.77,141.04 L139.82,141.99 L139.87,142.93 L139.93,143.83 L139.98,144.65 L140.04,145.37 L140.09,145.98 L140.14,146.46 L140.20,146.80 L140.25,146.99 L140.30,147.04 L140.36,146.94 L140.41,146.70 L140.47,146.32 L140.52,145.82 L140.57,145.19 L140.63,144.46 L140.68,143.64 L140.74,142.76 L140.79,141.84 L140.84,140.92 L140.90,140.02 L140.95,139.19 L141.01,138.45 L141.06,137.83 L141.11,137.35 L141.17,137.04 L141.22,136.90 L141.28,136.93 L141.33,137.13 L141.38,137.48 L141.44,137.98 L141.49,138.59 L141.54,139.29 L141.60,140.06 L141.65,140.89 L141.71,141.73 L141.76,142.58 L141.81,143.40 L141.87,144.19 L141.92,144.91 L141.98,145.56 L142.03,146.10 L142.08,146.52 L142.14,146.81 L142.19,146.95 L142.25,146.93 L142.30,146.75 L142.35,146.40 L142.41,145.90 L142.46,145.27 L142.52,144.52 L142.57,143.69 L142.62,142.81 L142.68,141.91 L142.73,141.02 L142.79,140.18 L142.84,139.41 L142.89,138.74 L142.95,138.18 L143.00,137.74 L143.05,137.45 L143.11,137.29 L143.16,137.27 L143.22,137.39 L143.27,137.63 L143.32,138.01 L143.38,138.50 L143.43,139.11 L143.49,139.80 L143.54,140.57 L143.59,141.40 L143.65,142.25 L143.70,143.11 L143.76,143.94 L143.81,144.71 L143.86,145.40 L143.92,145.97 L143.97,146.41 L144.03,146.69 L144.08,146.81 L144.13,146.77 L144.19,146.56 L144.24,146.21 L144.29,145.73 L144.35,145.14 L144.40,144.46 L144.46,143.72 L144.51,142.93 L144.56,142.13 L144.62,141.34 L144.67,140.57 L144.73,139.84 L144.78,139.18 L144.83,138.59 L144.89,138.10 L144.94,137.72 L145.00,137.47 L145.05,137.36 L145.10,137.40 L145.16,137.59 L145.21,137.92 L145.27,138.40 L145.32,139.00 L145.37,139.71 L145.43,140.49 L145.48,141.33 L145.53,142.18 L145.59,143.01 L145.64,143.81 L145.70,144.53 L145.75,145.15 L145.80,145.67 L145.86,146.06 L145.91,146.32 L145.97,146.45 L146.02,146.44 L146.07,146.31 L146.13,146.05 L146.18,145.68 L146.24,145.20 L146.29,144.62 L146.34,143.96 L146.40,143.24 L146.45,142.46 L146.51,141.67 L146.56,140.87 L146.61,140.10 L146.67,139.39 L146.72,138.75 L146.78,138.23 L146.83,137.83 L146.88,137.57 L146.94,137.47 L146.99,137.53 L147.04,137.73 L147.10,138.08 L147.15,138.54 L147.21,139.12 L147.26,139.77 L147.31,140.48 L147.37,141.23 L147.42,141.98 L147.48,142.73 L147.53,143.45 L147.58,144.13 L147.64,144.74 L147.69,145.27 L147.75,145.71 L147.80,146.04 L147.85,146.25 L147.91,146.34 L147.96,146.29 L148.02,146.10 L148.07,145.77 L148.12,145.32 L148.18,144.75 L148.23,144.08 L148.28,143.34 L148.34,142.55 L148.39,141.75 L148.45,140.96 L148.50,140.22 L148.55,139.54 L148.61,138.96 L148.66,138.48 L148.72,138.13 L148.77,137.90 L148.82,137.80 L148.88,137.83 L148.93,137.97 L148.99,138.24 L149.04,138.61 L149.09,139.08 L149.15,139.63 L149.20,140.26 L149.26,140.94 L149.31,141.66 L149.36,142.41 L149.42,143.15 L149.47,143.86 L149.52,144.52 L149.58,145.10 L149.63,145.58 L149.69,145.95 L149.74,146.17 L149.79,146.26 L149.85,146.20 L149.90,145.99 L149.96,145.66 L150.01,145.20 L150.06,144.65 L150.12,144.02 L150.17,143.34 L150.23,142.63 L150.28,141.91 L150.33,141.21 L150.39,140.53 L150.44,139.91 L150.50,139.35 L150.55,138.87 L150.60,138.47 L150.66,138.18 L150.71,138.00 L150.77,137.94 L150.82,138.00 L150.87,138.20 L150.93,138.51 L150.98,138.95 L151.03,139.49 L151.09,140.12 L151.14,140.82 L151.20,141.56 L151.25,142.31 L151.30,143.05 L151.36,143.75 L151.41,144.38 L151.47,144.93 L151.52,145.36 L151.57,145.69 L151.63,145.89 L151.68,145.96 L151.74,145.92 L151.79,145.76 L151.84,145.49 L151.90,145.12 L151.95,144.67 L152.01,144.14 L152.06,143.54 L152.11,142.90 L152.17,142.22 L152.22,141.53 L152.27,140.84 L152.33,140.19 L152.38,139.58 L152.44,139.04 L152.49,138.60 L152.54,138.27 L152.60,138.07 L152.65,138.00 L152.71,138.07 L152.76,138.27 L152.81,138.60 L152.87,139.04 L152.92,139.57 L152.98,140.17 L153.03,140.82 L153.08,141.50 L153.14,142.18 L153.19,142.84 L153.25,143.47 L153.30,144.05 L153.35,144.56 L153.41,145.00 L153.46,145.35 L153.51,145.61 L153.57,145.76 L153.62,145.80 L153.68,145.72 L153.73,145.53 L153.78,145.22 L153.84,144.80 L153.89,144.29 L153.95,143.69 L154.00,143.04 L154.05,142.34 L154.11,141.63 L154.16,140.94 L154.22,140.29 L154.27,139.70 L154.32,139.19 L154.38,138.79 L154.43,138.49 L154.49,138.32 L154.54,138.26 L154.59,138.32 L154.65,138.49 L154.70,138.76 L154.75,139.12 L154.81,139.56 L154.86,140.08 L154.92,140.64 L154.97,141.25 L155.02,141.88 L155.08,142.53 L155.13,143.16 L155.19,143.77 L155.24,144.33 L155.29,144.82 L155.35,145.22 L155.40,145.52 L155.46,145.70 L155.51,145.76 L155.56,145.68 L155.62,145.48 L155.67,145.16 L155.73,144.74 L155.78,144.23 L155.83,143.66 L155.89,143.03 L155.94,142.39 L156.00,141.75 L156.05,141.12 L156.10,140.53 L156.16,139.99 L156.21,139.52 L156.26,139.13 L156.32,138.81 L156.37,138.59 L156.43,138.47 L156.48,138.45 L156.53,138.54 L156.59,138.73 L156.64,139.03 L156.70,139.43 L156.75,139.92 L156.80,140.48 L156.86,141.10 L156.91,141.75 L156.97,142.41 L157.02,143.06 L157.07,143.67 L157.13,144.22 L157.18,144.69 L157.24,145.07 L157.29,145.33 L157.34,145.49 L157.40,145.53 L157.45,145.46 L157.50,145.28 L157.56,145.01 L157.61,144.65 L157.67,144.22 L157.72,143.73 L157.77,143.19 L157.83,142.62 L157.88,142.02 L157.94,141.42 L157.99,140.83 L158.04,140.27 L158.10,139.76 L158.15,139.31 L158.21,138.95 L158.26,138.68 L158.31,138.52 L158.37,138.48 L158.42,138.56 L158.48,138.75 L158.53,139.06 L158.58,139.47 L158.64,139.95 L158.69,140.50 L158.74,141.10 L158.80,141.71 L158.85,142.32 L158.91,142.91 L158.96,143.46 L159.01,143.96 L159.07,144.39 L159.12,144.75 L159.18,145.03 L159.23,145.22 L159.28,145.32 L159.34,145.32 L159.39,145.22 L159.45,145.02 L159.50,144.73 L159.55,144.35 L159.61,143.89 L159.66,143.36 L159.72,142.78 L159.77,142.17 L159.82,141.55 L159.88,140.94 L159.93,140.37 L159.99,139.86 L160.04,139.42 L160.09,139.08 L160.15,138.83 L160.20,138.70 L160.25,138.67 L160.31,138.75 L160.36,138.94 L160.42,139.21 L160.47,139.56 L160.52,139.98 L160.58,140.45 L160.63,140.96 L160.69,141.51 L160.74,142.06 L160.79,142.62 L160.85,143.17 L160.90,143.68 L160.96,144.15 L161.01,144.56 L161.06,144.89 L161.12,145.13 L161.17,145.27 L161.23,145.30 L161.28,145.22 L161.33,145.03 L161.39,144.73 L161.44,144.34 L161.49,143.87 L161.55,143.35 L161.60,142.79 L161.66,142.21 L161.71,141.63 L161.76,141.07 L161.82,140.56 L161.87,140.09 L161.93,139.69 L161.98,139.37 L162.03,139.12 L162.09,138.96 L162.14,138.88 L162.20,138.90 L162.25,139.01 L162.30,139.20 L162.36,139.49 L162.41,139.85 L162.47,140.29 L162.52,140.79 L162.57,141.33 L162.63,141.90 L162.68,142.48 L162.73,143.05 L162.79,143.58 L162.84,144.06 L162.90,144.46 L162.95,144.78 L163.00,145.00 L163.06,145.12 L163.11,145.13 L163.17,145.05 L163.22,144.86 L163.27,144.59 L163.33,144.25 L163.38,143.84 L163.44,143.39 L163.49,142.90 L163.54,142.38 L163.60,141.86 L163.65,141.34 L163.71,140.84 L163.76,140.36 L163.81,139.93 L163.87,139.56 L163.92,139.27 L163.98,139.05 L164.03,138.93 L164.08,138.91 L164.14,139.00 L164.19,139.18 L164.24,139.47 L164.30,139.84 L164.35,140.29 L164.41,140.78 L164.46,141.32 L164.51,141.87 L164.57,142.42 L164.62,142.94 L164.68,143.42 L164.73,143.86 L164.78,144.22 L164.84,144.52 L164.89,144.74 L164.95,144.88 L165.00,144.93 L165.05,144.90 L165.11,144.78 L165.16,144.58 L165.22,144.31 L165.27,143.96 L165.32,143.54 L165.38,143.08 L165.43,142.57 L165.48,142.03 L165.54,141.49 L165.59,140.96 L165.65,140.47 L165.70,140.02 L165.75,139.65 L165.81,139.35 L165.86,139.15 L165.92,139.05 L165.97,139.05 L166.02,139.14 L166.08,139.33 L166.13,139.59 L166.19,139.93 L166.24,140.32 L166.29,140.76 L166.35,141.23 L166.40,141.71 L166.46,142.21 L166.51,142.69 L166.56,143.16 L166.62,143.59 L166.67,143.98 L166.72,144.32 L166.78,144.59 L166.83,144.78 L166.89,144.88 L166.94,144.89 L166.99,144.80 L167.05,144.62 L167.10,144.34 L167.16,143.99 L167.21,143.57 L167.26,143.09 L167.32,142.59 L167.37,142.06 L167.43,141.55 L167.48,141.06 L167.53,140.60 L167.59,140.20 L167.64,139.86 L167.70,139.59 L167.75,139.40 L167.80,139.28 L167.86,139.25 L167.91,139.29 L167.96,139.41 L168.02,139.61 L168.07,139.88 L168.13,140.22 L168.18,140.61 L168.23,141.05 L168.29,141.53 L168.34,142.03 L168.40,142.53 L168.45,143.02 L168.50,143.48 L168.56,143.90 L168.61,144.24 L168.67,144.51 L168.72,144.69 L168.77,144.78 L168.83,144.78 L168.88,144.68 L168.94,144.49 L168.99,144.23 L169.04,143.91 L169.10,143.53 L169.15,143.11 L169.21,142.66 L169.26,142.20 L169.31,141.74 L169.37,141.28 L169.42,140.85 L169.47,140.45 L169.53,140.10 L169.58,139.79 L169.64,139.55 L169.69,139.39 L169.74,139.30 L169.80,139.30 L169.85,139.39 L169.91,139.57 L169.96,139.83 L170.01,140.17 L170.07,140.57 L170.12,141.02 L170.18,141.50 L170.23,141.99 L170.28,142.48 L170.34,142.94 L170.39,143.37 L170.45,143.74 L170.50,144.06 L170.55,144.30 L170.61,144.47 L170.66,144.57 L170.71,144.59 L170.77,144.53 L170.82,144.40 L170.88,144.20 L170.93,143.94 L170.98,143.62 L171.04,143.25 L171.09,142.83 L171.15,142.38 L171.20,141.92 L171.25,141.45 L171.31,140.99 L171.36,140.57 L171.42,140.19 L171.47,139.87 L171.52,139.62 L171.58,139.45 L171.63,139.38 L171.69,139.39 L171.74,139.49 L171.79,139.67 L171.85,139.93 L171.90,140.25 L171.95,140.61 L172.01,141.01 L172.06,141.44 L172.12,141.88 L172.17,142.31 L172.22,142.74 L172.28,143.14 L172.33,143.50 L172.39,143.83 L172.44,144.10 L172.49,144.31 L172.55,144.46 L172.60,144.53 L172.66,144.52 L172.71,144.42 L172.76,144.25 L172.82,144.00 L172.87,143.68 L172.93,143.30 L172.98,142.88 L173.03,142.42 L173.09,141.96 L173.14,141.50 L173.20,141.06 L173.25,140.66 L173.30,140.31 L173.36,140.02 L173.41,139.80 L173.46,139.65 L173.52,139.57 L173.57,139.57 L173.63,139.63 L173.68,139.77 L173.73,139.97 L173.79,140.22 L173.84,140.53 L173.90,140.89 L173.95,141.28 L174.00,141.70 L174.06,142.13 L174.11,142.57 L174.17,142.99 L174.22,143.38 L174.27,143.73 L174.33,144.03 L174.38,144.26 L174.44,144.41 L174.49,144.47 L174.54,144.45 L174.60,144.35 L174.65,144.17 L174.70,143.92 L174.76,143.61 L174.81,143.26 L174.87,142.88 L174.92,142.47 L174.97,142.06 L175.03,141.64 L175.08,141.25 L175.14,140.88 L175.19,140.54 L175.24,140.25 L175.30,140.00 L175.35,139.81 L175.41,139.69 L175.46,139.63 L175.51,139.65 L175.57,139.75 L175.62,139.92 L175.68,140.16 L175.73,140.46 L175.78,140.82 L175.84,141.22 L175.89,141.65 L175.94,142.09 L176.00,142.52 L176.05,142.93 L176.11,143.30 L176.16,143.63 L176.21,143.89 L176.27,144.10 L176.32,144.23 L176.38,144.29 L176.43,144.29 L176.48,144.21 L176.54,144.07 L176.59,143.88 L176.65,143.63 L176.70,143.33 L176.75,142.99 L176.81,142.62 L176.86,142.23 L176.92,141.83 L176.97,141.42 L177.02,141.03 L177.08,140.67 L177.13,140.34 L177.18,140.07 L177.24,139.87 L177.29,139.73 L177.35,139.68 L177.40,139.70 L177.45,139.80 L177.51,139.98 L177.56,140.22 L177.62,140.51 L177.67,140.85 L177.72,141.22 L177.78,141.61 L177.83,142.00 L177.89,142.39 L177.94,142.76 L177.99,143.10 L178.05,143.41 L178.10,143.68 L178.16,143.90 L178.21,144.07 L178.26,144.17 L178.32,144.21 L178.37,144.19 L178.43,144.09 L178.48,143.93 L178.53,143.70 L178.59,143.41 L178.64,143.07 L178.69,142.69 L178.75,142.29 L178.80,141.88 L178.86,141.47 L178.91,141.09 L178.96,140.74 L179.02,140.43 L179.07,140.19 L179.13,140.00 L179.18,139.89 L179.23,139.84 L179.29,139.85 L179.34,139.93 L179.40,140.07 L179.45,140.27 L179.50,140.51 L179.56,140.80 L179.61,141.12 L179.67,141.47 L179.72,141.84 L179.77,142.21 L179.83,142.59 L179.88,142.95 L179.93,143.29 L179.99,143.58 L180.04,143.83 L180.10,144.02 L180.15,144.14 L180.20,144.18 L180.26,144.16 L180.31,144.05 L180.37,143.88 L180.42,143.65 L180.47,143.37 L180.53,143.04 L180.58,142.69 L180.64,142.32 L180.69,141.95 L180.74,141.58 L180.80,141.23 L180.85,140.91 L180.91,140.63 L180.96,140.39 L181.01,140.19 L181.07,140.04 L181.12,139.96 L181.17,139.93 L181.23,139.96 L181.28,140.06 L181.34,140.22 L181.39,140.44 L181.44,140.71 L181.50,141.03 L181.55,141.39 L181.61,141.77 L181.66,142.15 L181.71,142.53 L181.77,142.90 L181.82,143.22 L181.88,143.51 L181.93,143.73 L181.98,143.90 L182.04,144.01 L182.09,144.04 L182.15,144.02 L182.20,143.93 L182.25,143.79 L182.31,143.60 L182.36,143.36 L182.42,143.08 L182.47,142.78 L182.52,142.45 L182.58,142.10 L182.63,141.75 L182.68,141.40 L182.74,141.07 L182.79,140.76 L182.85,140.49 L182.90,140.26 L182.95,140.09 L183.01,139.99 L183.06,139.95 L183.12,139.98 L183.17,140.08 L183.22,140.25 L183.28,140.47 L183.33,140.75 L183.39,141.06 L183.44,141.39 L183.49,141.75 L183.55,142.10 L183.60,142.44 L183.66,142.77 L183.71,143.06 L183.76,143.33 L183.82,143.55 L183.87,143.72 L183.92,143.85 L183.98,143.92 L184.03,143.94 L184.09,143.90 L184.14,143.80 L184.19,143.64 L184.25,143.43 L184.30,143.17 L184.36,142.87 L184.41,142.53 L184.46,142.18 L184.52,141.82 L184.57,141.46 L184.63,141.12 L184.68,140.82 L184.73,140.56 L184.79,140.34 L184.84,140.19 L184.90,140.10 L184.95,140.07 L185.00,140.10 L185.06,140.19 L185.11,140.34 L185.16,140.53 L185.22,140.76 L185.27,141.02 L185.33,141.32 L185.38,141.63 L185.43,141.95 L185.49,142.28 L185.54,142.60 L185.60,142.91 L185.65,143.19 L185.70,143.44 L185.76,143.64 L185.81,143.80 L185.87,143.89 L185.92,143.92 L185.97,143.89 L186.03,143.79 L186.08,143.63 L186.14,143.41 L186.19,143.15 L186.24,142.85 L186.30,142.53 L186.35,142.20 L186.41,141.86 L186.46,141.54 L186.51,141.24 L186.57,140.96 L186.62,140.72 L186.67,140.52 L186.73,140.36 L186.78,140.25 L186.84,140.19 L186.89,140.19 L186.94,140.23 L187.00,140.34 L187.05,140.49 L187.11,140.69 L187.16,140.94 L187.21,141.22 L187.27,141.53 L187.32,141.87 L187.38,142.21 L187.43,142.54 L187.48,142.85 L187.54,143.14 L187.59,143.38 L187.65,143.58 L187.70,143.72 L187.75,143.80 L187.81,143.82 L187.86,143.78 L187.91,143.69 L187.97,143.55 L188.02,143.36 L188.08,143.13 L188.13,142.88 L188.18,142.60 L188.24,142.30 L188.29,142.00 L188.35,141.69 L188.40,141.40" fill="none" stroke="#109fd7" stroke-width="1.12" stroke-linejoin="round"/>
<path d="M59.05,127.1 V156.6 H189.55" fill="none" stroke="#2a2a2a" stroke-width="1"/>
<path d="M59.05,127.6 h2.3 M59.05,142.1 h2.3 M59.05,156.6 h2.3 M85.05,156.6 v-2.3 M111.05,156.6 v-2.3 M137.05,156.6 v-2.3 M163.05,156.6 v-2.3 M189.05,156.6 v-2.3 " fill="none" stroke="#2a2a2a" stroke-width="0.9"/>
<text transform="translate(56.0,131.7) scale(1.0,1.05)" font-size="12.5" text-anchor="end" >1.20</text>
<text transform="translate(56.0,146.2) scale(1.0,1.05)" font-size="12.5" text-anchor="end" >0.85</text>
<text transform="translate(56.0,160.7) scale(1.0,1.05)" font-size="12.5" text-anchor="end" >0.50</text>
<text transform="translate(67.3,124.3) scale(1.0,1.15)" font-size="13" text-anchor="start" >LPA<tspan dx="1.1">-</tspan><tspan dx="0.5" letter-spacing="-0.35">LPB</tspan><tspan dx="1.4"> torque</tspan></text>
<path d="M59.0,188.8 L59.5,188.8 L59.9,188.7 L60.3,188.7 L60.8,188.6 L61.2,188.6 L61.6,188.5 L62.1,188.5 L62.5,188.4 L62.9,188.4 L63.4,188.3 L63.8,188.3 L64.2,188.2 L64.7,188.2 L65.1,188.2 L65.5,188.1 L66.0,188.1 L66.4,188.0 L66.8,188.0 L67.3,187.9 L67.7,187.9 L68.1,187.8 L68.6,187.8 L69.0,187.7 L69.4,187.7 L69.9,187.6 L70.3,187.6 L70.7,187.5 L71.2,187.5 L71.6,187.5 L72.0,187.4 L72.5,187.4 L72.9,187.3 L73.3,187.3 L73.8,187.2 L74.2,187.2 L74.6,187.1 L75.1,187.1 L75.5,187.0 L75.9,187.0 L76.4,186.9 L76.8,186.9 L77.2,186.8 L77.7,186.8 L78.1,186.7 L78.5,186.7 L78.9,186.7 L79.4,186.6 L79.8,186.6 L80.2,186.5 L80.7,186.5 L81.1,186.4 L81.5,186.4 L82.0,186.3 L82.4,186.3 L82.8,186.2 L83.3,186.2 L83.7,186.1 L84.1,186.1 L84.6,186.0 L85.0,186.0 L85.4,185.9 L85.9,185.9 L86.3,185.8 L86.7,185.8 L87.2,185.7 L87.6,185.6 L88.0,185.6 L88.5,185.5 L88.9,185.4 L89.3,185.4 L89.8,185.3 L90.2,185.3 L90.6,185.2 L91.1,185.1 L91.5,185.1 L91.9,185.0 L92.4,185.0 L92.8,184.9 L93.2,184.8 L93.7,184.8 L94.1,184.7 L94.5,184.7 L95.0,184.6 L95.4,184.5 L95.8,184.5 L96.3,184.4 L96.7,184.3 L97.1,184.3 L97.6,184.2 L98.0,184.2 L98.4,184.1 L98.8,184.0 L99.3,183.9 L99.7,183.8 L100.1,183.7 L100.6,183.6 L101.0,183.5 L101.4,183.5 L101.9,183.4 L102.3,183.3 L102.7,183.2 L103.2,183.1 L103.6,183.0 L104.0,182.9 L104.5,182.8 L104.9,182.8 L105.3,182.7 L105.8,182.6 L106.2,182.5 L106.6,182.5 L107.1,182.4 L107.5,182.3 L107.9,182.3 L108.4,182.2 L108.8,182.1 L109.2,182.0 L109.7,182.0 L110.1,181.9 L110.5,181.8 L111.0,181.8 L111.4,181.9 L111.8,182.0 L112.3,182.1 L112.7,182.4 L113.1,182.7 L113.6,183.1 L114.0,183.4 L114.4,183.7 L114.9,184.1 L115.3,184.4 L115.7,184.7 L116.2,185.0 L116.6,185.2 L117.0,185.2 L117.5,185.3 L117.9,185.3 L118.3,185.4 L118.8,185.5 L119.2,185.5 L119.6,185.6 L120.0,185.6 L120.5,185.7 L120.9,185.7 L121.3,185.8 L121.8,185.8 L122.2,185.9 L122.6,185.9 L123.1,186.0 L123.5,186.0 L123.9,186.1 L124.4,186.1 L124.8,186.2 L125.2,186.2 L125.7,186.3 L126.1,186.3 L126.5,186.4 L127.0,186.4 L127.4,186.5 L127.8,186.5 L128.3,186.6 L128.7,186.6 L129.1,186.7 L129.6,186.7 L130.0,186.8 L130.4,186.8 L130.9,186.8 L131.3,186.9 L131.7,186.9 L132.2,187.0 L132.6,187.0 L133.0,187.1 L133.5,187.1 L133.9,187.1 L134.3,187.2 L134.8,187.2 L135.2,187.3 L135.6,187.3 L136.1,187.3 L136.5,187.4 L136.9,187.4 L137.4,187.4 L137.8,187.5 L138.2,187.5 L138.6,187.6 L139.1,187.6 L139.5,187.6 L139.9,187.7 L140.4,187.7 L140.8,187.7 L141.2,187.8 L141.7,187.8 L142.1,187.8 L142.5,187.9 L143.0,187.9 L143.4,187.9 L143.8,188.0 L144.3,188.0 L144.7,188.0 L145.1,188.1 L145.6,188.1 L146.0,188.1 L146.4,188.2 L146.9,188.2 L147.3,188.2 L147.7,188.3 L148.2,188.3 L148.6,188.3 L149.0,188.4 L149.5,188.4 L149.9,188.4 L150.3,188.4 L150.8,188.5 L151.2,188.5 L151.6,188.5 L152.1,188.6 L152.5,188.6 L152.9,188.6 L153.4,188.6 L153.8,188.7 L154.2,188.7 L154.7,188.7 L155.1,188.7 L155.5,188.8 L156.0,188.8 L156.4,188.8 L156.8,188.8 L157.3,188.9 L157.7,188.9 L158.1,188.9 L158.6,188.9 L159.0,189.0 L159.4,189.0 L159.8,189.0 L160.3,189.0 L160.7,189.1 L161.1,189.1 L161.6,189.1 L162.0,189.1 L162.4,189.2 L162.9,189.2 L163.3,189.2 L163.7,189.2 L164.2,189.2 L164.6,189.3 L165.0,189.3 L165.5,189.3 L165.9,189.3 L166.3,189.3 L166.8,189.4 L167.2,189.4 L167.6,189.4 L168.1,189.4 L168.5,189.4 L168.9,189.5 L169.4,189.5 L169.8,189.5 L170.2,189.5 L170.7,189.5 L171.1,189.6 L171.5,189.6 L172.0,189.6 L172.4,189.6 L172.8,189.6 L173.3,189.7 L173.7,189.7 L174.1,189.7 L174.6,189.7 L175.0,189.7 L175.4,189.7 L175.9,189.8 L176.3,189.8 L176.7,189.8 L177.2,189.8 L177.6,189.8 L178.0,189.8 L178.4,189.9 L178.9,189.9 L179.3,189.9 L179.7,189.9 L180.2,189.9 L180.6,189.9 L181.0,189.9 L181.5,190.0 L181.9,190.0 L182.3,190.0 L182.8,190.0 L183.2,190.0 L183.6,190.0 L184.1,190.1 L184.5,190.1 L184.9,190.1 L185.4,190.1 L185.8,190.1 L186.2,190.1 L186.7,190.1 L187.1,190.1 L187.5,190.2 L188.0,190.2 L188.4,190.2 L188.4,193.0 L188.0,193.0 L187.5,193.0 L187.1,193.1 L186.7,193.1 L186.2,193.1 L185.8,193.1 L185.4,193.1 L184.9,193.1 L184.5,193.1 L184.1,193.1 L183.6,193.2 L183.2,193.2 L182.8,193.2 L182.3,193.2 L181.9,193.2 L181.5,193.2 L181.0,193.3 L180.6,193.3 L180.2,193.3 L179.7,193.3 L179.3,193.3 L178.9,193.3 L178.4,193.3 L178.0,193.4 L177.6,193.4 L177.2,193.4 L176.7,193.4 L176.3,193.4 L175.9,193.4 L175.4,193.5 L175.0,193.5 L174.6,193.5 L174.1,193.5 L173.7,193.5 L173.3,193.5 L172.8,193.6 L172.4,193.6 L172.0,193.6 L171.5,193.6 L171.1,193.6 L170.7,193.7 L170.2,193.7 L169.8,193.7 L169.4,193.7 L168.9,193.7 L168.5,193.8 L168.1,193.8 L167.6,193.8 L167.2,193.8 L166.8,193.8 L166.3,193.9 L165.9,193.9 L165.5,193.9 L165.0,193.9 L164.6,193.9 L164.2,194.0 L163.7,194.0 L163.3,194.0 L162.9,194.0 L162.4,194.0 L162.0,194.1 L161.6,194.1 L161.1,194.1 L160.7,194.1 L160.3,194.2 L159.8,194.2 L159.4,194.2 L159.0,194.2 L158.6,194.3 L158.1,194.3 L157.7,194.3 L157.3,194.3 L156.8,194.4 L156.4,194.4 L156.0,194.4 L155.5,194.4 L155.1,194.5 L154.7,194.5 L154.2,194.5 L153.8,194.5 L153.4,194.6 L152.9,194.6 L152.5,194.6 L152.1,194.6 L151.6,194.7 L151.2,194.7 L150.8,194.7 L150.3,194.8 L149.9,194.8 L149.5,194.8 L149.0,194.8 L148.6,194.9 L148.2,194.9 L147.7,194.9 L147.3,195.0 L146.9,195.0 L146.4,195.0 L146.0,195.1 L145.6,195.1 L145.1,195.1 L144.7,195.2 L144.3,195.2 L143.8,195.2 L143.4,195.3 L143.0,195.3 L142.5,195.3 L142.1,195.4 L141.7,195.4 L141.2,195.4 L140.8,195.5 L140.4,195.5 L139.9,195.5 L139.5,195.6 L139.1,195.6 L138.6,195.6 L138.2,195.7 L137.8,195.7 L137.4,195.8 L136.9,195.8 L136.5,195.8 L136.1,195.9 L135.6,195.9 L135.2,195.9 L134.8,196.0 L134.3,196.0 L133.9,196.1 L133.5,196.1 L133.0,196.1 L132.6,196.2 L132.2,196.2 L131.7,196.3 L131.3,196.3 L130.9,196.4 L130.4,196.4 L130.0,196.4 L129.6,196.5 L129.1,196.5 L128.7,196.6 L128.3,196.6 L127.8,196.7 L127.4,196.7 L127.0,196.8 L126.5,196.8 L126.1,196.9 L125.7,196.9 L125.2,197.0 L124.8,197.0 L124.4,197.1 L123.9,197.1 L123.5,197.2 L123.1,197.2 L122.6,197.3 L122.2,197.3 L121.8,197.4 L121.3,197.4 L120.9,197.5 L120.5,197.5 L120.0,197.6 L119.6,197.6 L119.2,197.7 L118.8,197.7 L118.3,197.8 L117.9,197.9 L117.5,197.9 L117.0,198.0 L116.6,198.0 L116.2,198.2 L115.7,198.5 L115.3,198.8 L114.9,199.1 L114.4,199.5 L114.0,199.8 L113.6,200.1 L113.1,200.5 L112.7,200.8 L112.3,201.1 L111.8,201.2 L111.4,201.3 L111.0,201.4 L110.5,201.4 L110.1,201.3 L109.7,201.2 L109.2,201.2 L108.8,201.1 L108.4,201.0 L107.9,200.9 L107.5,200.9 L107.1,200.8 L106.6,200.7 L106.2,200.7 L105.8,200.6 L105.3,200.5 L104.9,200.4 L104.5,200.4 L104.0,200.3 L103.6,200.2 L103.2,200.1 L102.7,200.0 L102.3,199.9 L101.9,199.8 L101.4,199.7 L101.0,199.7 L100.6,199.6 L100.1,199.5 L99.7,199.4 L99.3,199.3 L98.8,199.2 L98.4,199.1 L98.0,199.0 L97.6,199.0 L97.1,198.9 L96.7,198.9 L96.3,198.8 L95.8,198.7 L95.4,198.7 L95.0,198.6 L94.5,198.5 L94.1,198.5 L93.7,198.4 L93.2,198.4 L92.8,198.3 L92.4,198.2 L91.9,198.2 L91.5,198.1 L91.1,198.1 L90.6,198.0 L90.2,197.9 L89.8,197.9 L89.3,197.8 L88.9,197.8 L88.5,197.7 L88.0,197.6 L87.6,197.6 L87.2,197.5 L86.7,197.4 L86.3,197.4 L85.9,197.3 L85.4,197.3 L85.0,197.2 L84.6,197.2 L84.1,197.1 L83.7,197.1 L83.3,197.0 L82.8,197.0 L82.4,196.9 L82.0,196.9 L81.5,196.8 L81.1,196.8 L80.7,196.7 L80.2,196.7 L79.8,196.6 L79.4,196.6 L78.9,196.5 L78.5,196.5 L78.1,196.5 L77.7,196.4 L77.2,196.4 L76.8,196.3 L76.4,196.3 L75.9,196.2 L75.5,196.2 L75.1,196.1 L74.6,196.1 L74.2,196.0 L73.8,196.0 L73.3,195.9 L72.9,195.9 L72.5,195.8 L72.0,195.8 L71.6,195.7 L71.2,195.7 L70.7,195.7 L70.3,195.6 L69.9,195.6 L69.4,195.5 L69.0,195.5 L68.6,195.4 L68.1,195.4 L67.7,195.3 L67.3,195.3 L66.8,195.2 L66.4,195.2 L66.0,195.1 L65.5,195.1 L65.1,195.0 L64.7,195.0 L64.2,195.0 L63.8,194.9 L63.4,194.9 L62.9,194.8 L62.5,194.8 L62.1,194.7 L61.6,194.7 L61.2,194.6 L60.8,194.6 L60.3,194.5 L59.9,194.5 L59.5,194.4 L59.0,194.4Z" fill="#109fd7" fill-opacity="0.42" stroke="none"/>
<path d="M59.05,191.78 L59.10,191.27 L59.16,190.73 L59.21,190.19 L59.27,189.66 L59.32,189.17 L59.37,188.75 L59.43,188.42 L59.48,188.21 L59.54,188.14 L59.59,188.21 L59.64,188.42 L59.70,188.75 L59.75,189.20 L59.80,189.72 L59.86,190.30 L59.91,190.89 L59.97,191.48 L60.02,192.05 L60.07,192.57 L60.13,193.03 L60.18,193.45 L60.24,193.81 L60.29,194.12 L60.34,194.37 L60.40,194.57 L60.45,194.71 L60.51,194.78 L60.56,194.77 L60.61,194.67 L60.67,194.46 L60.72,194.13 L60.78,193.70 L60.83,193.16 L60.88,192.54 L60.94,191.86 L60.99,191.15 L61.04,190.46 L61.10,189.81 L61.15,189.24 L61.21,188.77 L61.26,188.43 L61.31,188.22 L61.37,188.14 L61.42,188.18 L61.48,188.32 L61.53,188.55 L61.58,188.85 L61.64,189.20 L61.69,189.59 L61.75,190.02 L61.80,190.49 L61.85,190.98 L61.91,191.51 L61.96,192.07 L62.02,192.64 L62.07,193.22 L62.12,193.78 L62.18,194.31 L62.23,194.76 L62.29,195.11 L62.34,195.34 L62.39,195.42 L62.45,195.35 L62.50,195.12 L62.55,194.75 L62.61,194.25 L62.66,193.66 L62.72,193.01 L62.77,192.33 L62.82,191.65 L62.88,191.01 L62.93,190.42 L62.99,189.90 L63.04,189.44 L63.09,189.06 L63.15,188.74 L63.20,188.49 L63.26,188.30 L63.31,188.18 L63.36,188.13 L63.42,188.16 L63.47,188.29 L63.53,188.53 L63.58,188.89 L63.63,189.36 L63.69,189.94 L63.74,190.62 L63.79,191.36 L63.85,192.13 L63.90,192.90 L63.96,193.61 L64.01,194.25 L64.06,194.77 L64.12,195.15 L64.17,195.39 L64.23,195.47 L64.28,195.42 L64.33,195.24 L64.39,194.96 L64.44,194.60 L64.50,194.18 L64.55,193.72 L64.60,193.22 L64.66,192.69 L64.71,192.15 L64.77,191.57 L64.82,190.98 L64.87,190.37 L64.93,189.76 L64.98,189.17 L65.03,188.62 L65.09,188.14 L65.14,187.76 L65.20,187.52 L65.25,187.43 L65.30,187.50 L65.36,187.75 L65.41,188.16 L65.47,188.70 L65.52,189.36 L65.57,190.09 L65.63,190.86 L65.68,191.62 L65.74,192.34 L65.79,193.01 L65.84,193.59 L65.90,194.09 L65.95,194.50 L66.01,194.82 L66.06,195.07 L66.11,195.24 L66.17,195.34 L66.22,195.36 L66.28,195.29 L66.33,195.13 L66.38,194.85 L66.44,194.46 L66.49,193.95 L66.54,193.33 L66.60,192.61 L66.65,191.81 L66.71,190.98 L66.76,190.15 L66.81,189.36 L66.87,188.66 L66.92,188.09 L66.98,187.66 L67.03,187.40 L67.08,187.31 L67.14,187.38 L67.19,187.59 L67.25,187.92 L67.30,188.35 L67.35,188.84 L67.41,189.38 L67.46,189.95 L67.52,190.54 L67.57,191.15 L67.62,191.77 L67.68,192.41 L67.73,193.05 L67.78,193.68 L67.84,194.30 L67.89,194.87 L67.95,195.36 L68.00,195.76 L68.05,196.01 L68.11,196.11 L68.16,196.03 L68.22,195.77 L68.27,195.33 L68.32,194.73 L68.38,194.01 L68.43,193.20 L68.49,192.35 L68.54,191.50 L68.59,190.69 L68.65,189.95 L68.70,189.31 L68.76,188.76 L68.81,188.33 L68.86,187.99 L68.92,187.75 L68.97,187.61 L69.02,187.54 L69.08,187.56 L69.13,187.67 L69.19,187.87 L69.24,188.18 L69.29,188.61 L69.35,189.16 L69.40,189.82 L69.46,190.59 L69.51,191.43 L69.56,192.32 L69.62,193.21 L69.67,194.06 L69.73,194.82 L69.78,195.45 L69.83,195.92 L69.89,196.21 L69.94,196.31 L70.00,196.23 L70.05,195.98 L70.10,195.60 L70.16,195.10 L70.21,194.53 L70.27,193.91 L70.32,193.26 L70.37,192.60 L70.43,191.93 L70.48,191.25 L70.53,190.58 L70.59,189.91 L70.64,189.26 L70.70,188.63 L70.75,188.05 L70.80,187.54 L70.86,187.14 L70.91,186.87 L70.97,186.77 L71.02,186.85 L71.07,187.13 L71.13,187.60 L71.18,188.24 L71.24,189.02 L71.29,189.90 L71.34,190.84 L71.40,191.78 L71.45,192.67 L71.51,193.49 L71.56,194.21 L71.61,194.80 L71.67,195.27 L71.72,195.61 L71.77,195.84 L71.83,195.96 L71.88,195.99 L71.94,195.92 L71.99,195.77 L72.04,195.51 L72.10,195.16 L72.15,194.69 L72.21,194.10 L72.26,193.40 L72.31,192.60 L72.37,191.71 L72.42,190.77 L72.48,189.82 L72.53,188.91 L72.58,188.09 L72.64,187.41 L72.69,186.90 L72.75,186.58 L72.80,186.47 L72.85,186.56 L72.91,186.84 L72.96,187.28 L73.01,187.84 L73.07,188.49 L73.12,189.20 L73.18,189.94 L73.23,190.68 L73.28,191.42 L73.34,192.14 L73.39,192.86 L73.45,193.55 L73.50,194.22 L73.55,194.86 L73.61,195.45 L73.66,195.96 L73.72,196.37 L73.77,196.63 L73.82,196.73 L73.88,196.64 L73.93,196.35 L73.99,195.85 L74.04,195.17 L74.09,194.33 L74.15,193.38 L74.20,192.37 L74.25,191.34 L74.31,190.36 L74.36,189.45 L74.42,188.67 L74.47,188.02 L74.52,187.53 L74.58,187.17 L74.63,186.96 L74.69,186.86 L74.74,186.88 L74.79,187.00 L74.85,187.21 L74.90,187.51 L74.96,187.92 L75.01,188.43 L75.06,189.06 L75.12,189.80 L75.17,190.65 L75.23,191.58 L75.28,192.56 L75.33,193.56 L75.39,194.51 L75.44,195.39 L75.50,196.12 L75.55,196.68 L75.60,197.02 L75.66,197.14 L75.71,197.04 L75.76,196.73 L75.82,196.24 L75.87,195.61 L75.93,194.88 L75.98,194.08 L76.03,193.26 L76.09,192.43 L76.14,191.62 L76.20,190.83 L76.25,190.08 L76.30,189.36 L76.36,188.67 L76.41,188.03 L76.47,187.44 L76.52,186.93 L76.57,186.54 L76.63,186.27 L76.68,186.18 L76.74,186.28 L76.79,186.59 L76.84,187.12 L76.90,187.84 L76.95,188.72 L77.00,189.74 L77.06,190.83 L77.11,191.94 L77.17,193.02 L77.22,194.00 L77.27,194.86 L77.33,195.56 L77.38,196.09 L77.44,196.46 L77.49,196.67 L77.54,196.73 L77.60,196.66 L77.65,196.49 L77.71,196.22 L77.76,195.85 L77.81,195.38 L77.87,194.81 L77.92,194.14 L77.98,193.36 L78.03,192.48 L78.08,191.51 L78.14,190.49 L78.19,189.46 L78.24,188.45 L78.30,187.54 L78.35,186.76 L78.41,186.16 L78.46,185.79 L78.51,185.65 L78.57,185.76 L78.62,186.09 L78.68,186.63 L78.73,187.33 L78.78,188.15 L78.84,189.04 L78.89,189.96 L78.95,190.87 L79.00,191.76 L79.05,192.61 L79.11,193.41 L79.16,194.16 L79.22,194.86 L79.27,195.51 L79.32,196.08 L79.38,196.58 L79.43,196.96 L79.49,197.21 L79.54,197.28 L79.59,197.17 L79.65,196.84 L79.70,196.29 L79.75,195.54 L79.81,194.60 L79.86,193.53 L79.92,192.36 L79.97,191.17 L80.02,190.01 L80.08,188.94 L80.13,188.01 L80.19,187.25 L80.24,186.68 L80.29,186.30 L80.35,186.10 L80.40,186.07 L80.46,186.18 L80.51,186.42 L80.56,186.76 L80.62,187.20 L80.67,187.73 L80.73,188.36 L80.78,189.08 L80.83,189.91 L80.89,190.82 L80.94,191.82 L80.99,192.87 L81.05,193.94 L81.10,194.98 L81.16,195.94 L81.21,196.76 L81.26,197.39 L81.32,197.80 L81.37,197.95 L81.43,197.84 L81.48,197.48 L81.53,196.90 L81.59,196.13 L81.64,195.23 L81.70,194.25 L81.75,193.23 L81.80,192.22 L81.86,191.24 L81.91,190.32 L81.97,189.47 L82.02,188.69 L82.07,187.98 L82.13,187.34 L82.18,186.78 L82.23,186.31 L82.29,185.95 L82.34,185.72 L82.40,185.67 L82.45,185.80 L82.50,186.15 L82.56,186.72 L82.61,187.51 L82.67,188.49 L82.72,189.62 L82.77,190.85 L82.83,192.12 L82.88,193.36 L82.94,194.51 L82.99,195.52 L83.04,196.34 L83.10,196.96 L83.15,197.36 L83.21,197.55 L83.26,197.55 L83.31,197.39 L83.37,197.08 L83.42,196.66 L83.47,196.14 L83.53,195.54 L83.58,194.84 L83.64,194.06 L83.69,193.20 L83.74,192.25 L83.80,191.22 L83.85,190.14 L83.91,189.05 L83.96,187.98 L84.01,186.99 L84.07,186.13 L84.12,185.47 L84.18,185.04 L84.23,184.87 L84.28,184.98 L84.34,185.36 L84.39,185.98 L84.45,186.81 L84.50,187.80 L84.55,188.87 L84.61,189.99 L84.66,191.10 L84.72,192.17 L84.77,193.16 L84.82,194.07 L84.88,194.88 L84.93,195.60 L84.98,196.24 L85.04,196.78 L85.09,197.22 L85.15,197.55 L85.20,197.74 L85.25,197.77 L85.31,197.61 L85.36,197.24 L85.42,196.65 L85.47,195.83 L85.52,194.81 L85.58,193.63 L85.63,192.33 L85.69,190.98 L85.74,189.66 L85.79,188.42 L85.85,187.33 L85.90,186.44 L85.96,185.77 L86.01,185.35 L86.06,185.16 L86.12,185.18 L86.17,185.40 L86.22,185.77 L86.28,186.28 L86.33,186.88 L86.39,187.58 L86.44,188.35 L86.49,189.19 L86.55,190.12 L86.60,191.11 L86.66,192.18 L86.71,193.29 L86.76,194.41 L86.82,195.51 L86.87,196.54 L86.93,197.43 L86.98,198.13 L87.03,198.59 L87.09,198.78 L87.14,198.67 L87.20,198.27 L87.25,197.60 L87.30,196.70 L87.36,195.63 L87.41,194.45 L87.46,193.21 L87.52,191.98 L87.57,190.81 L87.63,189.72 L87.68,188.74 L87.73,187.87 L87.79,187.12 L87.84,186.49 L87.90,185.96 L87.95,185.55 L88.00,185.25 L88.06,185.10 L88.11,185.11 L88.17,185.30 L88.22,185.71 L88.27,186.34 L88.33,187.20 L88.38,188.27 L88.44,189.52 L88.49,190.89 L88.54,192.33 L88.60,193.75 L88.65,195.08 L88.71,196.27 L88.76,197.24 L88.81,197.96 L88.87,198.42 L88.92,198.61 L88.97,198.56 L89.03,198.29 L89.08,197.84 L89.14,197.24 L89.19,196.53 L89.24,195.73 L89.30,194.87 L89.35,193.94 L89.41,192.94 L89.46,191.89 L89.51,190.79 L89.57,189.64 L89.62,188.49 L89.68,187.36 L89.73,186.30 L89.78,185.38 L89.84,184.65 L89.89,184.17 L89.95,183.96 L90.00,184.07 L90.05,184.49 L90.11,185.20 L90.16,186.17 L90.21,187.33 L90.27,188.63 L90.32,189.99 L90.38,191.34 L90.43,192.63 L90.48,193.82 L90.54,194.88 L90.59,195.80 L90.65,196.58 L90.70,197.22 L90.75,197.72 L90.81,198.10 L90.86,198.35 L90.92,198.45 L90.97,198.40 L91.02,198.15 L91.08,197.70 L91.13,197.03 L91.19,196.13 L91.24,195.01 L91.29,193.71 L91.35,192.26 L91.40,190.75 L91.45,189.24 L91.51,187.81 L91.56,186.54 L91.62,185.49 L91.67,184.70 L91.72,184.21 L91.78,184.01 L91.83,184.09 L91.89,184.41 L91.94,184.95 L91.99,185.64 L92.05,186.46 L92.10,187.37 L92.16,188.34 L92.21,189.36 L92.26,190.43 L92.32,191.54 L92.37,192.69 L92.43,193.86 L92.48,195.04 L92.53,196.19 L92.59,197.26 L92.64,198.20 L92.70,198.95 L92.75,199.46 L92.80,199.67 L92.86,199.57 L92.91,199.13 L92.96,198.38 L93.02,197.35 L93.07,196.10 L93.13,194.69 L93.18,193.22 L93.23,191.74 L93.29,190.32 L93.34,189.02 L93.40,187.87 L93.45,186.90 L93.50,186.09 L93.56,185.45 L93.61,184.97 L93.67,184.63 L93.72,184.44 L93.77,184.40 L93.83,184.52 L93.88,184.81 L93.94,185.32 L93.99,186.04 L94.04,186.98 L94.10,188.14 L94.15,189.50 L94.20,191.00 L94.26,192.58 L94.31,194.17 L94.37,195.68 L94.42,197.04 L94.47,198.17 L94.53,199.02 L94.58,199.56 L94.64,199.77 L94.69,199.67 L94.74,199.29 L94.80,198.68 L94.85,197.88 L94.91,196.95 L94.96,195.92 L95.01,194.84 L95.07,193.71 L95.12,192.56 L95.18,191.39 L95.23,190.20 L95.28,189.00 L95.34,187.80 L95.39,186.65 L95.44,185.57 L95.50,184.62 L95.55,183.85 L95.61,183.34 L95.66,183.12 L95.71,183.22 L95.77,183.68 L95.82,184.46 L95.88,185.55 L95.93,186.88 L95.98,188.39 L96.04,189.98 L96.09,191.59 L96.15,193.13 L96.20,194.54 L96.25,195.78 L96.31,196.83 L96.36,197.67 L96.42,198.31 L96.47,198.77 L96.52,199.06 L96.58,199.18 L96.63,199.15 L96.68,198.96 L96.74,198.60 L96.79,198.04 L96.85,197.26 L96.90,196.27 L96.95,195.07 L97.01,193.66 L97.06,192.11 L97.12,190.47 L97.17,188.81 L97.22,187.22 L97.28,185.78 L97.33,184.57 L97.39,183.66 L97.44,183.08 L97.49,182.85 L97.55,182.97 L97.60,183.39 L97.66,184.08 L97.71,184.99 L97.76,186.04 L97.82,187.19 L97.87,188.40 L97.93,189.63 L97.98,190.87 L98.03,192.12 L98.09,193.35 L98.14,194.58 L98.19,195.79 L98.25,196.95 L98.30,198.04 L98.36,198.99 L98.41,199.75 L98.46,200.28 L98.52,200.51 L98.57,200.40 L98.63,199.93 L98.68,199.11 L98.73,197.97 L98.79,196.56 L98.84,194.95 L98.90,193.23 L98.95,191.49 L99.00,189.81 L99.06,188.27 L99.11,186.91 L99.17,185.78 L99.22,184.89 L99.27,184.23 L99.33,183.79 L99.38,183.55 L99.43,183.48 L99.49,183.59 L99.54,183.87 L99.60,184.32 L99.65,184.95 L99.70,185.79 L99.76,186.85 L99.81,188.11 L99.87,189.58 L99.92,191.20 L99.97,192.92 L100.03,194.67 L100.08,196.36 L100.14,197.90 L100.19,199.21 L100.24,200.20 L100.30,200.84 L100.35,201.10 L100.41,200.97 L100.46,200.50 L100.51,199.72 L100.57,198.70 L100.62,197.50 L100.67,196.20 L100.73,194.83 L100.78,193.45 L100.84,192.07 L100.89,190.72 L100.94,189.40 L101.00,188.12 L101.05,186.87 L101.11,185.69 L101.16,184.60 L101.21,183.64 L101.27,182.87 L101.32,182.34 L101.38,182.12 L101.43,182.24 L101.48,182.73 L101.54,183.60 L101.59,184.82 L101.65,186.33 L101.70,188.07 L101.75,189.94 L101.81,191.84 L101.86,193.69 L101.92,195.39 L101.97,196.88 L102.02,198.11 L102.08,199.07 L102.13,199.76 L102.18,200.19 L102.24,200.38 L102.29,200.36 L102.35,200.16 L102.40,199.78 L102.45,199.23 L102.51,198.49 L102.56,197.56 L102.62,196.43 L102.67,195.09 L102.72,193.55 L102.78,191.85 L102.83,190.05 L102.89,188.21 L102.94,186.42 L102.99,184.78 L103.05,183.38 L103.10,182.30 L103.16,181.61 L103.21,181.32 L103.26,181.45 L103.32,181.98 L103.37,182.85 L103.42,183.99 L103.48,185.34 L103.53,186.82 L103.59,188.35 L103.64,189.90 L103.69,191.41 L103.75,192.88 L103.80,194.29 L103.86,195.63 L103.91,196.90 L103.96,198.10 L104.02,199.19 L104.07,200.14 L104.13,200.90 L104.18,201.41 L104.23,201.62 L104.29,201.48 L104.34,200.96 L104.40,200.05 L104.45,198.76 L104.50,197.16 L104.56,195.30 L104.61,193.28 L104.66,191.22 L104.72,189.21 L104.77,187.36 L104.83,185.73 L104.88,184.39 L104.93,183.36 L104.99,182.64 L105.04,182.23 L105.10,182.09 L105.15,182.19 L105.20,182.50 L105.26,183.00 L105.31,183.67 L105.37,184.52 L105.42,185.55 L105.47,186.77 L105.53,188.19 L105.58,189.79 L105.64,191.54 L105.69,193.41 L105.74,195.32 L105.80,197.17 L105.85,198.89 L105.91,200.37 L105.96,201.51 L106.01,202.26 L106.07,202.57 L106.12,202.43 L106.17,201.87 L106.23,200.92 L106.28,199.65 L106.34,198.16 L106.39,196.53 L106.44,194.82 L106.50,193.12 L106.55,191.47 L106.61,189.89 L106.66,188.40 L106.71,187.02 L106.77,185.73 L106.82,184.54 L106.88,183.48 L106.93,182.56 L106.98,181.84 L107.04,181.36 L107.09,181.18 L107.15,181.35 L107.20,181.90 L107.25,182.85 L107.31,184.18 L107.36,185.86 L107.41,187.80 L107.47,189.93 L107.52,192.11 L107.58,194.26 L107.63,196.25 L107.68,198.00 L107.74,199.44 L107.79,200.54 L107.85,201.28 L107.90,201.68 L107.95,201.76 L108.01,201.58 L108.06,201.16 L108.12,200.54 L108.17,199.74 L108.22,198.78 L108.28,197.64 L108.33,196.34 L108.39,194.86 L108.44,193.21 L108.49,191.41 L108.55,189.51 L108.60,187.57 L108.65,185.66 L108.71,183.89 L108.76,182.36 L108.82,181.16 L108.87,180.36 L108.92,180.02 L108.98,180.16 L109.03,180.76 L109.09,181.77 L109.14,183.14 L109.19,184.76 L109.25,186.55 L109.30,188.41 L109.36,190.27 L109.41,192.07 L109.46,193.76 L109.52,195.33 L109.57,196.77 L109.63,198.07 L109.68,199.24 L109.73,200.27 L109.79,201.13 L109.84,201.80 L109.89,202.23 L109.95,202.37 L110.00,202.17 L110.06,201.59 L110.11,200.60 L110.16,199.23 L110.22,197.49 L110.27,195.47 L110.33,193.25 L110.38,190.95 L110.43,188.68 L110.49,186.55 L110.54,184.68 L110.60,183.13 L110.65,181.96 L110.70,181.19 L110.76,180.80 L110.81,180.76 L110.87,181.04 L110.92,181.57 L110.97,182.34 L111.03,183.29 L111.08,184.39 L111.14,185.64 L111.19,187.04 L111.24,188.58 L111.30,190.26 L111.35,192.07 L111.40,193.96 L111.46,195.89 L111.51,197.77 L111.57,199.52 L111.62,201.04 L111.67,202.23 L111.73,203.02 L111.78,203.35 L111.84,203.20 L111.89,202.57 L111.94,201.51 L112.00,200.09 L112.05,198.40 L112.11,196.54 L112.16,194.60 L112.21,192.67 L112.27,190.83 L112.32,189.12 L112.38,187.58 L112.43,186.22 L112.48,185.03 L112.54,184.00 L112.59,183.14 L112.64,182.45 L112.70,181.95 L112.75,181.67 L112.81,181.65 L112.86,181.93 L112.91,182.53 L112.97,183.48 L113.02,184.77 L113.08,186.36 L113.13,188.20 L113.18,190.21 L113.24,192.29 L113.29,194.32 L113.35,196.21 L113.40,197.87 L113.45,199.22 L113.51,200.22 L113.56,200.84 L113.62,201.11 L113.67,201.05 L113.72,200.70 L113.78,200.12 L113.83,199.36 L113.88,198.45 L113.94,197.43 L113.99,196.31 L114.05,195.10 L114.10,193.80 L114.15,192.42 L114.21,190.97 L114.26,189.47 L114.32,187.96 L114.37,186.50 L114.42,185.15 L114.48,183.98 L114.53,183.07 L114.59,182.47 L114.64,182.24 L114.69,182.39 L114.75,182.91 L114.80,183.78 L114.86,184.94 L114.91,186.32 L114.96,187.83 L115.02,189.40 L115.07,190.95 L115.13,192.42 L115.18,193.76 L115.23,194.96 L115.29,196.00 L115.34,196.87 L115.39,197.60 L115.45,198.19 L115.50,198.64 L115.56,198.94 L115.61,199.08 L115.66,199.04 L115.72,198.79 L115.77,198.30 L115.83,197.58 L115.88,196.61 L115.93,195.43 L115.99,194.06 L116.04,192.56 L116.10,191.01 L116.15,189.48 L116.20,188.06 L116.26,186.81 L116.31,185.76 L116.37,184.97 L116.42,184.47 L116.47,184.24 L116.53,184.29 L116.58,184.57 L116.63,185.04 L116.69,185.66 L116.74,186.41 L116.80,187.24 L116.85,188.14 L116.90,189.10 L116.96,190.12 L117.01,191.19 L117.07,192.31 L117.12,193.46 L117.17,194.62 L117.23,195.76 L117.28,196.82 L117.34,197.76 L117.39,198.50 L117.44,199.01 L117.50,199.23 L117.55,199.15 L117.61,198.76 L117.66,198.07 L117.71,197.13 L117.77,195.98 L117.82,194.70 L117.87,193.36 L117.93,192.01 L117.98,190.73 L118.04,189.54 L118.09,188.49 L118.14,187.58 L118.20,186.82 L118.25,186.20 L118.31,185.72 L118.36,185.36 L118.41,185.13 L118.47,185.03 L118.52,185.09 L118.58,185.31 L118.63,185.73 L118.68,186.36 L118.74,187.20 L118.79,188.24 L118.85,189.45 L118.90,190.80 L118.95,192.22 L119.01,193.64 L119.06,194.98 L119.11,196.19 L119.17,197.19 L119.22,197.94 L119.28,198.43 L119.33,198.63 L119.38,198.58 L119.44,198.29 L119.49,197.80 L119.55,197.15 L119.60,196.40 L119.65,195.56 L119.71,194.67 L119.76,193.73 L119.82,192.76 L119.87,191.76 L119.92,190.73 L119.98,189.68 L120.03,188.63 L120.09,187.61 L120.14,186.65 L120.19,185.81 L120.25,185.13 L120.30,184.67 L120.36,184.46 L120.41,184.53 L120.46,184.89 L120.52,185.53 L120.57,186.42 L120.62,187.51 L120.68,188.73 L120.73,190.03 L120.79,191.33 L120.84,192.57 L120.89,193.71 L120.95,194.72 L121.00,195.58 L121.06,196.29 L121.11,196.84 L121.16,197.25 L121.22,197.54 L121.27,197.69 L121.33,197.73 L121.38,197.62 L121.43,197.37 L121.49,196.96 L121.54,196.36 L121.60,195.58 L121.65,194.62 L121.70,193.50 L121.76,192.26 L121.81,190.95 L121.86,189.63 L121.92,188.36 L121.97,187.22 L122.03,186.27 L122.08,185.55 L122.13,185.08 L122.19,184.89 L122.24,184.95 L122.30,185.25 L122.35,185.74 L122.40,186.40 L122.46,187.16 L122.51,188.00 L122.57,188.89 L122.62,189.80 L122.67,190.73 L122.73,191.67 L122.78,192.62 L122.84,193.58 L122.89,194.52 L122.94,195.44 L123.00,196.29 L123.05,197.04 L123.10,197.65 L123.16,198.07 L123.21,198.26 L123.27,198.20 L123.32,197.87 L123.37,197.27 L123.43,196.44 L123.48,195.41 L123.54,194.25 L123.59,193.01 L123.64,191.76 L123.70,190.56 L123.75,189.45 L123.81,188.48 L123.86,187.67 L123.91,187.01 L123.97,186.51 L124.02,186.16 L124.08,185.95 L124.13,185.85 L124.18,185.88 L124.24,186.03 L124.29,186.30 L124.35,186.72 L124.40,187.29 L124.45,188.02 L124.51,188.90 L124.56,189.93 L124.61,191.07 L124.67,192.29 L124.72,193.51 L124.78,194.69 L124.83,195.76 L124.88,196.67 L124.94,197.36 L124.99,197.81 L125.05,197.99 L125.10,197.93 L125.15,197.63 L125.21,197.14 L125.26,196.49 L125.32,195.72 L125.37,194.88 L125.42,194.00 L125.48,193.11 L125.53,192.21 L125.59,191.32 L125.64,190.44 L125.69,189.57 L125.75,188.72 L125.80,187.90 L125.85,187.15 L125.91,186.48 L125.96,185.94 L126.02,185.57 L126.07,185.40 L126.12,185.46 L126.18,185.76 L126.23,186.31 L126.29,187.09 L126.34,188.05 L126.39,189.15 L126.45,190.33 L126.50,191.53 L126.56,192.69 L126.61,193.75 L126.66,194.69 L126.72,195.47 L126.77,196.08 L126.83,196.53 L126.88,196.83 L126.93,196.99 L126.99,197.03 L127.04,196.95 L127.09,196.76 L127.15,196.46 L127.20,196.04 L127.26,195.49 L127.31,194.80 L127.36,193.98 L127.42,193.04 L127.47,191.99 L127.53,190.88 L127.58,189.75 L127.63,188.65 L127.69,187.65 L127.74,186.79 L127.80,186.13 L127.85,185.71 L127.90,185.52 L127.96,185.59 L128.01,185.88 L128.07,186.36 L128.12,187.01 L128.17,187.77 L128.23,188.60 L128.28,189.47 L128.34,190.35 L128.39,191.22 L128.44,192.06 L128.50,192.89 L128.55,193.68 L128.60,194.44 L128.66,195.17 L128.71,195.83 L128.77,196.42 L128.82,196.89 L128.87,197.22 L128.93,197.37 L128.98,197.31 L129.04,197.02 L129.09,196.52 L129.14,195.80 L129.20,194.90 L129.25,193.86 L129.31,192.74 L129.36,191.60 L129.41,190.48 L129.47,189.46 L129.52,188.56 L129.58,187.81 L129.63,187.23 L129.68,186.82 L129.74,186.56 L129.79,186.45 L129.84,186.46 L129.90,186.59 L129.95,186.81 L130.01,187.14 L130.06,187.57 L130.11,188.10 L130.17,188.75 L130.22,189.51 L130.28,190.38 L130.33,191.34 L130.38,192.36 L130.44,193.40 L130.49,194.41 L130.55,195.35 L130.60,196.15 L130.65,196.77 L130.71,197.18 L130.76,197.36 L130.82,197.30 L130.87,197.02 L130.92,196.55 L130.98,195.92 L131.03,195.17 L131.08,194.34 L131.14,193.49 L131.19,192.63 L131.25,191.79 L131.30,190.98 L131.35,190.21 L131.41,189.48 L131.46,188.79 L131.52,188.15 L131.57,187.56 L131.62,187.06 L131.68,186.65 L131.73,186.37 L131.79,186.25 L131.84,186.31 L131.89,186.57 L131.95,187.04 L132.00,187.71 L132.06,188.55 L132.11,189.52 L132.16,190.58 L132.22,191.66 L132.27,192.73 L132.32,193.71 L132.38,194.58 L132.43,195.29 L132.49,195.84 L132.54,196.23 L132.59,196.45 L132.65,196.52 L132.70,196.47 L132.76,196.31 L132.81,196.05 L132.86,195.70 L132.92,195.26 L132.97,194.74 L133.03,194.12 L133.08,193.41 L133.13,192.61 L133.19,191.73 L133.24,190.80 L133.30,189.85 L133.35,188.92 L133.40,188.05 L133.46,187.30 L133.51,186.72 L133.57,186.32 L133.62,186.15 L133.67,186.20 L133.73,186.47 L133.78,186.92 L133.83,187.54 L133.89,188.27 L133.94,189.08 L134.00,189.92 L134.05,190.76 L134.10,191.58 L134.16,192.36 L134.21,193.08 L134.27,193.76 L134.32,194.38 L134.37,194.95 L134.43,195.46 L134.48,195.89 L134.54,196.24 L134.59,196.47 L134.64,196.56 L134.70,196.49 L134.75,196.25 L134.81,195.81 L134.86,195.20 L134.91,194.42 L134.97,193.51 L135.02,192.52 L135.07,191.49 L135.13,190.48 L135.18,189.53 L135.24,188.70 L135.29,188.02 L135.34,187.49 L135.40,187.13 L135.45,186.94 L135.51,186.90 L135.56,186.98 L135.61,187.18 L135.67,187.46 L135.72,187.83 L135.78,188.28 L135.83,188.79 L135.88,189.38 L135.94,190.05 L135.99,190.79 L136.05,191.59 L136.10,192.44 L136.15,193.31 L136.21,194.16 L136.26,194.96 L136.31,195.65 L136.37,196.20 L136.42,196.57 L136.48,196.74 L136.53,196.70 L136.58,196.45 L136.64,196.01 L136.69,195.42 L136.75,194.71 L136.80,193.92 L136.85,193.09 L136.91,192.27 L136.96,191.48 L137.02,190.73 L137.07,190.04 L137.12,189.42 L137.18,188.85 L137.23,188.35 L137.29,187.91 L137.34,187.54 L137.39,187.26 L137.45,187.07 L137.50,187.01 L137.56,187.08 L137.61,187.32 L137.66,187.72 L137.72,188.29 L137.77,189.01 L137.82,189.85 L137.88,190.78 L137.93,191.75 L137.99,192.71 L138.04,193.61 L138.09,194.41 L138.15,195.07 L138.20,195.57 L138.26,195.90 L138.31,196.08 L138.36,196.10 L138.42,195.99 L138.47,195.77 L138.53,195.45 L138.58,195.07 L138.63,194.62 L138.69,194.11 L138.74,193.54 L138.80,192.91 L138.85,192.23 L138.90,191.49 L138.96,190.72 L139.01,189.93 L139.06,189.15 L139.12,188.42 L139.17,187.78 L139.23,187.27 L139.28,186.92 L139.33,186.76 L139.39,186.79 L139.44,187.03 L139.50,187.44 L139.55,188.01 L139.60,188.70 L139.66,189.46 L139.71,190.26 L139.77,191.07 L139.82,191.84 L139.87,192.56 L139.93,193.21 L139.98,193.80 L140.04,194.31 L140.09,194.76 L140.14,195.14 L140.20,195.45 L140.25,195.68 L140.30,195.82 L140.36,195.85 L140.41,195.76 L140.47,195.54 L140.52,195.16 L140.57,194.63 L140.63,193.97 L140.68,193.19 L140.74,192.32 L140.79,191.41 L140.84,190.51 L140.90,189.66 L140.95,188.90 L141.01,188.26 L141.06,187.78 L141.11,187.46 L141.17,187.31 L141.22,187.30 L141.28,187.43 L141.33,187.67 L141.38,188.00 L141.44,188.40 L141.49,188.86 L141.54,189.37 L141.60,189.92 L141.65,190.51 L141.71,191.15 L141.76,191.82 L141.81,192.52 L141.87,193.24 L141.92,193.94 L141.98,194.61 L142.03,195.19 L142.08,195.66 L142.14,195.99 L142.19,196.14 L142.25,196.12 L142.30,195.90 L142.35,195.51 L142.41,194.97 L142.46,194.32 L142.52,193.58 L142.57,192.80 L142.62,192.02 L142.68,191.27 L142.73,190.57 L142.79,189.95 L142.84,189.40 L142.89,188.92 L142.95,188.53 L143.00,188.20 L143.05,187.95 L143.11,187.77 L143.16,187.67 L143.22,187.66 L143.27,187.77 L143.32,187.99 L143.38,188.34 L143.43,188.83 L143.49,189.44 L143.54,190.17 L143.59,190.97 L143.65,191.82 L143.70,192.67 L143.76,193.47 L143.81,194.20 L143.86,194.80 L143.92,195.27 L143.97,195.57 L144.03,195.71 L144.08,195.71 L144.13,195.57 L144.19,195.31 L144.24,194.97 L144.29,194.55 L144.35,194.09 L144.40,193.59 L144.46,193.05 L144.51,192.49 L144.56,191.89 L144.62,191.27 L144.67,190.63 L144.73,189.99 L144.78,189.35 L144.83,188.75 L144.89,188.22 L144.94,187.79 L145.00,187.49 L145.05,187.34 L145.10,187.36 L145.16,187.56 L145.21,187.92 L145.27,188.43 L145.32,189.06 L145.37,189.77 L145.43,190.52 L145.48,191.28 L145.53,192.01 L145.59,192.68 L145.64,193.28 L145.70,193.80 L145.75,194.23 L145.80,194.59 L145.86,194.87 L145.91,195.07 L145.97,195.21 L146.02,195.27 L146.07,195.24 L146.13,195.12 L146.18,194.90 L146.24,194.57 L146.29,194.12 L146.34,193.55 L146.40,192.89 L146.45,192.14 L146.51,191.36 L146.56,190.56 L146.61,189.80 L146.67,189.11 L146.72,188.54 L146.78,188.09 L146.83,187.80 L146.88,187.67 L146.94,187.68 L146.99,187.83 L147.04,188.09 L147.10,188.44 L147.15,188.86 L147.21,189.33 L147.26,189.83 L147.31,190.36 L147.37,190.90 L147.42,191.46 L147.48,192.03 L147.53,192.61 L147.58,193.19 L147.64,193.76 L147.69,194.30 L147.75,194.78 L147.80,195.17 L147.85,195.44 L147.91,195.58 L147.96,195.56 L148.02,195.38 L148.07,195.04 L148.12,194.57 L148.18,193.97 L148.23,193.29 L148.28,192.57 L148.34,191.84 L148.39,191.14 L148.45,190.49 L148.50,189.91 L148.55,189.42 L148.61,189.01 L148.66,188.69 L148.72,188.46 L148.77,188.29 L148.82,188.20 L148.88,188.18 L148.93,188.23 L148.99,188.36 L149.04,188.58 L149.09,188.90 L149.15,189.32 L149.20,189.85 L149.26,190.46 L149.31,191.14 L149.36,191.87 L149.42,192.61 L149.47,193.32 L149.52,193.97 L149.58,194.52 L149.63,194.94 L149.69,195.22 L149.74,195.35 L149.79,195.34 L149.85,195.18 L149.90,194.92 L149.96,194.56 L150.01,194.14 L150.06,193.67 L150.12,193.17 L150.17,192.66 L150.23,192.14 L150.28,191.61 L150.33,191.08 L150.39,190.55 L150.44,190.03 L150.50,189.52 L150.55,189.04 L150.60,188.61 L150.66,188.26 L150.71,188.01 L150.77,187.89 L150.82,187.90 L150.87,188.07 L150.93,188.38 L150.98,188.83 L151.03,189.39 L151.09,190.03 L151.14,190.72 L151.20,191.42 L151.25,192.10 L151.30,192.73 L151.36,193.29 L151.41,193.76 L151.47,194.14 L151.52,194.42 L151.57,194.63 L151.63,194.76 L151.68,194.81 L151.74,194.80 L151.79,194.72 L151.84,194.58 L151.90,194.35 L151.95,194.04 L152.01,193.65 L152.06,193.16 L152.11,192.60 L152.17,191.97 L152.22,191.30 L152.27,190.62 L152.33,189.95 L152.38,189.34 L152.44,188.82 L152.49,188.42 L152.54,188.15 L152.60,188.03 L152.65,188.04 L152.71,188.19 L152.76,188.46 L152.81,188.82 L152.87,189.24 L152.92,189.71 L152.98,190.20 L153.03,190.70 L153.08,191.21 L153.14,191.71 L153.19,192.20 L153.25,192.69 L153.30,193.16 L153.35,193.61 L153.41,194.04 L153.46,194.42 L153.51,194.73 L153.57,194.95 L153.62,195.06 L153.68,195.04 L153.73,194.89 L153.78,194.60 L153.84,194.18 L153.89,193.66 L153.95,193.05 L154.00,192.39 L154.05,191.72 L154.11,191.07 L154.16,190.46 L154.22,189.93 L154.27,189.48 L154.32,189.12 L154.38,188.86 L154.43,188.68 L154.49,188.59 L154.54,188.56 L154.59,188.60 L154.65,188.70 L154.70,188.87 L154.75,189.09 L154.81,189.39 L154.86,189.77 L154.92,190.21 L154.97,190.73 L155.02,191.31 L155.08,191.93 L155.13,192.56 L155.19,193.17 L155.24,193.74 L155.29,194.23 L155.35,194.62 L155.40,194.87 L155.46,195.00 L155.51,194.98 L155.56,194.83 L155.62,194.57 L155.67,194.22 L155.73,193.80 L155.78,193.33 L155.83,192.85 L155.89,192.35 L155.94,191.86 L156.00,191.39 L156.05,190.93 L156.10,190.48 L156.16,190.05 L156.21,189.65 L156.26,189.28 L156.32,188.95 L156.37,188.67 L156.43,188.48 L156.48,188.39 L156.53,188.40 L156.59,188.55 L156.64,188.81 L156.70,189.20 L156.75,189.69 L156.80,190.26 L156.86,190.88 L156.91,191.52 L156.97,192.15 L157.02,192.73 L157.07,193.25 L157.13,193.68 L157.18,194.02 L157.24,194.26 L157.29,194.41 L157.34,194.48 L157.40,194.48 L157.45,194.41 L157.50,194.29 L157.56,194.11 L157.61,193.88 L157.67,193.59 L157.72,193.23 L157.77,192.82 L157.83,192.34 L157.88,191.81 L157.94,191.25 L157.99,190.67 L158.04,190.10 L158.10,189.57 L158.15,189.11 L158.21,188.75 L158.26,188.50 L158.31,188.38 L158.37,188.40 L158.42,188.54 L158.48,188.79 L158.53,189.14 L158.58,189.55 L158.64,190.01 L158.69,190.49 L158.74,190.97 L158.80,191.45 L158.85,191.90 L158.91,192.34 L158.96,192.75 L159.01,193.13 L159.07,193.49 L159.12,193.82 L159.18,194.11 L159.23,194.34 L159.28,194.50 L159.34,194.58 L159.39,194.56 L159.45,194.43 L159.50,194.18 L159.55,193.83 L159.61,193.37 L159.66,192.84 L159.72,192.25 L159.77,191.64 L159.82,191.04 L159.88,190.48 L159.93,189.99 L159.99,189.57 L160.04,189.25 L160.09,189.03 L160.15,188.89 L160.20,188.84 L160.25,188.87 L160.31,188.95 L160.36,189.10 L160.42,189.29 L160.47,189.53 L160.52,189.82 L160.58,190.15 L160.63,190.54 L160.69,190.98 L160.74,191.47 L160.79,191.98 L160.85,192.51 L160.90,193.04 L160.96,193.52 L161.01,193.95 L161.06,194.29 L161.12,194.53 L161.17,194.64 L161.23,194.63 L161.28,194.50 L161.33,194.26 L161.39,193.92 L161.44,193.52 L161.49,193.07 L161.55,192.59 L161.60,192.12 L161.66,191.66 L161.71,191.22 L161.76,190.81 L161.82,190.43 L161.87,190.08 L161.93,189.76 L161.98,189.48 L162.03,189.23 L162.09,189.03 L162.14,188.90 L162.20,188.83 L162.25,188.86 L162.30,188.99 L162.36,189.21 L162.41,189.54 L162.47,189.97 L162.52,190.46 L162.57,191.02 L162.63,191.59 L162.68,192.16 L162.73,192.69 L162.79,193.17 L162.84,193.57 L162.90,193.87 L162.95,194.08 L163.00,194.20 L163.06,194.24 L163.11,194.20 L163.17,194.09 L163.22,193.93 L163.27,193.73 L163.33,193.48 L163.38,193.20 L163.44,192.87 L163.49,192.51 L163.54,192.10 L163.60,191.66 L163.65,191.19 L163.71,190.70 L163.76,190.23 L163.81,189.78 L163.87,189.38 L163.92,189.06 L163.98,188.84 L164.03,188.73 L164.08,188.74 L164.14,188.86 L164.19,189.09 L164.24,189.42 L164.30,189.81 L164.35,190.25 L164.41,190.71 L164.46,191.17 L164.51,191.62 L164.57,192.04 L164.62,192.43 L164.68,192.79 L164.73,193.11 L164.78,193.39 L164.84,193.64 L164.89,193.85 L164.95,194.01 L165.00,194.12 L165.05,194.16 L165.11,194.13 L165.16,194.01 L165.22,193.80 L165.27,193.49 L165.32,193.10 L165.38,192.64 L165.43,192.12 L165.48,191.58 L165.54,191.05 L165.59,190.54 L165.65,190.08 L165.70,189.70 L165.75,189.41 L165.81,189.21 L165.86,189.10 L165.92,189.08 L165.97,189.13 L166.02,189.25 L166.08,189.42 L166.13,189.64 L166.19,189.89 L166.24,190.17 L166.29,190.48 L166.35,190.83 L166.40,191.21 L166.46,191.61 L166.51,192.04 L166.56,192.48 L166.62,192.92 L166.67,193.33 L166.72,193.69 L166.78,193.98 L166.83,194.19 L166.89,194.30 L166.94,194.30 L166.99,194.18 L167.05,193.96 L167.10,193.65 L167.16,193.28 L167.21,192.85 L167.26,192.40 L167.32,191.95 L167.37,191.51 L167.43,191.10 L167.48,190.73 L167.53,190.40 L167.59,190.11 L167.64,189.86 L167.70,189.64 L167.75,189.47 L167.80,189.34 L167.86,189.25 L167.91,189.23 L167.96,189.27 L168.02,189.39 L168.07,189.58 L168.13,189.87 L168.18,190.23 L168.23,190.66 L168.29,191.13 L168.34,191.64 L168.40,192.15 L168.45,192.63 L168.50,193.06 L168.56,193.43 L168.61,193.71 L168.67,193.90 L168.72,194.00 L168.77,194.01 L168.83,193.95 L168.88,193.82 L168.94,193.64 L168.99,193.42 L169.04,193.16 L169.10,192.88 L169.15,192.57 L169.21,192.24 L169.26,191.89 L169.31,191.52 L169.37,191.13 L169.42,190.73 L169.47,190.34 L169.53,189.97 L169.58,189.63 L169.64,189.36 L169.69,189.17 L169.74,189.07 L169.80,189.07 L169.85,189.17 L169.91,189.38 L169.96,189.67 L170.01,190.03 L170.07,190.44 L170.12,190.88 L170.18,191.32 L170.23,191.74 L170.28,192.13 L170.34,192.49 L170.39,192.80 L170.45,193.07 L170.50,193.30 L170.55,193.48 L170.61,193.63 L170.66,193.73 L170.71,193.79 L170.77,193.80 L170.82,193.75 L170.88,193.63 L170.93,193.44 L170.98,193.18 L171.04,192.85 L171.09,192.45 L171.15,192.01 L171.20,191.54 L171.25,191.06 L171.31,190.61 L171.36,190.19 L171.42,189.85 L171.47,189.58 L171.52,189.39 L171.58,189.30 L171.63,189.29 L171.69,189.37 L171.74,189.50 L171.79,189.69 L171.85,189.92 L171.90,190.18 L171.95,190.46 L172.01,190.76 L172.06,191.07 L172.12,191.40 L172.17,191.75 L172.22,192.10 L172.28,192.46 L172.33,192.81 L172.39,193.15 L172.44,193.45 L172.49,193.70 L172.55,193.88 L172.60,193.97 L172.66,193.97 L172.71,193.88 L172.76,193.69 L172.82,193.41 L172.87,193.07 L172.93,192.67 L172.98,192.26 L173.03,191.83 L173.09,191.42 L173.14,191.04 L173.20,190.69 L173.25,190.40 L173.30,190.15 L173.36,189.95 L173.41,189.79 L173.46,189.67 L173.52,189.59 L173.57,189.56 L173.63,189.56 L173.68,189.62 L173.73,189.74 L173.79,189.92 L173.84,190.16 L173.90,190.47 L173.95,190.83 L174.00,191.24 L174.06,191.68 L174.11,192.12 L174.17,192.55 L174.22,192.94 L174.27,193.28 L174.33,193.54 L174.38,193.71 L174.44,193.80 L174.49,193.80 L174.54,193.73 L174.60,193.59 L174.65,193.39 L174.70,193.16 L174.76,192.90 L174.81,192.62 L174.87,192.33 L174.92,192.02 L174.97,191.71 L175.03,191.39 L175.08,191.07 L175.14,190.75 L175.19,190.43 L175.24,190.13 L175.30,189.86 L175.35,189.63 L175.41,189.47 L175.46,189.38 L175.51,189.38 L175.57,189.47 L175.62,189.65 L175.68,189.90 L175.73,190.23 L175.78,190.60 L175.84,191.01 L175.89,191.42 L175.94,191.81 L176.00,192.18 L176.05,192.51 L176.11,192.80 L176.16,193.03 L176.21,193.21 L176.27,193.35 L176.32,193.44 L176.38,193.50 L176.43,193.51 L176.48,193.49 L176.54,193.42 L176.59,193.30 L176.65,193.13 L176.70,192.90 L176.75,192.62 L176.81,192.28 L176.86,191.90 L176.92,191.50 L176.97,191.09 L177.02,190.69 L177.08,190.32 L177.13,190.00 L177.18,189.75 L177.24,189.59 L177.29,189.50 L177.35,189.50 L177.40,189.58 L177.45,189.72 L177.51,189.92 L177.56,190.15 L177.62,190.41 L177.67,190.69 L177.72,190.98 L177.78,191.27 L177.83,191.56 L177.89,191.86 L177.94,192.16 L177.99,192.45 L178.05,192.73 L178.10,193.00 L178.16,193.24 L178.21,193.44 L178.26,193.59 L178.32,193.67 L178.37,193.67 L178.43,193.59 L178.48,193.42 L178.53,193.18 L178.59,192.88 L178.64,192.52 L178.69,192.14 L178.75,191.75 L178.80,191.36 L178.86,191.01 L178.91,190.69 L178.96,190.42 L179.02,190.20 L179.07,190.03 L179.13,189.91 L179.18,189.84 L179.23,189.81 L179.29,189.81 L179.34,189.85 L179.40,189.93 L179.45,190.05 L179.50,190.22 L179.56,190.43 L179.61,190.69 L179.67,191.00 L179.72,191.35 L179.77,191.72 L179.83,192.10 L179.88,192.47 L179.93,192.82 L179.99,193.12 L180.04,193.35 L180.10,193.52 L180.15,193.60 L180.20,193.60 L180.26,193.52 L180.31,193.38 L180.37,193.18 L180.42,192.95 L180.47,192.69 L180.53,192.41 L180.58,192.13 L180.64,191.85 L180.69,191.57 L180.74,191.29 L180.80,191.02 L180.85,190.76 L180.91,190.50 L180.96,190.26 L181.01,190.05 L181.07,189.87 L181.12,189.75 L181.17,189.68 L181.23,189.67 L181.28,189.75 L181.34,189.90 L181.39,190.12 L181.44,190.41 L181.50,190.74 L181.55,191.11 L181.61,191.49 L181.66,191.85 L181.71,192.20 L181.77,192.50 L181.82,192.76 L181.88,192.97 L181.93,193.12 L181.98,193.23 L182.04,193.28 L182.09,193.30 L182.15,193.28 L182.20,193.23 L182.25,193.14 L182.31,193.01 L182.36,192.85 L182.42,192.65 L182.47,192.40 L182.52,192.12 L182.58,191.80 L182.63,191.46 L182.68,191.11 L182.74,190.76 L182.79,190.44 L182.85,190.16 L182.90,189.94 L182.95,189.78 L183.01,189.70 L183.06,189.70 L183.12,189.78 L183.17,189.92 L183.22,190.11 L183.28,190.34 L183.33,190.60 L183.39,190.87 L183.44,191.15 L183.49,191.42 L183.55,191.69 L183.60,191.95 L183.66,192.20 L183.71,192.44 L183.76,192.67 L183.82,192.88 L183.87,193.06 L183.92,193.22 L183.98,193.33 L184.03,193.39 L184.09,193.39 L184.14,193.32 L184.19,193.18 L184.25,192.97 L184.30,192.71 L184.36,192.39 L184.41,192.05 L184.46,191.69 L184.52,191.34 L184.57,191.00 L184.63,190.71 L184.68,190.46 L184.73,190.27 L184.79,190.12 L184.84,190.03 L184.90,189.99 L184.95,189.99 L185.00,190.02 L185.06,190.09 L185.11,190.18 L185.16,190.31 L185.22,190.47 L185.27,190.67 L185.33,190.89 L185.38,191.16 L185.43,191.45 L185.49,191.76 L185.54,192.08 L185.60,192.40 L185.65,192.70 L185.70,192.96 L185.76,193.17 L185.81,193.32 L185.87,193.40 L185.92,193.40 L185.97,193.33 L186.03,193.19 L186.08,193.01 L186.14,192.78 L186.19,192.52 L186.24,192.25 L186.30,191.98 L186.35,191.71 L186.41,191.46 L186.46,191.21 L186.51,190.98 L186.57,190.76 L186.62,190.56 L186.67,190.38 L186.73,190.22 L186.78,190.08 L186.84,189.99 L186.89,189.94 L186.94,189.94 L187.00,190.01 L187.05,190.14 L187.11,190.33 L187.16,190.58 L187.21,190.87 L187.27,191.19 L187.32,191.53 L187.38,191.87 L187.43,192.19 L187.48,192.47 L187.54,192.71 L187.59,192.90 L187.65,193.03 L187.70,193.11 L187.75,193.14 L187.81,193.13 L187.86,193.09 L187.91,193.01 L187.97,192.90 L188.02,192.77 L188.08,192.61 L188.13,192.43 L188.18,192.21 L188.24,191.97 L188.29,191.71 L188.35,191.42 L188.40,191.13" fill="none" stroke="#109fd7" stroke-width="1.12" stroke-linejoin="round"/>
<path d="M59.05,177.2 V206.5 H189.55" fill="none" stroke="#2a2a2a" stroke-width="1"/>
<path d="M59.05,177.7 h2.3 M59.05,192.1 h2.3 M59.05,206.5 h2.3 M85.05,206.5 v-2.3 M111.05,206.5 v-2.3 M137.05,206.5 v-2.3 M163.05,206.5 v-2.3 M189.05,206.5 v-2.3 " fill="none" stroke="#2a2a2a" stroke-width="0.9"/>
<text transform="translate(56.2,181.5) scale(1.0,1.14)" font-size="12.2" text-anchor="end" >1.4</text>
<text transform="translate(56.2,195.9) scale(1.0,1.14)" font-size="12.2" text-anchor="end" >1.0</text>
<text transform="translate(56.2,210.3) scale(1.0,1.14)" font-size="12.2" text-anchor="end" >0.6</text>
<text transform="translate(65.3,176.2) scale(1.0,1.12)" font-size="13" text-anchor="start" >GEN<tspan dx="2.2">-</tspan><tspan dx="0.4">LPB torque</tspan></text>
<text transform="translate(59.25,220.2) scale(1.0,1.22)" font-size="12" text-anchor="middle" >0</text>
<text transform="translate(85.25,220.2) scale(1.0,1.22)" font-size="12" text-anchor="middle" >2</text>
<text transform="translate(111.25,220.2) scale(1.0,1.22)" font-size="12" text-anchor="middle" >4</text>
<text transform="translate(137.25,220.2) scale(1.0,1.22)" font-size="12" text-anchor="middle" >6</text>
<text transform="translate(163.25,220.2) scale(1.0,1.22)" font-size="12" text-anchor="middle" >8</text>
<text transform="translate(189.25,220.2) scale(1.0,1.22)" font-size="12" text-anchor="middle" >10</text>
<text x="112.8" y="233" font-size="13"><tspan font-style="italic">t</tspan><tspan dx="1.8"> (s)</tspan></text>
<text transform="translate(41,248.3) scale(1.0,0.93)" font-size="16" text-anchor="start" font-weight="bold">(a)</text>
<text x="63.4" y="248.5" font-size="13.2" text-anchor="start" >Speed deviation and shaft</text>
<text x="61.0" y="264.2" font-size="13.1" text-anchor="start" >torques of the generator</text>
<text transform="translate(22.7,31.6) rotate(-90) scale(1,1.06)" font-size="13.5" text-anchor="middle">Speed</text>
<text transform="translate(40.0,30.4) rotate(-90) scale(1,1.06)" font-size="12.9" text-anchor="middle">(rad·s<tspan font-size="9" dy="-6.5">-1</tspan><tspan dy="6.5">)</tspan></text>
<text transform="translate(10.5,86.9) rotate(-90) scale(1.14,1.06)" font-size="13.5" text-anchor="middle"><tspan font-style="italic">T</tspan><tspan font-size="8" font-style="italic" dy="3">HI-A</tspan></text>
<text transform="translate(26.7,88.0) rotate(-90) scale(1.14,1.06)" font-size="13.5" text-anchor="middle">(p.u.)</text>
<text transform="translate(10.3,141.5) rotate(-90) scale(1,1.06)" font-size="13.5" text-anchor="middle"><tspan font-style="italic">T</tspan><tspan font-size="8" font-style="italic" dy="3" letter-spacing="0.4">A-B</tspan></text>
<text transform="translate(27,142.4) rotate(-90) scale(1.02,1.06)" font-size="13.5" text-anchor="middle">(p.u.)</text>
<text transform="translate(16.8,190.8) rotate(-90) scale(1.05,1.06)" font-size="13.5" text-anchor="middle"><tspan font-style="italic">T</tspan><tspan font-size="8" font-style="italic" dy="3" letter-spacing="0.4">G-B</tspan></text>
<text transform="translate(33.0,191.8) rotate(-90) scale(1.04,1.06)" font-size="13.5" text-anchor="middle">(p.u.)</text>
<path d="M244.90,61.03 L245.24,61.07 L245.57,61.03 L245.91,60.90 L246.25,61.07 L246.59,61.04 L246.92,60.96 L247.26,61.05 L247.60,61.03 L247.93,61.02 L248.27,61.00 L248.61,61.04 L248.95,60.94 L249.28,60.99 L249.62,60.96 L249.96,61.05 L250.29,61.00 L250.63,60.98 L250.97,60.94 L251.30,60.98 L251.64,61.00 L251.98,60.98 L252.32,61.10 L252.65,61.08 L252.99,60.78 L253.33,60.85 L253.66,60.99 L254.00,60.97 L254.34,61.02 L254.68,61.02 L255.01,61.17 L255.35,60.91 L255.69,60.97 L256.02,61.16 L256.36,61.05 L256.70,61.05 L257.04,60.96 L257.37,60.87 L257.71,61.01 L258.05,61.01 L258.38,60.90 L258.72,60.95 L259.06,60.99 L259.39,60.92 L259.73,60.99 L260.07,61.01 L260.41,61.00 L260.74,60.96 L261.08,61.05 L261.42,61.07 L261.75,61.03 L262.09,60.93 L262.43,61.06 L262.77,60.96 L263.10,61.07 L263.44,60.91 L263.78,61.07 L264.11,61.00 L264.45,60.90 L264.79,60.97 L265.13,61.00 L265.46,61.02 L265.80,60.92 L266.14,60.91 L266.47,61.02 L266.81,60.96 L267.15,61.02 L267.49,61.06 L267.82,60.87 L268.16,61.02 L268.50,61.10 L268.83,60.98 L269.17,60.94 L269.51,61.06 L269.84,61.02 L270.18,61.07 L270.52,60.97 L270.86,60.88 L271.19,60.99 L271.53,60.96 L271.87,61.06 L272.20,61.02 L272.54,60.87 L272.88,60.90 L273.22,61.07 L273.55,61.05 L273.89,60.95 L274.23,61.00 L274.56,61.04 L274.90,61.04 L275.24,61.07 L275.58,61.02 L275.91,60.99 L276.25,60.98 L276.59,61.08 L276.92,60.82 L277.26,60.99 L277.60,61.00 L277.94,60.89 L278.27,61.03 L278.61,60.95 L278.95,61.07 L279.28,60.99 L279.62,61.05 L279.96,61.10 L280.29,61.03 L280.63,60.93 L280.97,60.88 L281.31,61.14 L281.64,60.99 L281.98,60.94 L282.32,61.01 L282.65,60.98 L282.99,61.07 L283.33,61.00 L283.67,61.00 L284.00,60.94 L284.34,61.04 L284.68,60.92 L285.01,61.05 L285.35,61.12 L285.69,60.88 L286.03,60.80 L286.36,61.05 L286.70,61.20 L287.04,60.92 L287.37,60.90 L287.71,61.05 L288.05,60.93 L288.38,60.96 L288.72,60.97 L289.06,61.04 L289.40,60.97 L289.73,61.02 L290.07,60.99 L290.41,60.93 L290.74,60.97 L291.08,60.92 L291.42,61.00 L291.76,60.91 L292.09,60.91 L292.43,61.12 L292.77,61.00 L293.10,61.00 L293.44,61.04 L293.78,60.97 L294.12,60.98 L294.45,61.03 L294.79,61.02 L295.13,60.91 L295.46,61.07 L295.80,60.95 L296.14,60.92 L296.48,60.93 L296.81,60.97 L297.15,61.13 L297.49,60.91 L297.82,61.01 L298.16,60.83 L298.50,61.00 L298.83,61.07 L299.17,60.98 L299.51,60.95 L299.85,61.02 L300.18,61.06 L300.52,61.05 L300.86,61.16 L301.19,61.02 L301.53,60.95 L301.87,60.99 L302.21,60.99 L302.54,61.01 L302.88,61.00 L303.22,61.01 L303.55,60.87 L303.89,61.07 L304.23,60.95 L304.57,60.91 L304.90,61.05 L305.24,61.11 L305.58,61.04 L305.91,61.01 L306.25,60.93 L306.59,61.23 L306.93,61.07 L307.26,60.91 L307.60,60.94 L307.94,61.01 L308.27,60.88 L308.61,61.01 L308.95,60.96 L309.28,61.10 L309.62,61.08 L309.96,60.78 L310.30,61.00 L310.63,60.87 L310.97,61.09 L311.31,61.01 L311.64,61.04 L311.98,60.91 L312.32,61.15 L312.66,61.16 L312.99,60.91 L313.33,61.03 L313.67,60.95 L314.00,61.00 L314.34,60.90 L314.68,61.15 L315.02,60.92 L315.35,60.98 L315.69,61.04 L316.03,60.95 L316.36,60.98 L316.70,60.95 L317.04,60.99 L317.37,60.91 L317.71,60.96 L318.05,60.98 L318.39,60.97 L318.72,61.00 L319.06,60.98 L319.40,61.06 L319.73,60.97 L320.07,60.99 L320.41,60.95 L320.75,60.96 L321.08,60.90 L321.42,61.04 L321.76,60.91 L322.09,60.94 L322.43,61.03 L322.77,61.03 L323.11,60.97 L323.44,60.84 L323.78,61.03 L324.12,61.02 L324.45,60.89 L324.79,61.06 L325.13,60.94 L325.47,60.91 L325.80,61.01 L326.14,60.99 L326.48,61.02 L326.81,60.87 L327.15,61.14 L327.49,60.95 L327.82,60.88 L328.16,61.05 L328.50,60.97 L328.84,61.03 L329.17,60.97 L329.51,61.00 L329.85,61.02 L330.18,60.94 L330.52,61.05 L330.86,60.96 L331.20,60.93 L331.53,61.01 L331.87,61.04 L332.21,60.98 L332.54,60.93 L332.88,61.05 L333.22,60.86 L333.56,60.92 L333.89,61.00 L334.23,60.89 L334.57,61.00 L334.90,61.00 L335.24,61.07 L335.58,60.93 L335.92,60.95 L336.25,61.03 L336.59,60.80 L336.93,61.25 L337.26,60.94 L337.60,60.94 L337.94,61.07 L338.27,61.00 L338.61,60.86 L338.95,61.05 L339.29,61.07 L339.62,60.96 L339.96,60.98 L340.30,61.04 L340.63,60.93 L340.97,61.04 L341.31,61.02 L341.65,60.95 L341.98,60.89 L342.32,60.98 L342.66,60.93 L342.99,61.08 L343.33,61.01 L343.67,61.06 L344.01,61.01 L344.34,61.02 L344.68,60.94 L345.02,61.05 L345.35,61.14 L345.69,60.98 L346.03,60.95 L346.36,60.99 L346.70,60.96 L347.04,60.94 L347.38,61.01 L347.71,60.98 L348.05,61.12 L348.39,61.00 L348.72,61.03 L349.06,61.08 L349.40,60.98 L349.74,61.11 L350.07,60.95 L350.41,60.94 L350.75,60.97 L351.08,60.99 L351.42,60.89 L351.76,61.00 L352.10,60.87 L352.43,61.11 L352.77,60.99 L353.11,60.95 L353.44,60.93 L353.78,60.97 L354.12,60.98 L354.46,60.92 L354.79,60.93 L355.13,60.99 L355.47,60.96 L355.80,61.08 L356.14,61.09 L356.48,61.00 L356.81,61.04 L357.15,60.89 L357.49,61.05 L357.83,61.00 L358.16,61.04 L358.50,61.13 L358.84,60.82 L359.17,61.02 L359.51,60.91 L359.85,61.05 L360.19,60.89 L360.52,60.96 L360.86,61.02 L361.20,61.05 L361.53,61.01 L361.87,60.94 L362.21,60.96 L362.55,61.07 L362.88,61.00 L363.22,60.87 L363.56,61.07 L363.89,61.03 L364.23,61.07 L364.57,60.97 L364.91,61.07 L365.24,60.92 L365.58,61.05 L365.92,60.96 L366.25,61.05 L366.59,61.08 L366.93,60.94 L367.26,61.00 L367.60,61.00 L367.94,61.10 L368.28,61.06 L368.61,60.90 L368.95,61.04 L369.29,61.06 L369.62,61.17 L369.96,60.87 L370.30,60.96 L370.64,61.11 L370.97,60.89 L371.31,60.90 L371.65,61.04 L371.98,61.08 L372.32,60.95 L372.66,61.04 L373.00,61.01 L373.33,61.12 L373.67,61.00 L374.01,61.08 L374.34,60.93 L374.68,60.99 L375.02,60.99 L375.35,61.09 L375.69,61.05 L376.03,60.94 L376.37,61.05 L376.70,61.06 L377.04,60.99 L377.38,60.98 L377.71,60.98 L378.05,60.86 L378.39,61.02 L378.73,61.02 L379.06,60.93 L379.40,61.06" fill="none" stroke="#1ea5dc" stroke-width="1.35"/>
<path d="M244.9,42.4 V98.5 H380.4" fill="none" stroke="#2a2a2a" stroke-width="1"/>
<path d="M244.9,42.9 h2.3 M244.9,61.43333333333334 h2.3 M244.9,79.96666666666667 h2.3 M244.9,98.5 h2.3 M271.9,98.5 v-2.3 M298.9,98.5 v-2.3 M325.9,98.5 v-2.3 M352.9,98.5 v-2.3 M379.9,98.5 v-2.3 " fill="none" stroke="#2a2a2a" stroke-width="0.9"/>
<text transform="translate(242.6,47.1) scale(1.0,1.12)" font-size="13" text-anchor="end" >80</text>
<text transform="translate(242.6,65.63) scale(1.0,1.12)" font-size="13" text-anchor="end" >70</text>
<text transform="translate(242.6,84.17) scale(1.0,1.12)" font-size="13" text-anchor="end" >60</text>
<text transform="translate(242.6,102.7) scale(1.0,1.12)" font-size="13" text-anchor="end" >50</text>
<text transform="translate(248,38.9) scale(1.0,1.15)" font-size="13.25" text-anchor="start" >DC voltage</text>
<text transform="translate(221.0,69.4) rotate(-90) scale(1.03,1.06)" font-size="13.5" text-anchor="middle"><tspan font-style="italic">U</tspan><tspan font-size="9" dy="3">DC</tspan><tspan dy="-3"> (kV)</tspan></text>
<path d="M244.90,143.49 L245.24,143.35 L245.57,143.37 L245.91,142.96 L246.25,143.81 L246.59,143.68 L246.92,143.38 L247.26,143.60 L247.60,143.51 L247.93,143.34 L248.27,143.65 L248.61,143.39 L248.95,143.38 L249.28,143.29 L249.62,143.54 L249.96,143.43 L250.29,143.56 L250.63,143.33 L250.97,143.48 L251.30,143.27 L251.64,143.62 L251.98,143.49 L252.32,143.52 L252.65,143.53 L252.99,143.25 L253.33,143.61 L253.66,143.86 L254.00,143.12 L254.34,143.10 L254.68,143.15 L255.01,143.62 L255.35,143.48 L255.69,143.67 L256.02,143.59 L256.36,143.49 L256.70,143.51 L257.04,143.42 L257.37,143.62 L257.71,143.22 L258.05,143.37 L258.38,143.50 L258.72,143.81 L259.06,143.30 L259.39,143.23 L259.73,143.34 L260.07,143.64 L260.41,143.40 L260.74,143.71 L261.08,143.08 L261.42,143.68 L261.75,143.66 L262.09,143.17 L262.43,143.48 L262.77,143.69 L263.10,143.47 L263.44,143.65 L263.78,143.92 L264.11,143.50 L264.45,143.39 L264.79,143.30 L265.13,143.58 L265.46,143.41 L265.80,143.41 L266.14,143.43 L266.47,143.58 L266.81,143.24 L267.15,143.14 L267.49,142.96 L267.82,143.69 L268.16,143.46 L268.50,143.75 L268.83,143.45 L269.17,143.30 L269.51,143.55 L269.84,143.43 L270.18,143.20 L270.52,143.27 L270.86,143.80 L271.19,143.52 L271.53,143.53 L271.87,143.39 L272.20,143.31 L272.54,143.63 L272.88,143.43 L273.22,143.30 L273.55,143.42 L273.89,143.27 L274.23,143.49 L274.56,143.68 L274.90,143.28 L275.24,143.74 L275.58,143.32 L275.91,143.48 L276.25,143.28 L276.59,143.41 L276.92,143.46 L277.26,143.36 L277.60,143.31 L277.94,143.31 L278.27,143.29 L278.61,143.14 L278.95,143.40 L279.28,143.53 L279.62,143.63 L279.96,143.58 L280.29,143.94 L280.63,143.51 L280.97,143.36 L281.31,143.82 L281.64,143.24 L281.98,143.64 L282.32,143.26 L282.65,143.52 L282.99,143.06 L283.33,143.63 L283.67,143.42 L284.00,143.26 L284.34,143.79 L284.68,143.60 L285.01,143.46 L285.35,143.30 L285.69,143.44 L286.03,143.42 L286.36,143.59 L286.70,143.61 L287.04,143.32 L287.37,143.34 L287.71,143.34 L288.05,143.18 L288.38,143.33 L288.72,143.43 L289.06,143.59 L289.40,143.71 L289.73,143.29 L290.07,143.56 L290.41,143.36 L290.74,143.87 L291.08,143.44 L291.42,143.55 L291.76,143.26 L292.09,143.29 L292.43,143.49 L292.77,143.37 L293.10,143.52 L293.44,143.14 L293.78,143.58 L294.12,143.27 L294.45,143.79 L294.79,143.39 L295.13,143.67 L295.46,143.17 L295.80,143.54 L296.14,143.27 L296.48,143.35 L296.81,143.45 L297.15,143.39 L297.49,143.50 L297.82,143.60 L298.16,143.58 L298.50,143.43 L298.83,143.18 L299.17,143.29 L299.51,143.41 L299.85,143.03 L300.18,143.60 L300.52,143.40 L300.86,143.40 L301.19,143.64 L301.53,143.58 L301.87,143.49 L302.21,143.25 L302.54,143.51 L302.88,143.52 L303.22,143.27 L303.55,143.66 L303.89,143.55 L304.23,143.06 L304.57,143.47 L304.90,143.20 L305.24,143.68 L305.58,143.61 L305.91,143.23 L306.25,143.27 L306.59,143.47 L306.93,143.40 L307.26,143.76 L307.60,143.60 L307.94,143.39 L308.27,143.57 L308.61,143.04 L308.95,143.51 L309.28,143.62 L309.62,143.41 L309.96,143.31 L310.30,143.56 L310.63,143.84 L310.97,143.49 L311.31,143.23 L311.64,143.74 L311.98,143.07 L312.32,143.55 L312.66,143.33 L312.99,143.64 L313.33,143.28 L313.67,143.71 L314.00,143.51 L314.34,143.10 L314.68,143.06 L315.02,143.39 L315.35,143.71 L315.69,143.48 L316.03,143.46 L316.36,143.40 L316.70,143.60 L317.04,143.53 L317.37,143.51 L317.71,143.25 L318.05,143.69 L318.39,143.72 L318.72,143.19 L319.06,143.91 L319.40,143.59 L319.73,143.35 L320.07,143.07 L320.41,143.58 L320.75,143.56 L321.08,143.33 L321.42,143.09 L321.76,143.67 L322.09,143.33 L322.43,143.36 L322.77,144.02 L323.11,143.88 L323.44,143.64 L323.78,143.36 L324.12,143.58 L324.45,142.99 L324.79,143.47 L325.13,143.30 L325.47,143.19 L325.80,143.13 L326.14,143.56 L326.48,143.47 L326.81,143.48 L327.15,143.62 L327.49,143.28 L327.82,143.20 L328.16,143.09 L328.50,143.38 L328.84,143.60 L329.17,143.42 L329.51,143.58 L329.85,143.21 L330.18,143.36 L330.52,143.30 L330.86,143.20 L331.20,143.82 L331.53,143.62 L331.87,143.30 L332.21,143.30 L332.54,143.44 L332.88,143.16 L333.22,143.54 L333.56,143.19 L333.89,143.38 L334.23,143.25 L334.57,143.35 L334.90,143.18 L335.24,143.14 L335.58,143.26 L335.92,143.31 L336.25,143.39 L336.59,143.46 L336.93,143.76 L337.26,143.61 L337.60,143.40 L337.94,143.60 L338.27,143.31 L338.61,143.74 L338.95,143.56 L339.29,143.18 L339.62,143.60 L339.96,143.61 L340.30,142.91 L340.63,143.30 L340.97,143.36 L341.31,143.06 L341.65,143.24 L341.98,143.26 L342.32,143.55 L342.66,143.51 L342.99,143.98 L343.33,143.37 L343.67,143.68 L344.01,143.47 L344.34,143.50 L344.68,143.22 L345.02,143.07 L345.35,143.30 L345.69,143.60 L346.03,143.77 L346.36,143.57 L346.70,143.55 L347.04,143.28 L347.38,143.76 L347.71,143.72 L348.05,143.34 L348.39,143.44 L348.72,143.25 L349.06,143.74 L349.40,143.53 L349.74,143.43 L350.07,143.53 L350.41,143.54 L350.75,143.37 L351.08,143.20 L351.42,143.19 L351.76,143.10 L352.10,143.54 L352.43,143.89 L352.77,143.11 L353.11,143.48 L353.44,143.53 L353.78,143.25 L354.12,143.49 L354.46,143.23 L354.79,143.69 L355.13,143.33 L355.47,143.47 L355.80,143.59 L356.14,143.36 L356.48,143.09 L356.81,143.34 L357.15,143.60 L357.49,143.43 L357.83,143.50 L358.16,143.23 L358.50,143.48 L358.84,143.60 L359.17,143.46 L359.51,143.83 L359.85,143.41 L360.19,143.24 L360.52,143.13 L360.86,143.68 L361.20,143.44 L361.53,143.65 L361.87,143.54 L362.21,143.78 L362.55,143.70 L362.88,143.37 L363.22,143.50 L363.56,143.67 L363.89,143.20 L364.23,143.74 L364.57,143.69 L364.91,143.65 L365.24,143.41 L365.58,143.51 L365.92,143.23 L366.25,143.46 L366.59,143.33 L366.93,143.47 L367.26,143.35 L367.60,143.51 L367.94,143.69 L368.28,143.19 L368.61,143.64 L368.95,143.05 L369.29,143.02 L369.62,143.43 L369.96,143.45 L370.30,143.54 L370.64,143.12 L370.97,143.44 L371.31,143.48 L371.65,143.70 L371.98,143.43 L372.32,143.56 L372.66,143.25 L373.00,143.41 L373.33,143.36 L373.67,143.59 L374.01,143.25 L374.34,143.28 L374.68,143.57 L375.02,143.81 L375.35,143.53 L375.69,143.51 L376.03,143.38 L376.37,143.67 L376.70,143.56 L377.04,143.80 L377.38,143.52 L377.71,143.26 L378.05,143.34 L378.39,143.25 L378.73,143.20 L379.06,143.70 L379.40,143.61" fill="none" stroke="#109fd7" stroke-width="1.9"/>
<path d="M244.9,123.7 V180.45 H380.4" fill="none" stroke="#2a2a2a" stroke-width="1"/>
<path d="M244.9,124.2 h2.3 M244.9,152.325 h2.3 M244.9,180.45 h2.3 M271.9,180.45 v-2.3 M298.9,180.45 v-2.3 M325.9,180.45 v-2.3 M352.9,180.45 v-2.3 M379.9,180.45 v-2.3 " fill="none" stroke="#2a2a2a" stroke-width="0.9"/>
<text transform="translate(242.6,128.4) scale(1.0,1.12)" font-size="13" text-anchor="end" >550</text>
<text transform="translate(242.6,156.52) scale(1.0,1.12)" font-size="13" text-anchor="end" >500</text>
<text transform="translate(242.6,184.65) scale(1.0,1.12)" font-size="13" text-anchor="end" >450</text>
<text transform="translate(248,119.6) scale(1.0,1.15)" font-size="13.25" text-anchor="start" >AC voltage</text>
<text transform="translate(214.8,152.5) rotate(-90) scale(1.02,1.06)" font-size="13.5" text-anchor="middle"><tspan font-style="italic">U</tspan><tspan font-size="9" dy="3">AC</tspan><tspan dy="-3"> (kV)</tspan></text>
<text transform="translate(245.25,192.4) scale(1.0,1.06)" font-size="12.4" text-anchor="middle" >0</text>
<text transform="translate(272.37,192.4) scale(1.0,1.06)" font-size="12.4" text-anchor="middle" >2</text>
<text transform="translate(299.49,192.4) scale(1.0,1.06)" font-size="12.4" text-anchor="middle" >4</text>
<text transform="translate(326.61,192.4) scale(1.0,1.06)" font-size="12.4" text-anchor="middle" >6</text>
<text transform="translate(353.73,192.4) scale(1.0,1.06)" font-size="12.4" text-anchor="middle" >8</text>
<text transform="translate(380.85,192.4) scale(1.0,1.06)" font-size="12.4" text-anchor="middle" >10</text>
<text x="301.5" y="205.6" font-size="13"><tspan font-style="italic">t</tspan><tspan dx="1"> (s)</tspan></text>
<text transform="translate(283.3,222.8) scale(1.0,0.95)" font-size="16" text-anchor="start" font-weight="bold">(b)</text>
<text transform="translate(306.2,221.8) scale(1.0,1.16)" font-size="12.6" text-anchor="start" >UPFC</text>
</svg>
</body></html>
